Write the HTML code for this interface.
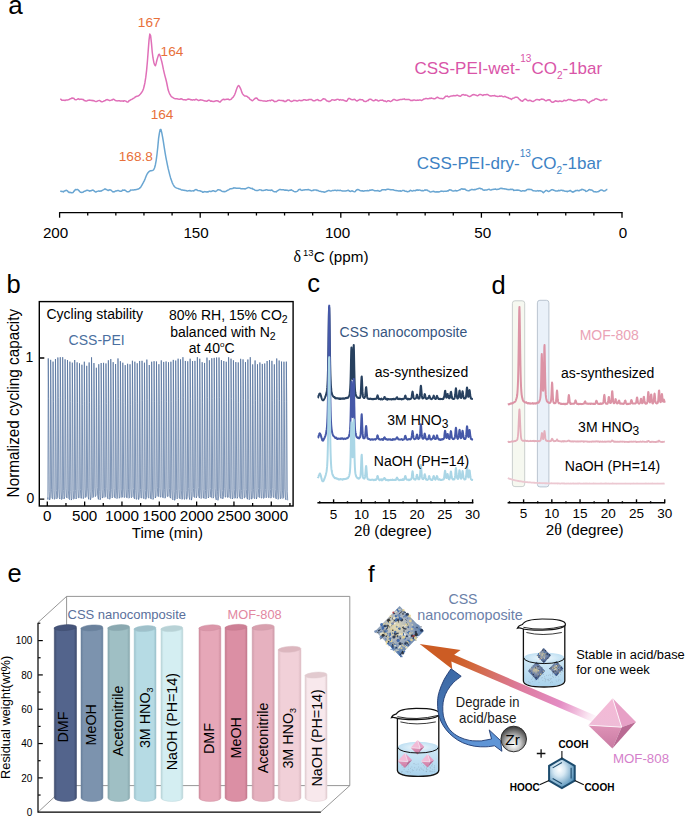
<!DOCTYPE html>
<html><head><meta charset="utf-8"><style>
html,body{margin:0;padding:0;background:#fff;width:685px;height:816px;overflow:hidden}
svg{display:block}
text{font-family:"Liberation Sans",sans-serif}
</style></head><body>
<svg width="685" height="816" viewBox="0 0 685 816">
<defs>
<linearGradient id="cg0" x1="0" x2="1" y1="0" y2="0"><stop offset="0" stop-color="#3d4a6c"/><stop offset="0.12" stop-color="#53648c"/><stop offset="0.45" stop-color="#53648c" stop-opacity="1"/><stop offset="0.55" stop-color="#53648c"/><stop offset="0.88" stop-color="#53648c"/><stop offset="1" stop-color="#3d4a6c"/></linearGradient>
<linearGradient id="cg1" x1="0" x2="1" y1="0" y2="0"><stop offset="0" stop-color="#68809c"/><stop offset="0.12" stop-color="#7c93ae"/><stop offset="0.45" stop-color="#7c93ae" stop-opacity="1"/><stop offset="0.55" stop-color="#7c93ae"/><stop offset="0.88" stop-color="#7c93ae"/><stop offset="1" stop-color="#68809c"/></linearGradient>
<linearGradient id="cg2" x1="0" x2="1" y1="0" y2="0"><stop offset="0" stop-color="#88a8ae"/><stop offset="0.12" stop-color="#9fbfc4"/><stop offset="0.45" stop-color="#9fbfc4" stop-opacity="1"/><stop offset="0.55" stop-color="#9fbfc4"/><stop offset="0.88" stop-color="#9fbfc4"/><stop offset="1" stop-color="#88a8ae"/></linearGradient>
<linearGradient id="cg3" x1="0" x2="1" y1="0" y2="0"><stop offset="0" stop-color="#9cc2cc"/><stop offset="0.12" stop-color="#b6dbe4"/><stop offset="0.45" stop-color="#b6dbe4" stop-opacity="1"/><stop offset="0.55" stop-color="#b6dbe4"/><stop offset="0.88" stop-color="#b6dbe4"/><stop offset="1" stop-color="#9cc2cc"/></linearGradient>
<linearGradient id="cg4" x1="0" x2="1" y1="0" y2="0"><stop offset="0" stop-color="#b8d4d8"/><stop offset="0.12" stop-color="#d4eef2"/><stop offset="0.45" stop-color="#d4eef2" stop-opacity="1"/><stop offset="0.55" stop-color="#d4eef2"/><stop offset="0.88" stop-color="#d4eef2"/><stop offset="1" stop-color="#b8d4d8"/></linearGradient>
<linearGradient id="cg5" x1="0" x2="1" y1="0" y2="0"><stop offset="0" stop-color="#cf8e9f"/><stop offset="0.12" stop-color="#e6a7b8"/><stop offset="0.45" stop-color="#e6a7b8" stop-opacity="1"/><stop offset="0.55" stop-color="#e6a7b8"/><stop offset="0.88" stop-color="#e6a7b8"/><stop offset="1" stop-color="#cf8e9f"/></linearGradient>
<linearGradient id="cg6" x1="0" x2="1" y1="0" y2="0"><stop offset="0" stop-color="#c47a8e"/><stop offset="0.12" stop-color="#db8fa4"/><stop offset="0.45" stop-color="#db8fa4" stop-opacity="1"/><stop offset="0.55" stop-color="#db8fa4"/><stop offset="0.88" stop-color="#db8fa4"/><stop offset="1" stop-color="#c47a8e"/></linearGradient>
<linearGradient id="cg7" x1="0" x2="1" y1="0" y2="0"><stop offset="0" stop-color="#cf9caa"/><stop offset="0.12" stop-color="#e6b1bf"/><stop offset="0.45" stop-color="#e6b1bf" stop-opacity="1"/><stop offset="0.55" stop-color="#e6b1bf"/><stop offset="0.88" stop-color="#e6b1bf"/><stop offset="1" stop-color="#cf9caa"/></linearGradient>
<linearGradient id="cg8" x1="0" x2="1" y1="0" y2="0"><stop offset="0" stop-color="#dcbac2"/><stop offset="0.12" stop-color="#f1d0d8"/><stop offset="0.45" stop-color="#f1d0d8" stop-opacity="1"/><stop offset="0.55" stop-color="#f1d0d8"/><stop offset="0.88" stop-color="#f1d0d8"/><stop offset="1" stop-color="#dcbac2"/></linearGradient>
<linearGradient id="cg9" x1="0" x2="1" y1="0" y2="0"><stop offset="0" stop-color="#e0ccd0"/><stop offset="0.12" stop-color="#f8e8ec"/><stop offset="0.45" stop-color="#f8e8ec" stop-opacity="1"/><stop offset="0.55" stop-color="#f8e8ec"/><stop offset="0.88" stop-color="#f8e8ec"/><stop offset="1" stop-color="#e0ccd0"/></linearGradient>
<linearGradient id="arrg" gradientUnits="userSpaceOnUse" x1="598" y1="720.5" x2="452" y2="657"><stop offset="0" stop-color="#ffffff"/><stop offset="0.07" stop-color="#fae6f2"/><stop offset="0.15" stop-color="#f0bcdc"/><stop offset="0.26" stop-color="#e48cc4"/><stop offset="0.55" stop-color="#dc7a9a"/><stop offset="0.85" stop-color="#d2683e"/><stop offset="1" stop-color="#cc5c24"/></linearGradient>
<radialGradient id="cssg2" cx="0.45" cy="0.45" r="0.6"><stop offset="0" stop-color="#d8cca0"/><stop offset="0.4" stop-color="#7888a8"/><stop offset="1" stop-color="#28406e"/></radialGradient>
<radialGradient id="cssg" cx="0.42" cy="0.42" r="0.6"><stop offset="0" stop-color="#e8dcb0"/><stop offset="0.45" stop-color="#a9b3bf"/><stop offset="1" stop-color="#4a72a8"/></radialGradient>
<linearGradient id="liq" x1="0" y1="0" x2="0" y2="1"><stop offset="0" stop-color="#d2eaf7"/><stop offset="1" stop-color="#a9d2ec"/></linearGradient>
<radialGradient id="surf" cx="0.5" cy="0.5" r="0.6"><stop offset="0" stop-color="#f2f9fd"/><stop offset="1" stop-color="#b4daf0"/></radialGradient>
<linearGradient id="octA" x1="0" y1="0" x2="0" y2="1"><stop offset="0" stop-color="#f4b9d6"/><stop offset="1" stop-color="#efbcd7"/></linearGradient>
<linearGradient id="octC" x1="0" y1="0" x2="0" y2="1"><stop offset="0" stop-color="#de93b7"/><stop offset="1" stop-color="#c97aa2"/></linearGradient>
<linearGradient id="bluearr" x1="0" y1="0" x2="0.3" y2="1"><stop offset="0" stop-color="#3b67a3"/><stop offset="0.55" stop-color="#4777b5"/><stop offset="1" stop-color="#5f95d6"/></linearGradient>
<radialGradient id="zr" cx="0.5" cy="0.62" r="0.6" fx="0.5" fy="0.75"><stop offset="0" stop-color="#ffffff"/><stop offset="0.45" stop-color="#c8c8c8"/><stop offset="1" stop-color="#3c3c3c"/></radialGradient>
<radialGradient id="hexg" cx="0.4" cy="0.38" r="0.65"><stop offset="0" stop-color="#ffffff"/><stop offset="0.35" stop-color="#d6e8f3"/><stop offset="1" stop-color="#4f8db6"/></radialGradient>
</defs>
<rect width="685" height="816" fill="#fff"/>
<!-- panel a -->
<text x="8.3" y="13.6" font-family="Liberation Sans" font-size="26" fill="#000" text-anchor="start" font-weight="normal" >a</text>
<g stroke="#000" stroke-width="1.3" fill="none">
<path d="M59.6,212.7 H622.4"/>
<path d="M59.60,212.1 V217.70"/>
<path d="M87.72,212.1 V215.50"/>
<path d="M115.84,212.1 V215.50"/>
<path d="M143.96,212.1 V215.50"/>
<path d="M172.08,212.1 V215.50"/>
<path d="M200.20,212.1 V217.70"/>
<path d="M228.32,212.1 V215.50"/>
<path d="M256.44,212.1 V215.50"/>
<path d="M284.56,212.1 V215.50"/>
<path d="M312.68,212.1 V215.50"/>
<path d="M340.80,212.1 V217.70"/>
<path d="M368.92,212.1 V215.50"/>
<path d="M397.04,212.1 V215.50"/>
<path d="M425.16,212.1 V215.50"/>
<path d="M453.28,212.1 V215.50"/>
<path d="M481.40,212.1 V217.70"/>
<path d="M509.52,212.1 V215.50"/>
<path d="M537.64,212.1 V215.50"/>
<path d="M565.76,212.1 V215.50"/>
<path d="M593.88,212.1 V215.50"/>
<path d="M622.00,212.1 V217.70"/>
</g>
<text x="55.6" y="237.9" font-family="Liberation Sans" font-size="15.2" fill="#000" text-anchor="middle" font-weight="normal" >200</text>
<text x="196.1" y="237.9" font-family="Liberation Sans" font-size="15.2" fill="#000" text-anchor="middle" font-weight="normal" >150</text>
<text x="337.6" y="237.9" font-family="Liberation Sans" font-size="15.2" fill="#000" text-anchor="middle" font-weight="normal" >100</text>
<text x="482.8" y="237.9" font-family="Liberation Sans" font-size="15.2" fill="#000" text-anchor="middle" font-weight="normal" >50</text>
<text x="622.9" y="237.9" font-family="Liberation Sans" font-size="15.2" fill="#000" text-anchor="middle" font-weight="normal" >0</text>
<text x="293.5" y="261.5" font-family="Liberation Sans" font-size="15.2"><tspan font-family="Liberation Serif" font-size="16">δ</tspan><tspan dx="2" dy="-6" font-size="9.5">13</tspan><tspan dy="6">C (ppm)</tspan></text>
<path d="M60.20,98.87 L61.00,99.33 L61.80,100.28 L62.60,100.25 L63.40,100.13 L64.20,100.27 L65.00,100.48 L65.80,100.04 L66.60,99.96 L67.40,100.12 L68.20,99.83 L69.00,99.62 L69.80,98.97 L70.60,98.80 L71.40,98.26 L72.20,97.95 L73.00,98.21 L73.80,98.27 L74.60,99.41 L75.40,99.64 L76.20,99.67 L77.00,99.39 L77.80,99.00 L78.60,98.81 L79.40,99.40 L80.20,99.36 L81.00,99.31 L81.80,99.16 L82.60,99.42 L83.40,99.45 L84.20,100.50 L85.00,100.64 L85.80,100.93 L86.60,101.06 L87.40,100.69 L88.20,100.26 L89.00,100.21 L89.80,100.11 L90.60,100.32 L91.40,100.52 L92.20,100.31 L93.00,100.84 L93.80,100.56 L94.60,101.13 L95.40,101.39 L96.20,101.40 L97.00,101.23 L97.80,100.87 L98.60,100.63 L99.40,100.47 L100.20,100.98 L101.00,101.54 L101.80,101.73 L102.60,101.66 L103.40,101.39 L104.20,100.80 L105.00,100.75 L105.80,100.03 L106.60,99.73 L107.40,99.61 L108.20,99.94 L109.00,100.32 L109.80,100.64 L110.60,100.37 L111.40,100.08 L112.20,100.01 L113.00,99.24 L113.80,99.28 L114.60,99.87 L115.40,100.50 L116.20,100.66 L117.00,100.89 L117.80,100.87 L118.60,100.65 L119.40,100.70 L120.20,101.14 L121.00,100.88 L121.80,101.07 L122.60,100.94 L123.40,101.30 L124.20,100.65 L125.00,100.87 L125.80,101.12 L126.60,101.67 L127.40,101.91 L128.20,101.91 L129.00,100.77 L129.80,100.51 L130.60,99.91 L131.40,99.45 L132.20,99.09 L133.00,98.53 L133.80,98.10 L134.60,97.61 L135.40,96.94 L136.20,96.52 L137.00,96.26 L137.80,96.02 L138.60,95.74 L139.40,95.07 L140.20,94.23 L141.00,93.33 L141.80,92.20 L142.60,90.84 L143.40,88.99 L144.20,86.03 L145.00,82.24 L145.80,77.15 L146.60,70.31 L147.40,61.50 L148.20,50.91 L149.00,40.46 L149.80,34.04 L150.60,35.56 L151.40,42.58 L152.20,51.74 L153.00,57.98 L153.80,62.16 L154.60,64.70 L155.40,65.66 L156.20,63.19 L157.00,59.77 L157.80,57.14 L158.60,54.66 L159.40,54.26 L160.20,56.04 L161.00,58.86 L161.80,61.73 L162.60,65.38 L163.40,69.41 L164.20,72.87 L165.00,76.06 L165.80,78.99 L166.60,82.26 L167.40,86.27 L168.20,90.11 L169.00,92.31 L169.80,94.10 L170.60,95.47 L171.40,96.59 L172.20,97.17 L173.00,97.72 L173.80,98.20 L174.60,98.50 L175.40,98.70 L176.20,98.81 L177.00,98.80 L177.80,98.95 L178.60,99.14 L179.40,99.28 L180.20,99.14 L181.00,98.74 L181.80,99.00 L182.60,99.48 L183.40,99.66 L184.20,99.76 L185.00,99.75 L185.80,100.01 L186.60,99.74 L187.40,99.37 L188.20,98.98 L189.00,99.19 L189.80,99.21 L190.60,99.77 L191.40,99.77 L192.20,100.17 L193.00,99.84 L193.80,99.77 L194.60,100.02 L195.40,99.51 L196.20,99.28 L197.00,99.60 L197.80,100.06 L198.60,100.51 L199.40,100.22 L200.20,99.81 L201.00,100.00 L201.80,100.09 L202.60,100.17 L203.40,100.55 L204.20,100.63 L205.00,101.05 L205.80,100.95 L206.60,101.19 L207.40,100.94 L208.20,100.32 L209.00,100.22 L209.80,100.51 L210.60,101.22 L211.40,101.03 L212.20,101.33 L213.00,101.50 L213.80,101.59 L214.60,101.26 L215.40,101.09 L216.20,100.74 L217.00,100.77 L217.80,100.97 L218.60,101.30 L219.40,101.96 L220.20,101.99 L221.00,100.93 L221.80,100.18 L222.60,99.66 L223.40,99.22 L224.20,99.71 L225.00,99.50 L225.80,99.51 L226.60,99.36 L227.40,99.25 L228.20,99.11 L229.00,99.74 L229.80,99.77 L230.60,99.40 L231.40,99.10 L232.20,97.88 L233.00,97.40 L233.80,96.08 L234.60,94.85 L235.40,92.65 L236.20,90.16 L237.00,88.00 L237.80,86.28 L238.60,85.52 L239.40,86.32 L240.20,87.82 L241.00,89.60 L241.80,92.19 L242.60,93.85 L243.40,94.88 L244.20,95.55 L245.00,96.12 L245.80,96.07 L246.60,96.20 L247.40,96.67 L248.20,97.50 L249.00,97.82 L249.80,99.15 L250.60,99.59 L251.40,100.08 L252.20,100.72 L253.00,100.30 L253.80,99.57 L254.60,98.87 L255.40,98.19 L256.20,97.94 L257.00,98.19 L257.80,99.27 L258.60,100.11 L259.40,100.26 L260.20,100.48 L261.00,100.44 L261.80,100.61 L262.60,100.88 L263.40,101.06 L264.20,101.06 L265.00,101.07 L265.80,101.17 L266.60,101.31 L267.40,100.83 L268.20,100.66 L269.00,100.61 L269.80,100.46 L270.60,100.71 L271.40,99.97 L272.20,100.14 L273.00,100.19 L273.80,101.17 L274.60,101.72 L275.40,101.40 L276.20,101.46 L277.00,101.12 L277.80,100.52 L278.60,100.25 L279.40,100.13 L280.20,100.36 L281.00,100.53 L281.80,100.44 L282.60,100.80 L283.40,100.55 L284.20,101.44 L285.00,101.34 L285.80,101.55 L286.60,100.83 L287.40,100.09 L288.20,100.01 L289.00,99.95 L289.80,100.55 L290.60,101.03 L291.40,101.50 L292.20,101.31 L293.00,100.92 L293.80,100.32 L294.60,100.39 L295.40,100.41 L296.20,100.75 L297.00,101.08 L297.80,101.00 L298.60,100.38 L299.40,100.22 L300.20,100.41 L301.00,100.75 L301.80,100.59 L302.60,100.55 L303.40,99.84 L304.20,99.85 L305.00,99.77 L305.80,100.17 L306.60,100.25 L307.40,99.93 L308.20,100.04 L309.00,99.45 L309.80,99.57 L310.60,99.50 L311.40,99.48 L312.20,100.02 L313.00,100.66 L313.80,100.85 L314.60,100.81 L315.40,100.52 L316.20,99.89 L317.00,99.84 L317.80,99.56 L318.60,100.42 L319.40,100.60 L320.20,100.70 L321.00,100.52 L321.80,100.05 L322.60,99.12 L323.40,98.78 L324.20,98.97 L325.00,99.05 L325.80,99.75 L326.60,100.86 L327.40,100.89 L328.20,101.49 L329.00,101.31 L329.80,101.49 L330.60,100.87 L331.40,100.20 L332.20,99.73 L333.00,99.87 L333.80,100.01 L334.60,100.36 L335.40,100.05 L336.20,99.83 L337.00,99.23 L337.80,99.37 L338.60,99.51 L339.40,100.15 L340.20,99.61 L341.00,99.90 L341.80,100.08 L342.60,99.86 L343.40,99.99 L344.20,100.55 L345.00,100.80 L345.80,101.16 L346.60,101.18 L347.40,100.19 L348.20,98.89 L349.00,98.37 L349.80,98.50 L350.60,99.27 L351.40,99.47 L352.20,99.71 L353.00,99.79 L353.80,99.42 L354.60,99.31 L355.40,99.93 L356.20,100.68 L357.00,101.09 L357.80,100.41 L358.60,100.26 L359.40,99.44 L360.20,99.47 L361.00,99.80 L361.80,99.79 L362.60,99.67 L363.40,100.63 L364.20,101.36 L365.00,101.42 L365.80,101.40 L366.60,101.22 L367.40,100.49 L368.20,100.63 L369.00,99.48 L369.80,99.30 L370.60,99.32 L371.40,99.57 L372.20,100.17 L373.00,100.69 L373.80,100.65 L374.60,100.54 L375.40,99.63 L376.20,99.96 L377.00,100.07 L377.80,100.70 L378.60,101.00 L379.40,100.61 L380.20,100.29 L381.00,100.31 L381.80,100.14 L382.60,100.01 L383.40,100.76 L384.20,101.15 L385.00,100.83 L385.80,101.40 L386.60,101.70 L387.40,101.01 L388.20,100.71 L389.00,100.86 L389.80,101.25 L390.60,101.53 L391.40,101.18 L392.20,100.66 L393.00,99.82 L393.80,99.54 L394.60,99.49 L395.40,100.06 L396.20,100.24 L397.00,100.39 L397.80,100.33 L398.60,99.91 L399.40,99.70 L400.20,99.57 L401.00,99.52 L401.80,99.43 L402.60,99.18 L403.40,99.15 L404.20,98.84 L405.00,99.51 L405.80,99.53 L406.60,99.56 L407.40,99.56 L408.20,99.37 L409.00,99.53 L409.80,99.69 L410.60,100.47 L411.40,100.44 L412.20,100.29 L413.00,100.39 L413.80,99.89 L414.60,100.07 L415.40,100.30 L416.20,100.40 L417.00,100.13 L417.80,100.12 L418.60,100.30 L419.40,99.88 L420.20,99.89 L421.00,100.21 L421.80,100.42 L422.60,99.88 L423.40,99.29 L424.20,98.96 L425.00,98.74 L425.80,98.47 L426.60,98.53 L427.40,98.84 L428.20,98.63 L429.00,98.55 L429.80,98.21 L430.60,98.46 L431.40,98.02 L432.20,98.37 L433.00,98.51 L433.80,98.72 L434.60,98.86 L435.40,98.46 L436.20,97.98 L437.00,97.35 L437.80,97.36 L438.60,97.89 L439.40,98.27 L440.20,98.44 L441.00,98.59 L441.80,98.58 L442.60,98.71 L443.40,98.42 L444.20,97.97 L445.00,96.83 L445.80,96.13 L446.60,96.37 L447.40,96.05 L448.20,96.80 L449.00,96.88 L449.80,96.52 L450.60,96.12 L451.40,96.00 L452.20,95.91 L453.00,95.84 L453.80,95.50 L454.60,95.85 L455.40,95.73 L456.20,95.48 L457.00,95.24 L457.80,95.36 L458.60,95.86 L459.40,96.07 L460.20,96.31 L461.00,95.76 L461.80,94.99 L462.60,94.67 L463.40,94.57 L464.20,94.92 L465.00,95.29 L465.80,94.85 L466.60,95.15 L467.40,95.42 L468.20,96.15 L469.00,96.40 L469.80,96.52 L470.60,96.15 L471.40,95.58 L472.20,95.04 L473.00,94.63 L473.80,94.61 L474.60,94.63 L475.40,95.12 L476.20,95.32 L477.00,95.64 L477.80,95.75 L478.60,95.12 L479.40,94.55 L480.20,94.56 L481.00,94.62 L481.80,94.91 L482.60,95.48 L483.40,95.20 L484.20,94.66 L485.00,94.85 L485.80,94.83 L486.60,94.47 L487.40,94.48 L488.20,94.82 L489.00,95.35 L489.80,95.79 L490.60,96.08 L491.40,95.99 L492.20,95.80 L493.00,95.81 L493.80,95.78 L494.60,95.51 L495.40,95.93 L496.20,96.21 L497.00,96.25 L497.80,96.61 L498.60,96.35 L499.40,96.00 L500.20,96.18 L501.00,96.01 L501.80,96.11 L502.60,96.50 L503.40,96.71 L504.20,96.64 L505.00,96.27 L505.80,96.95 L506.60,97.35 L507.40,97.45 L508.20,97.78 L509.00,98.22 L509.80,98.44 L510.60,98.78 L511.40,99.45 L512.20,98.76 L513.00,98.15 L513.80,97.97 L514.60,97.71 L515.40,97.24 L516.20,97.27 L517.00,97.14 L517.80,97.60 L518.60,98.45 L519.40,99.31 L520.20,99.89 L521.00,100.71 L521.80,100.94 L522.60,101.32 L523.40,100.04 L524.20,99.61 L525.00,98.97 L525.80,99.16 L526.60,99.86 L527.40,100.42 L528.20,100.70 L529.00,100.47 L529.80,100.28 L530.60,100.47 L531.40,101.02 L532.20,101.36 L533.00,101.57 L533.80,101.12 L534.60,100.68 L535.40,100.17 L536.20,99.60 L537.00,99.36 L537.80,99.65 L538.60,99.74 L539.40,100.19 L540.20,99.44 L541.00,99.44 L541.80,99.02 L542.60,99.17 L543.40,99.34 L544.20,99.72 L545.00,100.30 L545.80,100.75 L546.60,100.69 L547.40,100.07 L548.20,99.74 L549.00,99.98 L549.80,99.79 L550.60,100.98 L551.40,101.68 L552.20,102.31 L553.00,102.33 L553.80,101.81 L554.60,101.46 L555.40,100.66 L556.20,101.13 L557.00,101.10 L557.80,101.60 L558.60,101.59 L559.40,100.94 L560.20,101.04 L561.00,101.17 L561.80,101.55 L562.60,101.27 L563.40,100.89 L564.20,100.17 L565.00,100.56 L565.80,100.73 L566.60,100.42 L567.40,100.14 L568.20,99.48 L569.00,99.51 L569.80,99.65 L570.60,99.51 L571.40,100.03 L572.20,100.32 L573.00,100.41 L573.80,101.03 L574.60,100.56 L575.40,100.70 L576.20,100.64 L577.00,100.44 L577.80,99.97 L578.60,99.73 L579.40,99.60 L580.20,99.76 L581.00,100.17 L581.80,99.98 L582.60,99.81 L583.40,99.84 L584.20,100.03 L585.00,99.91 L585.80,100.29 L586.60,100.87 L587.40,101.99 L588.20,102.58 L589.00,102.92 L589.80,101.90 L590.60,101.45 L591.40,101.16 L592.20,100.55 L593.00,100.21 L593.80,100.23 L594.60,99.45 L595.40,98.89 L596.20,98.60 L597.00,98.93 L597.80,99.30 L598.60,99.51 L599.40,99.97 L600.20,100.44 L601.00,100.53 L601.80,100.19 L602.60,100.05 L603.40,99.72 L604.20,99.26 L605.00,99.68 L605.80,99.96 L606.60,99.78 L607.40,99.39" fill="none" stroke="#e070b8" stroke-width="1.5" stroke-linejoin="round"/>
<path d="M60.20,191.23 L61.00,191.31 L61.80,191.56 L62.60,191.55 L63.40,191.92 L64.20,190.98 L65.00,190.95 L65.80,190.40 L66.60,190.35 L67.40,190.79 L68.20,191.88 L69.00,192.53 L69.80,192.30 L70.60,192.45 L71.40,192.78 L72.20,192.65 L73.00,192.61 L73.80,191.40 L74.60,190.61 L75.40,189.53 L76.20,189.83 L77.00,189.41 L77.80,189.47 L78.60,190.40 L79.40,191.10 L80.20,192.13 L81.00,192.22 L81.80,192.43 L82.60,192.25 L83.40,191.94 L84.20,191.24 L85.00,191.15 L85.80,190.76 L86.60,190.34 L87.40,190.33 L88.20,190.49 L89.00,190.66 L89.80,191.27 L90.60,190.66 L91.40,190.64 L92.20,190.14 L93.00,190.05 L93.80,190.59 L94.60,191.43 L95.40,191.97 L96.20,191.90 L97.00,191.38 L97.80,191.18 L98.60,190.90 L99.40,191.18 L100.20,190.90 L101.00,191.19 L101.80,190.73 L102.60,190.12 L103.40,189.90 L104.20,189.46 L105.00,188.74 L105.80,189.38 L106.60,189.42 L107.40,190.18 L108.20,190.57 L109.00,189.93 L109.80,189.87 L110.60,189.90 L111.40,190.52 L112.20,191.29 L113.00,191.94 L113.80,191.63 L114.60,191.82 L115.40,191.05 L116.20,190.90 L117.00,190.71 L117.80,190.60 L118.60,190.62 L119.40,191.02 L120.20,191.25 L121.00,191.22 L121.80,190.97 L122.60,190.05 L123.40,190.13 L124.20,190.09 L125.00,190.27 L125.80,190.70 L126.60,191.45 L127.40,191.70 L128.20,191.86 L129.00,191.51 L129.80,191.10 L130.60,189.99 L131.40,190.13 L132.20,189.94 L133.00,190.01 L133.80,189.92 L134.60,189.75 L135.40,189.67 L136.20,189.50 L137.00,189.40 L137.80,189.08 L138.60,188.92 L139.40,188.37 L140.20,187.68 L141.00,186.68 L141.80,185.29 L142.60,183.84 L143.40,182.45 L144.20,180.85 L145.00,179.10 L145.80,177.00 L146.60,175.05 L147.40,173.51 L148.20,172.43 L149.00,171.66 L149.80,171.06 L150.60,170.81 L151.40,170.70 L152.20,170.62 L153.00,170.34 L153.80,169.53 L154.60,167.75 L155.40,164.71 L156.20,160.33 L157.00,154.26 L157.80,147.01 L158.60,138.36 L159.40,133.12 L160.20,129.50 L161.00,129.58 L161.80,132.90 L162.60,137.05 L163.40,141.96 L164.20,147.21 L165.00,152.09 L165.80,156.79 L166.60,160.83 L167.40,164.95 L168.20,168.66 L169.00,171.93 L169.80,175.09 L170.60,177.89 L171.40,180.26 L172.20,182.58 L173.00,184.27 L173.80,185.76 L174.60,186.72 L175.40,187.36 L176.20,187.83 L177.00,188.17 L177.80,188.40 L178.60,188.72 L179.40,189.05 L180.20,189.20 L181.00,189.66 L181.80,189.91 L182.60,189.98 L183.40,190.20 L184.20,190.25 L185.00,190.48 L185.80,190.53 L186.60,190.73 L187.40,191.12 L188.20,190.84 L189.00,190.85 L189.80,190.49 L190.60,190.93 L191.40,191.08 L192.20,190.87 L193.00,190.75 L193.80,190.98 L194.60,190.09 L195.40,189.78 L196.20,189.56 L197.00,189.97 L197.80,190.52 L198.60,190.63 L199.40,190.66 L200.20,190.85 L201.00,191.36 L201.80,191.38 L202.60,192.17 L203.40,192.20 L204.20,191.68 L205.00,191.62 L205.80,191.73 L206.60,192.08 L207.40,191.71 L208.20,191.90 L209.00,191.33 L209.80,191.23 L210.60,191.49 L211.40,191.39 L212.20,191.03 L213.00,190.72 L213.80,190.79 L214.60,191.34 L215.40,191.51 L216.20,191.04 L217.00,190.59 L217.80,189.80 L218.60,189.71 L219.40,189.91 L220.20,190.06 L221.00,190.62 L221.80,191.24 L222.60,191.39 L223.40,191.46 L224.20,191.79 L225.00,191.52 L225.80,191.49 L226.60,190.93 L227.40,190.39 L228.20,190.06 L229.00,189.61 L229.80,189.02 L230.60,188.65 L231.40,188.64 L232.20,188.48 L233.00,188.46 L233.80,187.84 L234.60,188.03 L235.40,188.06 L236.20,188.29 L237.00,188.27 L237.80,188.18 L238.60,188.34 L239.40,188.34 L240.20,188.25 L241.00,188.82 L241.80,188.86 L242.60,188.61 L243.40,188.83 L244.20,188.65 L245.00,189.06 L245.80,188.64 L246.60,188.22 L247.40,187.91 L248.20,187.51 L249.00,187.60 L249.80,187.84 L250.60,188.19 L251.40,188.46 L252.20,188.31 L253.00,189.34 L253.80,189.22 L254.60,189.85 L255.40,190.38 L256.20,190.55 L257.00,190.57 L257.80,190.50 L258.60,190.17 L259.40,189.84 L260.20,189.87 L261.00,189.98 L261.80,190.50 L262.60,190.39 L263.40,190.60 L264.20,190.33 L265.00,190.23 L265.80,189.85 L266.60,189.76 L267.40,190.01 L268.20,190.27 L269.00,190.34 L269.80,190.26 L270.60,190.45 L271.40,189.96 L272.20,190.22 L273.00,191.07 L273.80,191.51 L274.60,191.73 L275.40,191.63 L276.20,191.90 L277.00,191.06 L277.80,190.56 L278.60,190.05 L279.40,189.56 L280.20,189.42 L281.00,189.74 L281.80,189.81 L282.60,189.82 L283.40,189.84 L284.20,189.97 L285.00,190.22 L285.80,189.94 L286.60,190.27 L287.40,190.27 L288.20,190.65 L289.00,190.47 L289.80,190.33 L290.60,190.25 L291.40,189.74 L292.20,190.37 L293.00,190.74 L293.80,191.37 L294.60,191.65 L295.40,191.80 L296.20,191.66 L297.00,191.36 L297.80,190.81 L298.60,189.66 L299.40,189.41 L300.20,189.26 L301.00,190.13 L301.80,190.40 L302.60,190.36 L303.40,189.90 L304.20,189.99 L305.00,189.82 L305.80,189.85 L306.60,189.76 L307.40,189.73 L308.20,189.44 L309.00,189.76 L309.80,190.01 L310.60,190.42 L311.40,190.76 L312.20,190.61 L313.00,190.50 L313.80,189.97 L314.60,189.93 L315.40,189.95 L316.20,189.95 L317.00,190.52 L317.80,190.33 L318.60,190.91 L319.40,191.19 L320.20,191.16 L321.00,191.57 L321.80,191.81 L322.60,191.84 L323.40,191.83 L324.20,192.20 L325.00,191.94 L325.80,191.79 L326.60,191.23 L327.40,191.00 L328.20,190.55 L329.00,190.58 L329.80,190.80 L330.60,190.91 L331.40,190.89 L332.20,190.60 L333.00,190.60 L333.80,190.47 L334.60,190.36 L335.40,190.33 L336.20,190.52 L337.00,190.70 L337.80,190.13 L338.60,190.40 L339.40,190.59 L340.20,190.19 L341.00,190.75 L341.80,190.69 L342.60,191.12 L343.40,190.89 L344.20,190.89 L345.00,191.02 L345.80,191.03 L346.60,190.67 L347.40,190.46 L348.20,190.18 L349.00,190.75 L349.80,191.24 L350.60,191.41 L351.40,190.99 L352.20,190.83 L353.00,191.25 L353.80,191.63 L354.60,191.85 L355.40,191.29 L356.20,190.31 L357.00,189.73 L357.80,189.44 L358.60,189.68 L359.40,190.26 L360.20,190.64 L361.00,190.66 L361.80,190.94 L362.60,190.75 L363.40,191.16 L364.20,191.07 L365.00,190.63 L365.80,190.85 L366.60,190.69 L367.40,190.50 L368.20,190.81 L369.00,190.77 L369.80,190.04 L370.60,190.25 L371.40,189.95 L372.20,189.83 L373.00,190.12 L373.80,190.31 L374.60,190.72 L375.40,190.75 L376.20,190.64 L377.00,190.66 L377.80,190.53 L378.60,190.87 L379.40,191.29 L380.20,190.98 L381.00,190.71 L381.80,189.90 L382.60,189.74 L383.40,189.63 L384.20,189.74 L385.00,189.67 L385.80,189.92 L386.60,189.55 L387.40,189.22 L388.20,189.12 L389.00,189.39 L389.80,189.38 L390.60,189.84 L391.40,189.73 L392.20,189.63 L393.00,189.71 L393.80,189.98 L394.60,190.23 L395.40,190.42 L396.20,190.49 L397.00,190.66 L397.80,190.68 L398.60,191.09 L399.40,190.99 L400.20,190.70 L401.00,191.29 L401.80,190.92 L402.60,190.47 L403.40,190.55 L404.20,190.54 L405.00,191.31 L405.80,191.33 L406.60,191.31 L407.40,191.83 L408.20,191.50 L409.00,191.58 L409.80,190.67 L410.60,190.26 L411.40,190.81 L412.20,190.94 L413.00,190.91 L413.80,190.43 L414.60,190.64 L415.40,190.69 L416.20,190.00 L417.00,190.40 L417.80,189.85 L418.60,190.25 L419.40,190.01 L420.20,190.12 L421.00,190.60 L421.80,190.69 L422.60,190.56 L423.40,190.75 L424.20,190.30 L425.00,189.81 L425.80,190.31 L426.60,189.91 L427.40,190.18 L428.20,190.87 L429.00,191.15 L429.80,191.73 L430.60,192.09 L431.40,191.87 L432.20,191.58 L433.00,191.54 L433.80,191.31 L434.60,191.75 L435.40,192.02 L436.20,191.83 L437.00,192.08 L437.80,191.84 L438.60,192.06 L439.40,191.72 L440.20,191.43 L441.00,191.06 L441.80,191.28 L442.60,191.16 L443.40,191.49 L444.20,191.36 L445.00,191.12 L445.80,191.30 L446.60,191.19 L447.40,190.85 L448.20,190.88 L449.00,190.14 L449.80,189.79 L450.60,189.90 L451.40,190.21 L452.20,190.76 L453.00,190.89 L453.80,190.94 L454.60,190.73 L455.40,190.48 L456.20,190.99 L457.00,190.77 L457.80,190.66 L458.60,190.34 L459.40,189.84 L460.20,189.87 L461.00,189.11 L461.80,188.67 L462.60,189.23 L463.40,189.10 L464.20,189.28 L465.00,189.00 L465.80,189.92 L466.60,190.22 L467.40,190.64 L468.20,190.86 L469.00,190.84 L469.80,190.20 L470.60,190.03 L471.40,189.43 L472.20,189.41 L473.00,189.74 L473.80,189.74 L474.60,189.47 L475.40,189.66 L476.20,189.31 L477.00,188.88 L477.80,188.85 L478.60,188.53 L479.40,188.22 L480.20,188.25 L481.00,188.89 L481.80,188.68 L482.60,189.52 L483.40,190.04 L484.20,190.29 L485.00,190.01 L485.80,190.03 L486.60,189.92 L487.40,189.83 L488.20,189.38 L489.00,189.19 L489.80,189.73 L490.60,190.00 L491.40,189.91 L492.20,189.53 L493.00,189.41 L493.80,189.19 L494.60,189.28 L495.40,189.00 L496.20,189.44 L497.00,189.52 L497.80,189.30 L498.60,189.27 L499.40,188.82 L500.20,188.36 L501.00,188.41 L501.80,188.26 L502.60,188.68 L503.40,188.82 L504.20,188.78 L505.00,189.12 L505.80,189.07 L506.60,189.25 L507.40,189.57 L508.20,189.49 L509.00,189.67 L509.80,189.40 L510.60,189.23 L511.40,189.56 L512.20,189.32 L513.00,189.40 L513.80,190.42 L514.60,190.25 L515.40,190.34 L516.20,190.12 L517.00,190.20 L517.80,189.97 L518.60,190.35 L519.40,190.37 L520.20,190.69 L521.00,191.22 L521.80,191.05 L522.60,190.81 L523.40,190.87 L524.20,190.95 L525.00,190.69 L525.80,190.66 L526.60,189.88 L527.40,189.42 L528.20,189.31 L529.00,189.42 L529.80,189.35 L530.60,189.57 L531.40,189.50 L532.20,190.12 L533.00,190.80 L533.80,190.64 L534.60,190.86 L535.40,191.03 L536.20,190.94 L537.00,190.88 L537.80,190.61 L538.60,191.08 L539.40,190.75 L540.20,190.73 L541.00,191.05 L541.80,191.31 L542.60,192.04 L543.40,192.64 L544.20,191.89 L545.00,191.27 L545.80,190.44 L546.60,190.44 L547.40,190.88 L548.20,191.48 L549.00,191.39 L549.80,191.00 L550.60,190.44 L551.40,189.81 L552.20,189.61 L553.00,189.79 L553.80,190.35 L554.60,190.49 L555.40,190.91 L556.20,191.10 L557.00,190.88 L557.80,190.94 L558.60,190.32 L559.40,190.76 L560.20,190.43 L561.00,190.17 L561.80,190.17 L562.60,190.70 L563.40,190.53 L564.20,190.85 L565.00,191.20 L565.80,191.19 L566.60,191.28 L567.40,191.72 L568.20,191.20 L569.00,190.99 L569.80,190.53 L570.60,190.61 L571.40,191.42 L572.20,191.71 L573.00,192.30 L573.80,191.46 L574.60,191.46 L575.40,190.56 L576.20,190.65 L577.00,190.35 L577.80,190.49 L578.60,190.78 L579.40,190.70 L580.20,190.07 L581.00,190.08 L581.80,189.36 L582.60,189.52 L583.40,189.76 L584.20,190.16 L585.00,190.31 L585.80,191.40 L586.60,191.28 L587.40,190.84 L588.20,190.29 L589.00,189.71 L589.80,189.60 L590.60,190.00 L591.40,190.04 L592.20,190.31 L593.00,190.93 L593.80,191.76 L594.60,191.71 L595.40,191.76 L596.20,192.05 L597.00,191.87 L597.80,191.83 L598.60,191.56 L599.40,190.97 L600.20,190.41 L601.00,190.04 L601.80,190.01 L602.60,190.46 L603.40,190.93 L604.20,191.06 L605.00,190.89 L605.80,190.23 L606.60,189.60 L607.40,189.61" fill="none" stroke="#6aa6d2" stroke-width="1.5" stroke-linejoin="round"/>
<text x="149.2" y="26.8" font-family="Liberation Sans" font-size="13.6" fill="#e8703a" text-anchor="middle" font-weight="normal" >167</text>
<text x="160.6" y="55.5" font-family="Liberation Sans" font-size="13.6" fill="#e8703a" text-anchor="start" font-weight="normal" >164</text>
<text x="162.0" y="119.0" font-family="Liberation Sans" font-size="13.6" fill="#e8703a" text-anchor="middle" font-weight="normal" >164</text>
<text x="118.8" y="161.4" font-family="Liberation Sans" font-size="13.6" fill="#e8703a" text-anchor="start" font-weight="normal" >168.8</text>
<text x="414.5" y="73.9" font-family="Liberation Sans" font-size="17" fill="#d955a8">CSS-PEI-wet-<tspan dy="-12" font-size="10">13</tspan><tspan dy="12">CO</tspan><tspan dy="5" font-size="10">2</tspan><tspan dy="-5">-1bar</tspan></text>
<text x="416.8" y="168.6" font-family="Liberation Sans" font-size="17" fill="#3d82c4">CSS-PEI-dry-<tspan dy="-12" font-size="10">13</tspan><tspan dy="12">CO</tspan><tspan dy="5" font-size="10">2</tspan><tspan dy="-5">-1bar</tspan></text>
<!-- panel b -->
<text x="6.5" y="293.4" font-family="Liberation Sans" font-size="25.5" fill="#000" text-anchor="start" font-weight="normal" >b</text>
<path d="M47.9,497.5 L47.90,499.52 L48.25,358.41 L48.65,398.41 L49.15,491.52 L49.60,500.02 L50.30,497.81 L50.66,359.84 L51.05,399.84 L51.55,489.81 L52.01,498.31 L52.71,498.82 L53.06,361.61 L53.46,401.61 L53.96,490.82 L54.41,499.32 L55.11,498.34 L55.46,359.00 L55.86,399.00 L56.36,490.34 L56.81,498.84 L57.52,497.16 L57.87,357.49 L58.27,397.49 L58.77,489.16 L59.22,497.66 L59.92,499.02 L60.27,357.20 L60.67,397.20 L61.17,491.02 L61.62,499.52 L62.33,498.48 L62.68,357.20 L63.08,397.20 L63.58,490.48 L64.03,498.98 L64.73,496.82 L65.08,359.32 L65.48,399.32 L65.98,488.82 L66.44,497.32 L67.14,498.07 L67.49,360.04 L67.89,400.04 L68.39,490.07 L68.84,498.57 L69.55,499.57 L69.89,361.61 L70.30,401.61 L70.80,491.57 L71.25,500.07 L71.95,498.68 L72.30,362.63 L72.70,402.63 L73.20,490.68 L73.65,499.18 L74.35,498.51 L74.70,360.01 L75.10,400.01 L75.60,490.51 L76.05,499.01 L76.76,497.34 L77.11,362.34 L77.51,402.34 L78.01,489.34 L78.46,497.84 L79.16,497.74 L79.51,363.28 L79.91,403.28 L80.41,489.74 L80.86,498.24 L81.57,498.20 L81.92,364.73 L82.32,404.73 L82.82,490.20 L83.27,498.70 L83.97,497.06 L84.32,361.71 L84.72,401.71 L85.22,489.06 L85.67,497.56 L86.38,496.10 L86.73,365.84 L87.13,405.84 L87.63,488.10 L88.08,496.60 L88.78,499.35 L89.13,362.47 L89.53,402.47 L90.03,491.35 L90.48,499.85 L91.19,497.11 L91.54,357.32 L91.94,397.32 L92.44,489.11 L92.89,497.61 L93.59,496.15 L93.94,363.07 L94.34,403.07 L94.84,488.15 L95.30,496.65 L96.00,495.21 L96.35,367.75 L96.75,407.75 L97.25,487.21 L97.70,495.71 L98.41,499.36 L98.75,364.24 L99.16,404.24 L99.66,491.36 L100.11,499.86 L100.81,497.58 L101.16,363.03 L101.56,403.03 L102.06,489.58 L102.51,498.08 L103.22,496.90 L103.56,362.83 L103.97,402.83 L104.47,488.90 L104.92,497.40 L105.62,496.68 L105.97,363.44 L106.37,403.44 L106.87,488.68 L107.32,497.18 L108.02,498.80 L108.37,360.29 L108.77,400.29 L109.27,490.80 L109.72,499.30 L110.43,497.44 L110.78,359.05 L111.18,399.05 L111.68,489.44 L112.13,497.94 L112.83,496.46 L113.18,362.14 L113.58,402.14 L114.08,488.46 L114.53,496.96 L115.24,498.14 L115.59,364.02 L115.99,404.02 L116.49,490.14 L116.94,498.64 L117.64,497.75 L117.99,358.45 L118.39,398.45 L118.89,489.75 L119.34,498.25 L120.05,497.14 L120.40,361.21 L120.80,401.21 L121.30,489.14 L121.75,497.64 L122.45,497.09 L122.80,362.73 L123.20,402.73 L123.70,489.09 L124.15,497.59 L124.86,497.10 L125.21,365.14 L125.61,405.14 L126.11,489.10 L126.56,497.60 L127.26,497.76 L127.61,363.77 L128.01,403.77 L128.51,489.76 L128.96,498.26 L129.67,497.26 L130.02,364.29 L130.42,404.29 L130.92,489.26 L131.37,497.76 L132.07,496.65 L132.42,360.75 L132.82,400.75 L133.32,488.65 L133.77,497.15 L134.48,498.74 L134.83,361.68 L135.23,401.68 L135.73,490.74 L136.18,499.24 L136.88,499.09 L137.23,363.27 L137.63,403.27 L138.13,491.09 L138.58,499.59 L139.29,497.59 L139.64,360.96 L140.04,400.96 L140.54,489.59 L140.99,498.09 L141.69,497.77 L142.04,360.82 L142.44,400.82 L142.94,489.77 L143.39,498.27 L144.10,498.74 L144.45,362.71 L144.85,402.71 L145.35,490.74 L145.80,499.24 L146.50,497.11 L146.85,359.58 L147.25,399.58 L147.75,489.11 L148.20,497.61 L148.91,498.11 L149.26,365.01 L149.66,405.01 L150.16,490.11 L150.61,498.61 L151.31,498.99 L151.66,361.73 L152.06,401.73 L152.56,490.99 L153.01,499.49 L153.72,497.52 L154.07,361.22 L154.47,401.22 L154.97,489.52 L155.42,498.02 L156.12,495.84 L156.47,361.48 L156.88,401.48 L157.38,487.84 L157.82,496.34 L158.53,496.59 L158.88,364.22 L159.28,404.22 L159.78,488.59 L160.23,497.09 L160.94,497.06 L161.28,360.37 L161.69,400.37 L162.19,489.06 L162.63,497.56 L163.34,497.73 L163.69,361.92 L164.09,401.92 L164.59,489.73 L165.04,498.23 L165.74,496.12 L166.09,361.47 L166.49,401.47 L166.99,488.12 L167.44,496.62 L168.15,496.32 L168.50,362.23 L168.90,402.23 L169.40,488.32 L169.85,496.82 L170.55,498.17 L170.90,361.71 L171.30,401.71 L171.80,490.17 L172.25,498.67 L172.96,499.84 L173.31,359.90 L173.71,399.90 L174.21,491.84 L174.66,500.34 L175.36,498.40 L175.71,360.57 L176.11,400.57 L176.61,490.40 L177.06,498.90 L177.77,497.61 L178.12,358.69 L178.52,398.69 L179.02,489.61 L179.47,498.11 L180.17,498.90 L180.52,359.32 L180.92,399.32 L181.42,490.90 L181.87,499.40 L182.58,498.85 L182.93,357.20 L183.33,397.20 L183.83,490.85 L184.28,499.35 L184.98,498.76 L185.33,360.95 L185.73,400.95 L186.23,490.76 L186.68,499.26 L187.39,496.56 L187.74,361.30 L188.14,401.30 L188.64,488.56 L189.09,497.06 L189.79,499.62 L190.14,358.72 L190.54,398.72 L191.04,491.62 L191.49,500.12 L192.20,496.38 L192.55,361.08 L192.95,401.08 L193.45,488.38 L193.90,496.88 L194.60,497.44 L194.95,360.87 L195.35,400.87 L195.85,489.44 L196.30,497.94 L197.01,495.51 L197.36,357.20 L197.76,397.20 L198.26,487.51 L198.71,496.01 L199.41,498.07 L199.76,358.70 L200.16,398.70 L200.66,490.07 L201.11,498.57 L201.82,497.55 L202.17,362.21 L202.57,402.21 L203.07,489.55 L203.52,498.05 L204.22,498.40 L204.57,362.95 L204.97,402.95 L205.47,490.40 L205.92,498.90 L206.63,497.50 L206.98,357.61 L207.38,397.61 L207.88,489.50 L208.33,498.00 L209.03,496.57 L209.38,360.28 L209.78,400.28 L210.28,488.57 L210.73,497.07 L211.44,497.68 L211.79,358.25 L212.19,398.25 L212.69,489.68 L213.14,498.18 L213.84,496.35 L214.19,357.88 L214.59,397.88 L215.09,488.35 L215.54,496.85 L216.25,499.82 L216.60,357.50 L217.00,397.50 L217.50,491.82 L217.95,500.32 L218.66,496.11 L219.00,357.49 L219.41,397.49 L219.91,488.11 L220.35,496.61 L221.06,498.40 L221.41,360.16 L221.81,400.16 L222.31,490.40 L222.76,498.90 L223.47,496.68 L223.81,361.05 L224.22,401.05 L224.72,488.68 L225.16,497.18 L225.87,497.01 L226.22,361.75 L226.62,401.75 L227.12,489.01 L227.57,497.51 L228.27,497.19 L228.62,357.22 L229.02,397.22 L229.52,489.19 L229.97,497.69 L230.68,498.51 L231.03,358.70 L231.43,398.70 L231.93,490.51 L232.38,499.01 L233.08,497.78 L233.43,360.29 L233.83,400.29 L234.33,489.78 L234.78,498.28 L235.49,497.88 L235.84,362.07 L236.24,402.07 L236.74,489.88 L237.19,498.38 L237.89,496.40 L238.24,362.42 L238.64,402.42 L239.14,488.40 L239.59,496.90 L240.30,498.58 L240.65,358.82 L241.05,398.82 L241.55,490.58 L242.00,499.08 L242.70,497.50 L243.05,359.38 L243.45,399.38 L243.95,489.50 L244.40,498.00 L245.11,497.31 L245.46,362.09 L245.86,402.09 L246.36,489.31 L246.81,497.81 L247.51,499.19 L247.86,359.50 L248.26,399.50 L248.76,491.19 L249.21,499.69 L249.92,498.68 L250.27,357.20 L250.67,397.20 L251.17,490.68 L251.62,499.18 L252.32,497.82 L252.67,364.41 L253.07,404.41 L253.57,489.82 L254.02,498.32 L254.73,498.53 L255.08,360.46 L255.48,400.46 L255.98,490.53 L256.43,499.03 L257.13,496.61 L257.49,364.29 L257.88,404.29 L258.38,488.61 L258.83,497.11 L259.54,497.61 L259.89,362.47 L260.29,402.47 L260.79,489.61 L261.24,498.11 L261.94,497.96 L262.30,363.94 L262.69,403.94 L263.19,489.96 L263.64,498.46 L264.35,497.38 L264.70,363.47 L265.10,403.47 L265.60,489.38 L266.05,497.88 L266.75,497.13 L267.11,361.01 L267.50,401.01 L268.00,489.13 L268.45,497.63 L269.16,497.66 L269.51,360.05 L269.91,400.05 L270.41,489.66 L270.86,498.16 L271.56,496.63 L271.92,360.84 L272.31,400.84 L272.81,488.63 L273.26,497.13 L273.97,497.66 L274.32,364.37 L274.72,404.37 L275.22,489.66 L275.67,498.16 L276.38,498.90 L276.73,358.49 L277.12,398.49 L277.62,490.90 L278.07,499.40 L278.78,498.31 L279.13,360.49 L279.53,400.49 L280.03,490.31 L280.48,498.81 L281.18,498.05 L281.53,361.56 L281.93,401.56 L282.43,490.05 L282.88,498.55 L283.59,497.22 L283.94,361.73 L284.34,401.73 L284.84,489.22 L285.29,497.72 L285.99,499.83 L286.34,361.61 L286.74,401.61 L287.24,491.83 L287.69,500.33" fill="none" stroke="#4a6a98" stroke-width="0.7" stroke-linejoin="miter" stroke-miterlimit="2"/>
<rect x="39.3" y="301.6" width="253.8" height="204.4" fill="none" stroke="#000" stroke-width="1.4"/>
<g stroke="#000" stroke-width="1.3">
<path d="M39.3,358 H44.3 M39.3,499.2 H44.3"/>
<path d="M47.30,506.0 V501.50"/>
<path d="M65.97,506.0 V503.00"/>
<path d="M84.63,506.0 V501.50"/>
<path d="M103.29,506.0 V503.00"/>
<path d="M121.96,506.0 V501.50"/>
<path d="M140.62,506.0 V503.00"/>
<path d="M159.29,506.0 V501.50"/>
<path d="M177.95,506.0 V503.00"/>
<path d="M196.62,506.0 V501.50"/>
<path d="M215.28,506.0 V503.00"/>
<path d="M233.95,506.0 V501.50"/>
<path d="M252.62,506.0 V503.00"/>
<path d="M271.28,506.0 V501.50"/>
<path d="M289.94,506.0 V503.00"/>
</g>
<text x="33.4" y="362.3" font-family="Liberation Sans" font-size="14" fill="#000" text-anchor="end" font-weight="normal" >1</text>
<text x="34.2" y="503.0" font-family="Liberation Sans" font-size="14" fill="#000" text-anchor="end" font-weight="normal" >0</text>
<text transform="translate(47.30,520.7) scale(1.07,1)" font-family="Liberation Sans" font-size="14.2" text-anchor="middle">0</text>
<text transform="translate(84.63,520.7) scale(1.07,1)" font-family="Liberation Sans" font-size="14.2" text-anchor="middle">500</text>
<text transform="translate(121.96,520.7) scale(1.07,1)" font-family="Liberation Sans" font-size="14.2" text-anchor="middle">1000</text>
<text transform="translate(159.29,520.7) scale(1.07,1)" font-family="Liberation Sans" font-size="14.2" text-anchor="middle">1500</text>
<text transform="translate(196.62,520.7) scale(1.07,1)" font-family="Liberation Sans" font-size="14.2" text-anchor="middle">2000</text>
<text transform="translate(233.95,520.7) scale(1.07,1)" font-family="Liberation Sans" font-size="14.2" text-anchor="middle">2500</text>
<text transform="translate(271.28,520.7) scale(1.07,1)" font-family="Liberation Sans" font-size="14.2" text-anchor="middle">3000</text>
<text x="131.8" y="538.3" font-family="Liberation Sans" font-size="15" fill="#000" text-anchor="start" font-weight="normal" >Time (min)</text>
<text transform="translate(18.7,497.4) rotate(-90)" font-family="Liberation Sans" font-size="15.8" textLength="188.5" lengthAdjust="spacingAndGlyphs">Normalized cycling capacity</text>
<text x="46.5" y="319.1" font-family="Liberation Sans" font-size="14" fill="#000" text-anchor="start" font-weight="normal" >Cycling stability</text>
<text x="68.6" y="345.0" font-family="Liberation Sans" font-size="14" fill="#4a6fa0" text-anchor="start" font-weight="normal" >CSS-PEI</text>
<text x="169" y="319.8" font-family="Liberation Sans" font-size="14">80% RH, 15% CO<tspan dy="3.5" font-size="10.5">2</tspan></text>
<text x="170.2" y="336.6" font-family="Liberation Sans" font-size="14">balanced with N<tspan dy="3.5" font-size="10.5">2</tspan></text>
<text x="188.8" y="353.4" font-family="Liberation Sans" font-size="14">at 40<tspan dy="-6" font-size="8">o</tspan><tspan dy="6">C</tspan></text>
<!-- panel c -->
<text x="307.3" y="292.2" font-family="Liberation Sans" font-size="25.5">c</text>
<path d="M317.75,397.92 L317.95,397.72 L318.14,397.25 L318.34,396.59 L318.53,395.89 L318.73,395.49 L318.92,394.99 L319.12,394.65 L319.31,393.94 L319.51,393.80 L319.70,393.50 L319.89,393.74 L320.09,393.64 L320.28,393.87 L320.48,394.26 L320.67,394.91 L320.87,395.57 L321.06,396.21 L321.26,396.94 L321.45,397.60 L321.65,398.14 L321.84,398.74 L322.04,399.31 L322.23,399.71 L322.42,399.90 L322.62,400.14 L322.81,400.33 L323.01,400.25 L323.20,400.21 L323.40,400.27 L323.59,400.17 L323.79,399.77 L323.98,399.36 L324.18,399.09 L324.37,398.75 L324.57,398.36 L324.76,397.98 L324.95,397.57 L325.15,396.99 L325.34,396.47 L325.54,396.07 L325.73,395.80 L325.93,395.08 L326.12,394.38 L326.32,393.47 L326.51,392.61 L326.71,391.72 L326.90,390.64 L327.09,389.15 L327.29,387.13 L327.48,384.19 L327.68,380.22 L327.87,374.41 L328.07,366.76 L328.26,356.59 L328.46,344.39 L328.65,330.59 L328.85,317.36 L329.04,308.54 L329.24,307.79 L329.43,315.90 L329.62,328.62 L329.82,342.49 L330.01,354.95 L330.21,365.18 L330.40,373.22 L330.60,379.11 L330.79,383.60 L330.99,386.58 L331.18,388.97 L331.38,390.64 L331.57,391.95 L331.77,392.88 L331.96,393.75 L332.15,394.63 L332.35,394.92 L332.54,395.33 L332.74,395.57 L332.93,396.08 L333.13,396.15 L333.32,396.49 L333.52,396.57 L333.71,396.95 L333.91,397.13 L334.10,397.24 L334.30,397.27 L334.49,397.09 L334.68,397.41 L334.88,397.72 L335.07,398.20 L335.27,398.04 L335.46,397.87 L335.66,397.78 L335.85,398.23 L336.05,398.40 L336.24,398.28 L336.44,398.18 L336.63,398.17 L336.82,398.27 L337.02,398.19 L337.21,398.27 L337.41,398.36 L337.60,398.46 L337.80,398.41 L337.99,398.25 L338.19,398.23 L338.38,398.41 L338.58,398.56 L338.77,398.46 L338.97,398.49 L339.16,398.59 L339.35,399.02 L339.55,398.88 L339.74,398.77 L339.94,398.37 L340.13,398.52 L340.33,398.88 L340.52,398.96 L340.72,398.74 L340.91,398.51 L341.11,398.51 L341.30,398.56 L341.50,398.45 L341.69,398.57 L341.88,398.73 L342.08,398.77 L342.27,398.85 L342.47,398.67 L342.66,398.70 L342.86,398.33 L343.05,398.21 L343.25,398.25 L343.44,398.42 L343.64,398.65 L343.83,398.60 L344.03,398.81 L344.22,398.82 L344.41,398.86 L344.61,398.67 L344.80,398.47 L345.00,398.24 L345.19,398.17 L345.39,398.09 L345.58,398.08 L345.78,398.08 L345.97,398.20 L346.17,398.18 L346.36,397.91 L346.55,397.81 L346.75,397.81 L346.94,398.09 L347.14,398.08 L347.33,397.88 L347.53,397.56 L347.72,397.60 L347.92,397.61 L348.11,397.74 L348.31,397.55 L348.50,397.13 L348.70,396.68 L348.89,396.14 L349.08,395.87 L349.28,395.36 L349.47,394.65 L349.67,393.70 L349.86,392.19 L350.06,390.28 L350.25,387.36 L350.45,383.32 L350.64,377.18 L350.84,369.11 L351.03,359.45 L351.23,350.80 L351.42,347.56 L351.61,351.85 L351.81,360.27 L352.00,368.56 L352.20,374.68 L352.39,378.30 L352.59,379.12 L352.78,377.34 L352.98,372.46 L353.17,365.20 L353.37,355.82 L353.56,347.60 L353.76,344.94 L353.95,350.42 L354.14,360.43 L354.34,370.30 L354.53,378.24 L354.73,383.90 L354.92,388.07 L355.12,390.81 L355.31,392.51 L355.51,393.56 L355.70,394.23 L355.90,395.23 L356.09,395.56 L356.28,396.20 L356.48,396.39 L356.67,396.67 L356.87,396.88 L357.06,397.12 L357.26,397.50 L357.45,397.63 L357.65,397.74 L357.84,397.80 L358.04,397.88 L358.23,397.82 L358.43,397.92 L358.62,397.80 L358.81,397.93 L359.01,397.80 L359.20,397.77 L359.40,397.68 L359.59,397.87 L359.79,397.99 L359.98,397.68 L360.18,397.17 L360.37,396.24 L360.57,394.92 L360.76,392.59 L360.96,389.07 L361.15,384.91 L361.34,380.39 L361.54,377.30 L361.73,376.44 L361.93,378.72 L362.12,382.82 L362.32,387.51 L362.51,391.63 L362.71,394.46 L362.90,396.23 L363.10,397.00 L363.29,397.32 L363.49,397.50 L363.68,397.74 L363.87,398.00 L364.07,398.06 L364.26,398.07 L364.46,397.94 L364.65,397.53 L364.85,397.02 L365.04,396.31 L365.24,395.16 L365.43,393.43 L365.63,391.34 L365.82,388.99 L366.01,387.34 L366.21,387.14 L366.40,388.75 L366.60,391.13 L366.79,393.37 L366.99,395.35 L367.18,396.88 L367.38,397.92 L367.57,398.27 L367.77,398.39 L367.96,398.61 L368.16,398.83 L368.35,398.76 L368.54,398.85 L368.74,398.71 L368.93,398.87 L369.13,398.72 L369.32,398.75 L369.52,398.85 L369.71,398.92 L369.91,398.94 L370.10,398.88 L370.30,398.80 L370.49,398.73 L370.69,398.59 L370.88,398.68 L371.07,398.98 L371.27,399.09 L371.46,399.07 L371.66,399.06 L371.85,399.02 L372.05,399.16 L372.24,399.13 L372.44,399.19 L372.63,399.12 L372.83,398.98 L373.02,398.87 L373.22,398.98 L373.41,399.15 L373.60,399.20 L373.80,399.06 L373.99,398.96 L374.19,399.03 L374.38,398.91 L374.58,398.99 L374.77,398.77 L374.97,399.00 L375.16,398.90 L375.36,398.88 L375.55,398.68 L375.74,398.67 L375.94,398.82 L376.13,398.62 L376.33,398.54 L376.52,398.65 L376.72,398.18 L376.91,397.55 L377.11,396.39 L377.30,395.93 L377.50,395.37 L377.69,395.45 L377.89,396.05 L378.08,396.97 L378.27,397.95 L378.47,398.32 L378.66,398.68 L378.86,399.04 L379.05,399.15 L379.25,399.08 L379.44,398.77 L379.64,398.88 L379.83,399.10 L380.03,399.13 L380.22,399.06 L380.42,398.99 L380.61,399.29 L380.80,399.53 L381.00,399.19 L381.19,398.87 L381.39,398.62 L381.58,399.01 L381.78,399.01 L381.97,399.33 L382.17,399.37 L382.36,399.48 L382.56,399.27 L382.75,399.14 L382.95,399.04 L383.14,399.11 L383.33,399.06 L383.53,398.78 L383.72,398.49 L383.92,398.08 L384.11,397.71 L384.31,397.15 L384.50,396.96 L384.70,397.07 L384.89,397.20 L385.09,397.79 L385.28,398.28 L385.47,398.85 L385.67,399.02 L385.86,399.11 L386.06,399.23 L386.25,398.85 L386.45,398.79 L386.64,398.82 L386.84,399.31 L387.03,399.56 L387.23,399.67 L387.42,399.35 L387.62,398.88 L387.81,398.79 L388.00,398.93 L388.20,399.30 L388.39,399.22 L388.59,399.24 L388.78,398.96 L388.98,399.03 L389.17,398.95 L389.37,399.17 L389.56,399.17 L389.76,399.21 L389.95,399.21 L390.15,399.15 L390.34,399.25 L390.53,399.28 L390.73,399.21 L390.92,399.06 L391.12,399.20 L391.31,399.25 L391.51,399.44 L391.70,399.28 L391.90,399.23 L392.09,399.02 L392.29,398.99 L392.48,399.09 L392.68,399.24 L392.87,399.08 L393.06,398.98 L393.26,398.90 L393.45,399.23 L393.65,399.02 L393.84,399.08 L394.04,398.83 L394.23,399.15 L394.43,399.03 L394.62,399.13 L394.82,399.26 L395.01,399.34 L395.20,399.33 L395.40,399.17 L395.59,398.98 L395.79,398.89 L395.98,398.66 L396.18,398.39 L396.37,397.97 L396.57,397.56 L396.76,397.38 L396.96,397.20 L397.15,397.27 L397.35,397.68 L397.54,398.20 L397.73,398.78 L397.93,398.97 L398.12,399.04 L398.32,398.96 L398.51,398.92 L398.71,399.08 L398.90,399.16 L399.10,399.03 L399.29,398.92 L399.49,398.75 L399.68,398.95 L399.88,398.82 L400.07,398.84 L400.26,398.83 L400.46,398.97 L400.65,398.92 L400.85,398.99 L401.04,399.25 L401.24,399.27 L401.43,399.40 L401.63,399.06 L401.82,399.17 L402.02,398.94 L402.21,398.84 L402.41,399.04 L402.60,399.12 L402.79,399.19 L402.99,398.99 L403.18,398.74 L403.38,398.77 L403.57,398.87 L403.77,398.79 L403.96,398.68 L404.16,398.40 L404.35,398.40 L404.55,398.12 L404.74,397.42 L404.93,396.50 L405.13,395.79 L405.32,395.56 L405.52,395.85 L405.71,396.52 L405.91,397.47 L406.10,398.17 L406.30,398.50 L406.49,398.69 L406.69,398.62 L406.88,398.75 L407.08,398.61 L407.27,399.14 L407.46,399.25 L407.66,399.40 L407.85,399.10 L408.05,398.73 L408.24,398.80 L408.44,399.01 L408.63,399.22 L408.83,399.21 L409.02,399.10 L409.22,399.00 L409.41,399.02 L409.61,399.08 L409.80,399.27 L409.99,399.14 L410.19,399.05 L410.38,398.81 L410.58,398.78 L410.77,398.75 L410.97,398.67 L411.16,398.57 L411.36,398.02 L411.55,397.28 L411.75,396.17 L411.94,394.78 L412.14,393.54 L412.33,392.06 L412.52,391.63 L412.72,391.89 L412.91,393.27 L413.11,394.59 L413.30,396.03 L413.50,397.21 L413.69,398.02 L413.89,398.45 L414.08,398.40 L414.28,398.63 L414.47,398.82 L414.66,398.96 L414.86,398.86 L415.05,398.65 L415.25,398.55 L415.44,398.36 L415.64,398.40 L415.83,398.31 L416.03,397.92 L416.22,397.34 L416.42,396.58 L416.61,395.78 L416.81,395.03 L417.00,394.59 L417.19,394.86 L417.39,395.55 L417.58,396.48 L417.78,397.38 L417.97,397.78 L418.17,398.33 L418.36,398.35 L418.56,398.57 L418.75,398.26 L418.95,398.38 L419.14,398.44 L419.34,398.53 L419.53,398.16 L419.72,397.12 L419.92,395.68 L420.11,393.68 L420.31,391.30 L420.50,388.79 L420.70,386.55 L420.89,385.71 L421.09,386.58 L421.28,388.77 L421.48,391.39 L421.67,393.68 L421.87,395.70 L422.06,397.07 L422.25,397.95 L422.45,398.41 L422.64,398.41 L422.84,398.38 L423.03,398.31 L423.23,398.29 L423.42,398.19 L423.62,398.05 L423.81,397.92 L424.01,397.44 L424.20,396.44 L424.39,395.29 L424.59,394.44 L424.78,394.06 L424.98,394.48 L425.17,395.38 L425.37,396.39 L425.56,397.20 L425.76,397.73 L425.95,398.30 L426.15,398.70 L426.34,398.86 L426.54,398.94 L426.73,398.74 L426.92,398.64 L427.12,398.60 L427.31,398.68 L427.51,398.60 L427.70,398.39 L427.90,398.29 L428.09,398.23 L428.29,397.92 L428.48,397.55 L428.68,397.12 L428.87,396.52 L429.07,396.08 L429.26,395.74 L429.45,395.94 L429.65,396.39 L429.84,396.95 L430.04,397.78 L430.23,398.14 L430.43,398.70 L430.62,398.85 L430.82,398.84 L431.01,398.82 L431.21,398.95 L431.40,399.11 L431.60,399.13 L431.79,398.72 L431.98,398.82 L432.18,398.45 L432.37,398.59 L432.57,398.14 L432.76,397.66 L432.96,397.13 L433.15,396.93 L433.35,396.47 L433.54,395.99 L433.74,395.63 L433.93,396.03 L434.12,396.66 L434.32,397.53 L434.51,398.01 L434.71,398.43 L434.90,398.54 L435.10,398.66 L435.29,398.83 L435.49,399.00 L435.68,398.98 L435.88,398.80 L436.07,398.26 L436.27,397.86 L436.46,397.18 L436.65,396.50 L436.85,396.00 L437.04,395.83 L437.24,396.27 L437.43,396.97 L437.63,397.34 L437.82,397.62 L438.02,398.11 L438.21,398.46 L438.41,398.84 L438.60,398.68 L438.80,398.81 L438.99,398.68 L439.18,399.01 L439.38,398.93 L439.57,399.07 L439.77,398.87 L439.96,399.13 L440.16,398.98 L440.35,399.00 L440.55,398.84 L440.74,399.06 L440.94,399.12 L441.13,399.09 L441.33,399.05 L441.52,398.94 L441.71,399.04 L441.91,398.99 L442.10,398.94 L442.30,398.86 L442.49,398.90 L442.69,399.21 L442.88,399.12 L443.08,399.07 L443.27,398.90 L443.47,398.60 L443.66,398.16 L443.85,397.47 L444.05,397.06 L444.24,396.55 L444.44,395.37 L444.63,393.90 L444.83,392.08 L445.02,390.89 L445.22,390.70 L445.41,392.02 L445.61,393.90 L445.80,395.50 L446.00,396.64 L446.19,397.13 L446.38,397.67 L446.58,397.56 L446.77,397.15 L446.97,396.09 L447.16,395.05 L447.36,394.14 L447.55,393.95 L447.75,393.98 L447.94,395.01 L448.14,395.93 L448.33,396.94 L448.53,397.45 L448.72,397.93 L448.91,398.02 L449.11,398.20 L449.30,398.11 L449.50,398.28 L449.69,397.85 L449.89,397.53 L450.08,396.50 L450.28,395.25 L450.47,393.72 L450.67,392.55 L450.86,391.87 L451.06,391.84 L451.25,392.77 L451.44,394.22 L451.64,395.72 L451.83,397.03 L452.03,397.93 L452.22,398.45 L452.42,398.56 L452.61,398.64 L452.81,398.79 L453.00,398.89 L453.20,398.86 L453.39,398.78 L453.58,398.94 L453.78,399.00 L453.97,398.92 L454.17,398.78 L454.36,398.57 L454.56,398.15 L454.75,397.43 L454.95,396.37 L455.14,395.00 L455.34,393.05 L455.53,391.01 L455.73,389.17 L455.92,388.32 L456.11,389.00 L456.31,391.01 L456.50,393.11 L456.70,395.00 L456.89,396.53 L457.09,397.48 L457.28,398.25 L457.48,398.44 L457.67,398.59 L457.87,398.25 L458.06,398.03 L458.26,397.84 L458.45,397.57 L458.64,396.61 L458.84,395.34 L459.03,393.75 L459.23,391.94 L459.42,390.81 L459.62,390.58 L459.81,391.67 L460.01,393.09 L460.20,394.96 L460.40,396.51 L460.59,397.29 L460.79,397.65 L460.98,397.77 L461.17,397.97 L461.37,397.67 L461.56,396.99 L461.76,396.22 L461.95,394.93 L462.15,393.57 L462.34,392.01 L462.54,391.25 L462.73,391.62 L462.93,392.87 L463.12,394.38 L463.31,395.61 L463.51,396.64 L463.70,397.60 L463.90,398.19 L464.09,398.52 L464.29,398.49 L464.48,398.50 L464.68,398.52 L464.87,398.33 L465.07,398.50 L465.26,398.30 L465.46,398.29 L465.65,397.96 L465.84,397.51 L466.04,396.61 L466.23,394.88 L466.43,392.64 L466.62,390.33 L466.82,388.45 L467.01,387.49 L467.21,388.19 L467.40,389.74 L467.60,392.04 L467.79,394.01 L467.99,395.67 L468.18,396.70 L468.37,396.77 L468.57,396.26 L468.76,395.00 L468.96,393.52 L469.15,391.87 L469.35,390.52 L469.54,390.14 L469.74,390.82 L469.93,392.24 L470.13,394.24 L470.32,395.79 L470.52,397.06 L470.71,397.70 L470.90,398.41 L471.10,398.68 L471.29,398.52 L471.49,398.36 L471.68,398.68 L471.88,398.86 L472.07,398.92 L472.27,398.81 L472.46,399.02 L472.66,398.97 L472.85,398.99" fill="none" stroke="#27405f" stroke-width="2" stroke-linejoin="round"/>
<path d="M317.75,437.78 L317.95,437.68 L318.14,437.52 L318.34,437.33 L318.53,436.55 L318.73,435.88 L318.92,435.00 L319.12,434.54 L319.31,433.88 L319.51,433.63 L319.70,433.30 L319.89,433.35 L320.09,433.66 L320.28,434.07 L320.48,434.54 L320.67,434.89 L320.87,435.52 L321.06,436.17 L321.26,437.14 L321.45,437.68 L321.65,438.05 L321.84,438.47 L322.04,439.35 L322.23,440.15 L322.42,440.49 L322.62,440.53 L322.81,440.61 L323.01,440.65 L323.20,440.35 L323.40,440.08 L323.59,439.75 L323.79,439.38 L323.98,438.83 L324.18,438.38 L324.37,438.10 L324.57,437.82 L324.76,437.36 L324.95,436.78 L325.15,436.46 L325.34,435.87 L325.54,435.32 L325.73,434.58 L325.93,433.82 L326.12,432.88 L326.32,431.79 L326.51,430.81 L326.71,429.39 L326.90,427.50 L327.09,424.96 L327.29,421.61 L327.48,417.34 L327.68,411.24 L327.87,402.83 L328.07,391.43 L328.26,376.67 L328.46,358.82 L328.65,338.65 L328.85,319.40 L329.04,306.75 L329.24,305.62 L329.43,317.22 L329.62,335.96 L329.82,356.62 L330.01,375.05 L330.21,390.10 L330.40,401.64 L330.60,410.25 L330.79,416.70 L330.99,421.18 L331.18,424.55 L331.38,426.85 L331.57,428.80 L331.77,430.16 L331.96,431.59 L332.15,432.44 L332.35,433.30 L332.54,433.76 L332.74,434.48 L332.93,434.99 L333.13,435.44 L333.32,435.85 L333.52,435.94 L333.71,436.18 L333.91,436.17 L334.10,436.60 L334.30,436.66 L334.49,436.87 L334.68,436.99 L334.88,437.44 L335.07,437.75 L335.27,437.91 L335.46,438.01 L335.66,437.93 L335.85,437.74 L336.05,437.61 L336.24,437.76 L336.44,438.22 L336.63,438.58 L336.82,438.52 L337.02,438.72 L337.21,438.70 L337.41,439.00 L337.60,438.79 L337.80,438.93 L337.99,438.88 L338.19,438.81 L338.38,438.58 L338.58,438.43 L338.77,438.57 L338.97,438.56 L339.16,438.78 L339.35,438.79 L339.55,438.70 L339.74,438.83 L339.94,438.69 L340.13,438.93 L340.33,438.60 L340.52,438.77 L340.72,438.58 L340.91,438.78 L341.11,438.67 L341.30,438.51 L341.50,438.38 L341.69,438.47 L341.88,438.80 L342.08,438.76 L342.27,438.50 L342.47,438.33 L342.66,438.47 L342.86,438.64 L343.05,438.64 L343.25,438.76 L343.44,438.93 L343.64,439.10 L343.83,438.88 L344.03,438.76 L344.22,438.64 L344.41,438.56 L344.61,438.63 L344.80,438.64 L345.00,438.73 L345.19,438.76 L345.39,438.80 L345.58,438.92 L345.78,438.86 L345.97,438.80 L346.17,438.50 L346.36,438.26 L346.55,438.23 L346.75,438.21 L346.94,438.18 L347.14,438.01 L347.33,438.16 L347.53,438.19 L347.72,438.10 L347.92,437.75 L348.11,437.51 L348.31,437.24 L348.50,436.98 L348.70,436.71 L348.89,436.32 L349.08,435.78 L349.28,435.18 L349.47,434.33 L349.67,433.48 L349.86,431.73 L350.06,429.67 L350.25,426.33 L350.45,421.66 L350.64,414.60 L350.84,405.75 L351.03,394.93 L351.23,385.40 L351.42,381.69 L351.61,386.59 L351.81,396.14 L352.00,405.21 L352.20,412.18 L352.39,416.01 L352.59,417.13 L352.78,414.99 L352.98,409.64 L353.17,401.12 L353.37,390.65 L353.56,381.61 L353.76,379.04 L353.95,385.32 L354.14,396.08 L354.34,406.82 L354.53,415.65 L354.73,422.34 L354.92,427.01 L355.12,430.05 L355.31,432.02 L355.51,433.29 L355.70,434.11 L355.90,434.87 L356.09,435.59 L356.28,436.14 L356.48,436.76 L356.67,437.03 L356.87,437.31 L357.06,437.14 L357.26,437.31 L357.45,437.50 L357.65,437.81 L357.84,437.94 L358.04,438.01 L358.23,438.02 L358.43,437.87 L358.62,437.48 L358.81,437.76 L359.01,438.08 L359.20,438.44 L359.40,437.93 L359.59,437.61 L359.79,437.64 L359.98,437.28 L360.18,436.95 L360.37,436.05 L360.57,434.86 L360.76,432.45 L360.96,428.63 L361.15,424.20 L361.34,419.07 L361.54,415.25 L361.73,414.26 L361.93,417.17 L362.12,421.95 L362.32,426.98 L362.51,430.96 L362.71,433.88 L362.90,435.86 L363.10,437.23 L363.29,438.15 L363.49,438.26 L363.68,438.12 L363.87,437.90 L364.07,437.97 L364.26,438.16 L364.46,438.27 L364.65,437.91 L364.85,437.39 L365.04,436.46 L365.24,435.20 L365.43,433.08 L365.63,430.46 L365.82,427.90 L366.01,426.10 L366.21,426.03 L366.40,427.54 L366.60,430.19 L366.79,432.83 L366.99,434.88 L367.18,436.48 L367.38,437.46 L367.57,438.40 L367.77,438.64 L367.96,438.84 L368.16,438.88 L368.35,438.97 L368.54,438.99 L368.74,438.81 L368.93,439.07 L369.13,438.97 L369.32,439.17 L369.52,439.05 L369.71,439.30 L369.91,439.43 L370.10,439.46 L370.30,439.58 L370.49,439.56 L370.69,439.82 L370.88,439.57 L371.07,439.57 L371.27,439.20 L371.46,439.26 L371.66,439.27 L371.85,439.49 L372.05,439.48 L372.24,439.37 L372.44,439.29 L372.63,439.44 L372.83,439.75 L373.02,439.79 L373.22,439.76 L373.41,439.49 L373.60,439.40 L373.80,439.35 L373.99,439.23 L374.19,439.20 L374.38,439.20 L374.58,439.33 L374.77,439.27 L374.97,439.48 L375.16,439.58 L375.36,439.73 L375.55,439.44 L375.74,439.20 L375.94,439.01 L376.13,439.00 L376.33,438.88 L376.52,438.57 L376.72,438.14 L376.91,437.52 L377.11,436.64 L377.30,435.77 L377.50,435.32 L377.69,435.65 L377.89,436.20 L378.08,437.05 L378.27,437.84 L378.47,438.55 L378.66,438.85 L378.86,438.92 L379.05,439.06 L379.25,439.30 L379.44,439.51 L379.64,439.50 L379.83,439.31 L380.03,439.39 L380.22,439.46 L380.42,439.67 L380.61,439.54 L380.80,439.39 L381.00,439.31 L381.19,439.31 L381.39,439.55 L381.58,439.60 L381.78,439.20 L381.97,439.05 L382.17,439.08 L382.36,439.59 L382.56,439.68 L382.75,439.91 L382.95,439.89 L383.14,439.89 L383.33,439.58 L383.53,439.04 L383.72,438.66 L383.92,438.20 L384.11,437.85 L384.31,437.46 L384.50,437.33 L384.70,437.53 L384.89,437.86 L385.09,438.23 L385.28,438.71 L385.47,438.97 L385.67,439.25 L385.86,439.11 L386.06,439.19 L386.25,438.97 L386.45,439.16 L386.64,439.26 L386.84,439.47 L387.03,439.52 L387.23,439.48 L387.42,439.67 L387.62,439.55 L387.81,439.65 L388.00,439.30 L388.20,439.37 L388.39,439.29 L388.59,439.37 L388.78,439.45 L388.98,439.52 L389.17,439.48 L389.37,439.45 L389.56,439.32 L389.76,439.24 L389.95,439.22 L390.15,439.18 L390.34,439.56 L390.53,439.48 L390.73,439.77 L390.92,439.55 L391.12,439.88 L391.31,439.75 L391.51,439.86 L391.70,439.73 L391.90,439.77 L392.09,439.88 L392.29,439.99 L392.48,439.84 L392.68,439.53 L392.87,439.02 L393.06,439.01 L393.26,439.24 L393.45,439.60 L393.65,439.65 L393.84,439.52 L394.04,439.40 L394.23,439.35 L394.43,439.43 L394.62,439.29 L394.82,439.40 L395.01,439.17 L395.20,439.34 L395.40,439.14 L395.59,439.21 L395.79,438.99 L395.98,438.74 L396.18,438.46 L396.37,438.06 L396.57,438.03 L396.76,437.61 L396.96,437.46 L397.15,437.22 L397.35,437.51 L397.54,437.75 L397.73,438.20 L397.93,438.68 L398.12,439.01 L398.32,439.17 L398.51,439.07 L398.71,439.28 L398.90,439.34 L399.10,439.55 L399.29,439.62 L399.49,439.50 L399.68,439.55 L399.88,439.45 L400.07,439.58 L400.26,439.56 L400.46,439.58 L400.65,439.39 L400.85,439.38 L401.04,439.28 L401.24,439.33 L401.43,439.12 L401.63,439.35 L401.82,439.43 L402.02,439.29 L402.21,439.27 L402.41,439.53 L402.60,439.99 L402.79,439.83 L402.99,439.58 L403.18,439.41 L403.38,439.56 L403.57,439.52 L403.77,439.26 L403.96,439.13 L404.16,438.99 L404.35,438.60 L404.55,437.93 L404.74,437.18 L404.93,436.54 L405.13,435.97 L405.32,435.75 L405.52,436.09 L405.71,436.68 L405.91,437.23 L406.10,437.95 L406.30,438.66 L406.49,439.40 L406.69,439.54 L406.88,439.48 L407.08,439.48 L407.27,439.69 L407.46,439.75 L407.66,439.68 L407.85,439.43 L408.05,439.47 L408.24,439.29 L408.44,439.36 L408.63,439.28 L408.83,439.32 L409.02,439.08 L409.22,438.99 L409.41,439.07 L409.61,439.30 L409.80,439.33 L409.99,439.32 L410.19,439.38 L410.38,439.49 L410.58,439.30 L410.77,439.14 L410.97,438.88 L411.16,438.64 L411.36,438.04 L411.55,437.35 L411.75,436.25 L411.94,435.19 L412.14,433.49 L412.33,432.05 L412.52,431.01 L412.72,431.66 L412.91,432.93 L413.11,434.65 L413.30,435.90 L413.50,437.20 L413.69,438.03 L413.89,438.72 L414.08,438.84 L414.28,438.97 L414.47,439.10 L414.66,439.24 L414.86,439.24 L415.05,438.94 L415.25,438.67 L415.44,438.61 L415.64,438.71 L415.83,438.69 L416.03,438.04 L416.22,437.24 L416.42,436.38 L416.61,435.69 L416.81,434.90 L417.00,434.49 L417.19,434.77 L417.39,435.30 L417.58,436.47 L417.78,437.34 L417.97,438.34 L418.17,438.76 L418.36,438.94 L418.56,438.90 L418.75,438.69 L418.95,438.43 L419.14,438.32 L419.34,438.21 L419.53,437.89 L419.72,437.19 L419.92,435.81 L420.11,433.92 L420.31,431.00 L420.50,427.73 L420.70,425.17 L420.89,424.27 L421.09,425.52 L421.28,427.98 L421.48,430.93 L421.67,433.67 L421.87,435.74 L422.06,436.90 L422.25,437.81 L422.45,438.13 L422.64,438.55 L422.84,438.53 L423.03,438.78 L423.23,438.61 L423.42,438.67 L423.62,438.45 L423.81,438.25 L424.01,437.52 L424.20,436.35 L424.39,434.78 L424.59,433.73 L424.78,433.59 L424.98,434.50 L425.17,435.37 L425.37,436.35 L425.56,437.27 L425.76,437.89 L425.95,438.34 L426.15,438.53 L426.34,439.09 L426.54,439.18 L426.73,439.49 L426.92,439.33 L427.12,439.22 L427.31,439.29 L427.51,439.15 L427.70,439.36 L427.90,439.19 L428.09,439.02 L428.29,438.43 L428.48,437.79 L428.68,437.14 L428.87,436.35 L429.07,435.47 L429.26,435.22 L429.45,435.83 L429.65,436.63 L429.84,437.54 L430.04,438.31 L430.23,439.00 L430.43,439.42 L430.62,439.56 L430.82,439.33 L431.01,439.36 L431.21,439.27 L431.40,439.46 L431.60,439.19 L431.79,438.95 L431.98,438.80 L432.18,438.86 L432.37,438.77 L432.57,438.56 L432.76,438.09 L432.96,437.71 L433.15,437.02 L433.35,436.29 L433.54,435.78 L433.74,435.66 L433.93,436.15 L434.12,436.61 L434.32,437.46 L434.51,438.06 L434.71,438.68 L434.90,438.88 L435.10,438.90 L435.29,438.91 L435.49,438.89 L435.68,439.04 L435.88,438.97 L436.07,438.52 L436.27,437.92 L436.46,437.03 L436.65,436.44 L436.85,435.69 L437.04,435.38 L437.24,435.79 L437.43,436.61 L437.63,437.44 L437.82,437.79 L438.02,438.19 L438.21,438.53 L438.41,438.90 L438.60,439.15 L438.80,439.51 L438.99,439.55 L439.18,439.66 L439.38,439.64 L439.57,439.64 L439.77,439.29 L439.96,439.26 L440.16,439.39 L440.35,439.86 L440.55,439.92 L440.74,439.94 L440.94,439.86 L441.13,439.57 L441.33,439.49 L441.52,439.25 L441.71,439.57 L441.91,439.60 L442.10,439.26 L442.30,439.20 L442.49,439.00 L442.69,439.42 L442.88,439.16 L443.08,439.24 L443.27,439.15 L443.47,439.10 L443.66,438.73 L443.85,438.40 L444.05,437.71 L444.24,436.70 L444.44,435.08 L444.63,433.16 L444.83,431.69 L445.02,430.67 L445.22,431.03 L445.41,432.17 L445.61,433.79 L445.80,435.27 L446.00,436.52 L446.19,437.44 L446.38,438.02 L446.58,437.88 L446.77,437.15 L446.97,436.16 L447.16,435.13 L447.36,434.39 L447.55,433.90 L447.75,433.95 L447.94,434.88 L448.14,435.89 L448.33,437.13 L448.53,437.61 L448.72,438.30 L448.91,438.43 L449.11,438.86 L449.30,438.96 L449.50,439.04 L449.69,438.43 L449.89,437.47 L450.08,436.22 L450.28,435.01 L450.47,433.49 L450.67,432.04 L450.86,431.12 L451.06,431.41 L451.25,432.73 L451.44,434.57 L451.64,436.10 L451.83,437.31 L452.03,437.76 L452.22,438.14 L452.42,438.32 L452.61,438.55 L452.81,438.80 L453.00,439.04 L453.20,439.15 L453.39,439.06 L453.58,438.86 L453.78,438.90 L453.97,438.83 L454.17,438.84 L454.36,438.67 L454.56,438.43 L454.75,437.84 L454.95,436.74 L455.14,435.10 L455.34,433.07 L455.53,430.68 L455.73,428.73 L455.92,427.70 L456.11,428.47 L456.31,430.33 L456.50,432.59 L456.70,434.77 L456.89,436.34 L457.09,437.43 L457.28,438.17 L457.48,438.53 L457.67,438.83 L457.87,438.71 L458.06,438.70 L458.26,438.17 L458.45,437.54 L458.64,436.73 L458.84,435.41 L459.03,433.66 L459.23,431.51 L459.42,430.21 L459.62,429.86 L459.81,430.89 L460.01,432.66 L460.20,434.76 L460.40,436.35 L460.59,437.35 L460.79,437.84 L460.98,438.15 L461.17,438.05 L461.37,437.66 L461.56,437.08 L461.76,436.03 L461.95,434.68 L462.15,432.96 L462.34,431.48 L462.54,430.75 L462.73,431.04 L462.93,432.42 L463.12,433.95 L463.31,435.52 L463.51,436.86 L463.70,437.88 L463.90,438.43 L464.09,438.69 L464.29,438.81 L464.48,438.94 L464.68,439.10 L464.87,439.02 L465.07,439.00 L465.26,438.77 L465.46,438.61 L465.65,438.09 L465.84,437.48 L466.04,436.45 L466.23,434.91 L466.43,432.55 L466.62,429.92 L466.82,427.47 L467.01,426.34 L467.21,426.76 L467.40,428.90 L467.60,431.24 L467.79,433.73 L467.99,435.52 L468.18,436.64 L468.37,436.87 L468.57,436.40 L468.76,435.32 L468.96,433.74 L469.15,431.79 L469.35,430.42 L469.54,429.93 L469.74,430.74 L469.93,432.09 L470.13,434.04 L470.32,435.58 L470.52,437.11 L470.71,437.79 L470.90,438.69 L471.10,438.74 L471.29,439.18 L471.49,439.15 L471.68,439.20 L471.88,439.08 L472.07,439.20 L472.27,439.57 L472.46,439.43 L472.66,439.22 L472.85,439.12" fill="none" stroke="#4558a8" stroke-width="2" stroke-linejoin="round"/>
<path d="M317.75,478.05 L317.95,477.59 L318.14,477.49 L318.34,477.11 L318.53,476.60 L318.73,475.77 L318.92,475.25 L319.12,474.81 L319.31,474.27 L319.51,474.00 L319.70,473.56 L319.89,473.57 L320.09,473.56 L320.28,474.16 L320.48,474.60 L320.67,475.17 L320.87,475.82 L321.06,476.71 L321.26,477.61 L321.45,478.38 L321.65,479.10 L321.84,479.73 L322.04,480.31 L322.23,480.75 L322.42,481.21 L322.62,481.10 L322.81,481.09 L323.01,481.06 L323.20,481.21 L323.40,481.02 L323.59,480.60 L323.79,480.31 L323.98,479.90 L324.18,479.50 L324.37,478.89 L324.57,478.45 L324.76,477.84 L324.95,477.47 L325.15,476.82 L325.34,476.24 L325.54,475.60 L325.73,474.96 L325.93,474.12 L326.12,473.33 L326.32,472.56 L326.51,471.65 L326.71,470.28 L326.90,468.50 L327.09,466.69 L327.29,463.65 L327.48,459.70 L327.68,453.63 L327.87,446.02 L328.07,435.92 L328.26,422.68 L328.46,406.33 L328.65,387.55 L328.85,370.00 L329.04,358.10 L329.24,357.13 L329.43,367.54 L329.62,384.75 L329.82,403.63 L330.01,420.41 L330.21,434.34 L330.40,445.03 L330.60,452.92 L330.79,458.54 L330.99,462.83 L331.18,465.96 L331.38,468.41 L331.57,469.94 L331.77,471.06 L331.96,471.94 L332.15,473.04 L332.35,473.92 L332.54,474.64 L332.74,474.83 L332.93,475.31 L333.13,475.71 L333.32,476.19 L333.52,476.54 L333.71,476.77 L333.91,476.96 L334.10,477.17 L334.30,477.47 L334.49,477.68 L334.68,478.03 L334.88,478.15 L335.07,478.30 L335.27,478.13 L335.46,478.32 L335.66,478.27 L335.85,478.24 L336.05,478.08 L336.24,478.34 L336.44,478.46 L336.63,478.78 L336.82,478.76 L337.02,478.77 L337.21,478.63 L337.41,478.88 L337.60,479.00 L337.80,478.91 L337.99,478.79 L338.19,479.07 L338.38,479.37 L338.58,479.30 L338.77,479.19 L338.97,479.13 L339.16,479.33 L339.35,479.57 L339.55,479.54 L339.74,479.57 L339.94,479.29 L340.13,479.38 L340.33,479.13 L340.52,479.09 L340.72,479.08 L340.91,479.09 L341.11,479.29 L341.30,479.18 L341.50,479.30 L341.69,479.19 L341.88,479.21 L342.08,479.22 L342.27,479.35 L342.47,479.75 L342.66,479.59 L342.86,479.50 L343.05,479.11 L343.25,479.13 L343.44,479.12 L343.64,479.03 L343.83,479.11 L344.03,479.21 L344.22,479.05 L344.41,479.07 L344.61,478.96 L344.80,479.06 L345.00,479.06 L345.19,479.02 L345.39,479.06 L345.58,479.10 L345.78,478.86 L345.97,478.93 L346.17,478.71 L346.36,478.68 L346.55,478.52 L346.75,478.43 L346.94,478.57 L347.14,478.32 L347.33,478.23 L347.53,477.96 L347.72,478.17 L347.92,477.90 L348.11,477.88 L348.31,477.27 L348.50,477.18 L348.70,476.72 L348.89,476.58 L349.08,475.98 L349.28,475.18 L349.47,474.20 L349.67,473.42 L349.86,472.24 L350.06,470.23 L350.25,467.03 L350.45,462.19 L350.64,455.36 L350.84,445.90 L351.03,435.21 L351.23,425.74 L351.42,422.18 L351.61,426.97 L351.81,436.38 L352.00,446.09 L352.20,452.71 L352.39,456.55 L352.59,457.29 L352.78,455.25 L352.98,450.05 L353.17,441.75 L353.37,431.68 L353.56,422.27 L353.76,419.47 L353.95,425.42 L354.14,436.64 L354.34,447.71 L354.53,456.69 L354.73,462.95 L354.92,467.55 L355.12,470.65 L355.31,472.86 L355.51,473.93 L355.70,474.73 L355.90,475.55 L356.09,476.28 L356.28,476.68 L356.48,476.86 L356.67,477.10 L356.87,477.43 L357.06,477.53 L357.26,477.84 L357.45,478.08 L357.65,478.29 L357.84,478.07 L358.04,478.01 L358.23,478.11 L358.43,478.44 L358.62,478.51 L358.81,478.66 L359.01,478.58 L359.20,478.52 L359.40,478.02 L359.59,477.79 L359.79,477.58 L359.98,477.65 L360.18,477.38 L360.37,476.87 L360.57,475.35 L360.76,472.65 L360.96,469.06 L361.15,464.40 L361.34,459.59 L361.54,455.61 L361.73,454.67 L361.93,457.39 L362.12,462.09 L362.32,467.38 L362.51,471.64 L362.71,474.75 L362.90,476.66 L363.10,477.62 L363.29,478.07 L363.49,478.24 L363.68,478.31 L363.87,478.44 L364.07,478.45 L364.26,478.66 L364.46,478.59 L364.65,478.18 L364.85,477.64 L365.04,476.93 L365.24,475.50 L365.43,473.32 L365.63,470.56 L365.82,468.00 L366.01,466.21 L366.21,466.09 L366.40,467.75 L366.60,470.47 L366.79,473.19 L366.99,475.42 L367.18,476.97 L367.38,478.05 L367.57,478.76 L367.77,479.13 L367.96,479.26 L368.16,479.37 L368.35,479.51 L368.54,479.54 L368.74,479.50 L368.93,479.49 L369.13,479.58 L369.32,479.82 L369.52,479.71 L369.71,479.69 L369.91,479.77 L370.10,479.89 L370.30,479.99 L370.49,480.00 L370.69,479.98 L370.88,479.93 L371.07,479.75 L371.27,479.89 L371.46,479.81 L371.66,479.79 L371.85,479.67 L372.05,479.68 L372.24,479.79 L372.44,479.85 L372.63,479.73 L372.83,479.61 L373.02,479.60 L373.22,479.80 L373.41,479.88 L373.60,480.15 L373.80,480.23 L373.99,480.21 L374.19,479.98 L374.38,480.01 L374.58,480.06 L374.77,479.76 L374.97,479.61 L375.16,479.56 L375.36,480.00 L375.55,479.76 L375.74,479.90 L375.94,479.58 L376.13,479.79 L376.33,479.39 L376.52,479.10 L376.72,478.61 L376.91,477.96 L377.11,477.28 L377.30,476.43 L377.50,476.03 L377.69,476.08 L377.89,476.67 L378.08,477.49 L378.27,478.41 L378.47,478.90 L378.66,479.10 L378.86,479.17 L379.05,479.64 L379.25,480.02 L379.44,480.22 L379.64,480.20 L379.83,480.01 L380.03,479.88 L380.22,479.44 L380.42,479.46 L380.61,479.52 L380.80,479.66 L381.00,479.49 L381.19,479.27 L381.39,479.48 L381.58,479.86 L381.78,480.31 L381.97,480.45 L382.17,480.13 L382.36,479.55 L382.56,479.39 L382.75,479.67 L382.95,479.72 L383.14,479.57 L383.33,479.26 L383.53,479.24 L383.72,478.96 L383.92,478.66 L384.11,478.33 L384.31,478.00 L384.50,477.91 L384.70,478.22 L384.89,478.50 L385.09,478.74 L385.28,478.97 L385.47,479.60 L385.67,479.93 L385.86,480.11 L386.06,479.92 L386.25,480.05 L386.45,479.87 L386.64,480.00 L386.84,479.95 L387.03,480.07 L387.23,480.16 L387.42,480.25 L387.62,480.14 L387.81,480.08 L388.00,479.77 L388.20,479.95 L388.39,480.18 L388.59,480.44 L388.78,480.38 L388.98,480.07 L389.17,480.11 L389.37,480.00 L389.56,480.08 L389.76,479.95 L389.95,479.95 L390.15,479.89 L390.34,479.92 L390.53,479.77 L390.73,479.99 L390.92,480.02 L391.12,480.02 L391.31,479.91 L391.51,479.89 L391.70,480.11 L391.90,480.07 L392.09,479.97 L392.29,479.60 L392.48,479.50 L392.68,479.63 L392.87,480.09 L393.06,480.02 L393.26,479.95 L393.45,479.88 L393.65,479.93 L393.84,479.93 L394.04,479.91 L394.23,479.82 L394.43,480.03 L394.62,479.89 L394.82,480.00 L395.01,479.76 L395.20,479.77 L395.40,479.79 L395.59,479.89 L395.79,480.03 L395.98,479.84 L396.18,479.38 L396.37,478.91 L396.57,478.23 L396.76,477.88 L396.96,477.64 L397.15,477.99 L397.35,478.21 L397.54,478.42 L397.73,478.97 L397.93,479.37 L398.12,479.57 L398.32,479.36 L398.51,479.49 L398.71,479.86 L398.90,480.03 L399.10,480.18 L399.29,480.08 L399.49,480.14 L399.68,480.12 L399.88,480.05 L400.07,480.03 L400.26,479.87 L400.46,479.84 L400.65,479.88 L400.85,479.83 L401.04,479.92 L401.24,479.74 L401.43,479.83 L401.63,479.75 L401.82,479.97 L402.02,479.98 L402.21,480.05 L402.41,480.10 L402.60,479.75 L402.79,479.60 L402.99,479.07 L403.18,479.39 L403.38,479.54 L403.57,479.90 L403.77,479.87 L403.96,479.59 L404.16,479.51 L404.35,479.16 L404.55,478.69 L404.74,477.64 L404.93,476.86 L405.13,476.15 L405.32,475.96 L405.52,476.20 L405.71,476.96 L405.91,477.71 L406.10,478.54 L406.30,478.93 L406.49,479.25 L406.69,479.35 L406.88,479.60 L407.08,479.80 L407.27,479.75 L407.46,479.76 L407.66,479.70 L407.85,479.56 L408.05,479.65 L408.24,479.60 L408.44,479.76 L408.63,479.76 L408.83,479.88 L409.02,480.22 L409.22,479.96 L409.41,479.86 L409.61,479.54 L409.80,479.84 L409.99,479.88 L410.19,479.67 L410.38,479.61 L410.58,479.48 L410.77,479.55 L410.97,479.39 L411.16,479.19 L411.36,478.74 L411.55,477.98 L411.75,476.93 L411.94,475.53 L412.14,473.67 L412.33,472.16 L412.52,471.25 L412.72,471.60 L412.91,473.17 L413.11,475.04 L413.30,476.89 L413.50,477.78 L413.69,478.53 L413.89,478.88 L414.08,479.09 L414.28,479.30 L414.47,479.31 L414.66,479.48 L414.86,479.25 L415.05,479.45 L415.25,479.53 L415.44,479.69 L415.64,479.32 L415.83,478.91 L416.03,478.55 L416.22,477.93 L416.42,477.11 L416.61,475.96 L416.81,474.99 L417.00,474.77 L417.19,474.87 L417.39,475.88 L417.58,476.69 L417.78,477.63 L417.97,478.31 L418.17,478.81 L418.36,479.24 L418.56,479.20 L418.75,479.21 L418.95,479.29 L419.14,479.30 L419.34,479.22 L419.53,478.75 L419.72,478.01 L419.92,476.61 L420.11,474.36 L420.31,471.46 L420.50,468.30 L420.70,465.84 L420.89,465.02 L421.09,466.15 L421.28,468.71 L421.48,471.62 L421.67,474.19 L421.87,476.20 L422.06,477.49 L422.25,478.43 L422.45,478.86 L422.64,479.09 L422.84,479.12 L423.03,479.15 L423.23,479.14 L423.42,478.76 L423.62,478.60 L423.81,478.11 L424.01,477.65 L424.20,476.65 L424.39,475.36 L424.59,474.67 L424.78,474.27 L424.98,474.91 L425.17,475.40 L425.37,476.59 L425.56,477.65 L425.76,478.59 L425.95,479.06 L426.15,479.47 L426.34,479.64 L426.54,479.59 L426.73,479.65 L426.92,479.75 L427.12,479.84 L427.31,479.95 L427.51,479.92 L427.70,479.86 L427.90,479.51 L428.09,479.23 L428.29,478.90 L428.48,478.33 L428.68,477.57 L428.87,476.73 L429.07,476.11 L429.26,476.04 L429.45,476.48 L429.65,477.25 L429.84,478.02 L430.04,478.70 L430.23,479.08 L430.43,479.35 L430.62,479.60 L430.82,479.51 L431.01,479.64 L431.21,479.91 L431.40,479.93 L431.60,480.06 L431.79,479.47 L431.98,479.69 L432.18,479.64 L432.37,479.88 L432.57,479.49 L432.76,478.74 L432.96,477.81 L433.15,477.24 L433.35,476.56 L433.54,476.14 L433.74,475.96 L433.93,476.47 L434.12,477.26 L434.32,478.02 L434.51,478.44 L434.71,479.02 L434.90,478.98 L435.10,479.47 L435.29,479.29 L435.49,479.57 L435.68,479.27 L435.88,479.09 L436.07,478.74 L436.27,478.22 L436.46,477.41 L436.65,476.73 L436.85,476.06 L437.04,476.16 L437.24,476.39 L437.43,477.08 L437.63,477.77 L437.82,478.59 L438.02,479.08 L438.21,479.33 L438.41,479.58 L438.60,479.68 L438.80,479.68 L438.99,479.56 L439.18,479.56 L439.38,479.39 L439.57,479.18 L439.77,479.38 L439.96,479.75 L440.16,480.01 L440.35,480.02 L440.55,479.79 L440.74,479.80 L440.94,479.89 L441.13,479.95 L441.33,479.97 L441.52,479.78 L441.71,479.88 L441.91,479.80 L442.10,479.65 L442.30,479.78 L442.49,479.61 L442.69,479.74 L442.88,479.47 L443.08,479.58 L443.27,479.56 L443.47,479.49 L443.66,479.37 L443.85,478.94 L444.05,478.17 L444.24,476.55 L444.44,474.95 L444.63,473.15 L444.83,471.69 L445.02,470.66 L445.22,471.02 L445.41,472.56 L445.61,474.64 L445.80,476.36 L446.00,477.42 L446.19,478.00 L446.38,477.99 L446.58,478.00 L446.77,477.45 L446.97,476.64 L447.16,475.46 L447.36,474.41 L447.55,473.94 L447.75,474.40 L447.94,475.70 L448.14,477.00 L448.33,478.01 L448.53,478.46 L448.72,478.84 L448.91,479.26 L449.11,479.31 L449.30,479.39 L449.50,478.97 L449.69,478.73 L449.89,478.04 L450.08,477.11 L450.28,475.47 L450.47,473.79 L450.67,472.32 L450.86,471.46 L451.06,471.66 L451.25,472.92 L451.44,474.77 L451.64,476.57 L451.83,477.42 L452.03,478.25 L452.22,478.50 L452.42,478.89 L452.61,479.07 L452.81,479.43 L453.00,479.46 L453.20,479.29 L453.39,479.09 L453.58,479.23 L453.78,479.17 L453.97,479.44 L454.17,479.42 L454.36,479.35 L454.56,478.68 L454.75,478.25 L454.95,477.49 L455.14,475.88 L455.34,473.50 L455.53,471.00 L455.73,468.90 L455.92,467.96 L456.11,468.78 L456.31,470.85 L456.50,473.23 L456.70,475.04 L456.89,476.62 L457.09,477.79 L457.28,478.45 L457.48,478.69 L457.67,478.66 L457.87,478.95 L458.06,479.00 L458.26,478.68 L458.45,477.88 L458.64,476.88 L458.84,475.48 L459.03,473.40 L459.23,471.51 L459.42,470.18 L459.62,470.39 L459.81,471.34 L460.01,473.32 L460.20,475.03 L460.40,476.52 L460.59,477.62 L460.79,478.25 L460.98,478.79 L461.17,478.62 L461.37,478.55 L461.56,478.04 L461.76,477.20 L461.95,475.76 L462.15,473.78 L462.34,471.90 L462.54,470.96 L462.73,471.30 L462.93,472.82 L463.12,474.50 L463.31,476.05 L463.51,477.14 L463.70,477.85 L463.90,478.43 L464.09,478.80 L464.29,479.16 L464.48,479.48 L464.68,479.41 L464.87,479.25 L465.07,479.22 L465.26,479.35 L465.46,479.27 L465.65,478.47 L465.84,477.61 L466.04,476.51 L466.23,475.03 L466.43,473.11 L466.62,470.49 L466.82,468.26 L467.01,466.73 L467.21,467.23 L467.40,469.16 L467.60,471.77 L467.79,474.18 L467.99,476.01 L468.18,477.09 L468.37,477.47 L468.57,476.83 L468.76,475.75 L468.96,474.06 L469.15,472.57 L469.35,470.95 L469.54,470.34 L469.74,470.76 L469.93,472.50 L470.13,474.47 L470.32,476.24 L470.52,477.47 L470.71,478.30 L470.90,478.97 L471.10,479.19 L471.29,479.46 L471.49,479.46 L471.68,479.88 L471.88,480.00 L472.07,480.03 L472.27,479.77 L472.46,479.91 L472.66,480.06 L472.85,480.15" fill="none" stroke="#aad6e6" stroke-width="2" stroke-linejoin="round"/>
<g stroke="#000" stroke-width="1.4" fill="none">
<path d="M317.4,502.8 H473.3"/>
<path d="M319.70,503.2 V501.20"/>
<path d="M333.60,503.2 V499.30"/>
<path d="M347.50,503.2 V501.20"/>
<path d="M361.40,503.2 V499.30"/>
<path d="M375.30,503.2 V501.20"/>
<path d="M389.20,503.2 V499.30"/>
<path d="M403.10,503.2 V501.20"/>
<path d="M417.00,503.2 V499.30"/>
<path d="M430.90,503.2 V501.20"/>
<path d="M444.80,503.2 V499.30"/>
<path d="M458.70,503.2 V501.20"/>
<path d="M472.60,503.2 V499.30"/>
</g>
<text x="333.6" y="518.5" font-family="Liberation Sans" font-size="13.5" fill="#000" text-anchor="middle" font-weight="normal" >5</text>
<text x="361.4" y="518.5" font-family="Liberation Sans" font-size="13.5" fill="#000" text-anchor="middle" font-weight="normal" >10</text>
<text x="389.2" y="518.5" font-family="Liberation Sans" font-size="13.5" fill="#000" text-anchor="middle" font-weight="normal" >15</text>
<text x="417.0" y="518.5" font-family="Liberation Sans" font-size="13.5" fill="#000" text-anchor="middle" font-weight="normal" >20</text>
<text x="444.8" y="518.5" font-family="Liberation Sans" font-size="13.5" fill="#000" text-anchor="middle" font-weight="normal" >25</text>
<text x="472.6" y="518.5" font-family="Liberation Sans" font-size="13.5" fill="#000" text-anchor="middle" font-weight="normal" >30</text>
<text x="354" y="535.9" font-family="Liberation Sans" font-size="15.2">2<tspan font-family="Liberation Serif" font-size="16">θ</tspan> (degree)</text>
<text x="339.6" y="337.2" font-family="Liberation Sans" font-size="14" fill="#36557f" text-anchor="start" font-weight="normal" >CSS nanocomposite</text>
<text x="374.8" y="377.1" font-family="Liberation Sans" font-size="14" fill="#000" text-anchor="start" font-weight="normal" >as-synthesized</text>
<text x="387.3" y="424.9" font-family="Liberation Sans" font-size="14">3M HNO<tspan dy="3" font-size="12">3</tspan></text>
<text x="373.8" y="466.0" font-family="Liberation Sans" font-size="14" fill="#000" text-anchor="start" font-weight="normal" >NaOH (PH=14)</text>
<!-- panel d -->
<text x="491.6" y="293.6" font-family="Liberation Sans" font-size="25.5">d</text>
<rect x="512.4" y="300.8" width="12.3" height="185.8" rx="2.5" fill="#f6f8f0" stroke="#c4cac8" stroke-width="0.9"/>
<rect x="537.4" y="300.3" width="11.5" height="186.6" rx="2.5" fill="#eaf1f9" stroke="#b4c0cc" stroke-width="0.9"/>
<path d="M507.79,404.41 L507.99,404.35 L508.19,404.32 L508.39,404.38 L508.58,404.27 L508.78,404.27 L508.98,404.19 L509.18,404.13 L509.37,404.06 L509.57,403.97 L509.77,404.10 L509.97,403.90 L510.16,403.90 L510.36,403.61 L510.56,403.66 L510.76,403.42 L510.96,403.55 L511.15,403.21 L511.35,403.30 L511.55,403.30 L511.75,403.55 L511.94,403.62 L512.14,403.37 L512.34,403.41 L512.54,403.38 L512.73,403.29 L512.93,402.97 L513.13,402.67 L513.33,402.69 L513.52,402.69 L513.72,402.39 L513.92,402.33 L514.12,402.15 L514.31,402.15 L514.51,402.02 L514.71,401.83 L514.91,401.85 L515.10,401.58 L515.30,401.32 L515.50,401.03 L515.70,400.71 L515.89,400.30 L516.09,399.56 L516.29,398.89 L516.49,398.36 L516.68,397.72 L516.88,397.00 L517.08,395.76 L517.28,394.25 L517.48,392.03 L517.67,389.05 L517.87,385.06 L518.07,379.46 L518.27,371.87 L518.46,361.92 L518.66,349.83 L518.86,335.82 L519.06,321.57 L519.25,310.29 L519.45,306.88 L519.65,312.91 L519.85,325.54 L520.04,340.17 L520.24,353.98 L520.44,365.51 L520.64,374.60 L520.83,381.40 L521.03,386.23 L521.23,389.93 L521.43,392.30 L521.62,394.30 L521.82,395.61 L522.02,396.85 L522.22,397.82 L522.41,398.65 L522.61,399.26 L522.81,399.89 L523.01,400.46 L523.20,400.88 L523.40,401.13 L523.60,401.20 L523.80,401.26 L524.00,401.45 L524.19,401.68 L524.39,402.04 L524.59,401.95 L524.79,402.34 L524.98,402.25 L525.18,402.54 L525.38,402.46 L525.58,402.54 L525.77,402.56 L525.97,402.33 L526.17,402.39 L526.37,402.31 L526.56,402.57 L526.76,402.80 L526.96,403.01 L527.16,403.16 L527.35,403.31 L527.55,403.38 L527.75,403.26 L527.95,403.12 L528.14,403.11 L528.34,403.29 L528.54,403.36 L528.74,403.40 L528.93,403.26 L529.13,403.31 L529.33,403.32 L529.53,403.39 L529.72,403.35 L529.92,403.54 L530.12,403.63 L530.32,403.50 L530.52,403.36 L530.71,403.32 L530.91,403.43 L531.11,403.53 L531.31,403.50 L531.50,403.61 L531.70,403.53 L531.90,403.53 L532.10,403.52 L532.29,403.38 L532.49,403.26 L532.69,403.10 L532.89,403.42 L533.08,403.54 L533.28,403.67 L533.48,403.51 L533.68,403.43 L533.87,403.31 L534.07,403.36 L534.27,403.37 L534.47,403.59 L534.66,403.51 L534.86,403.54 L535.06,403.35 L535.26,403.30 L535.45,403.27 L535.65,403.43 L535.85,403.64 L536.05,403.49 L536.24,403.33 L536.44,403.13 L536.64,403.12 L536.84,402.98 L537.04,402.81 L537.23,402.60 L537.43,402.67 L537.63,402.63 L537.83,402.78 L538.02,402.62 L538.22,402.54 L538.42,402.65 L538.62,402.50 L538.81,402.37 L539.01,401.87 L539.21,401.62 L539.41,401.17 L539.60,400.80 L539.80,400.15 L540.00,399.41 L540.20,398.53 L540.39,397.33 L540.59,395.34 L540.79,391.87 L540.99,386.60 L541.18,378.63 L541.38,368.81 L541.58,358.62 L541.78,354.05 L541.97,358.38 L542.17,367.92 L542.37,377.34 L542.57,384.08 L542.76,388.47 L542.96,390.41 L543.16,390.74 L543.36,389.32 L543.56,385.68 L543.75,379.26 L543.95,369.59 L544.15,357.70 L544.35,347.34 L544.54,345.07 L544.74,353.23 L544.94,365.53 L545.14,376.75 L545.33,385.22 L545.53,390.84 L545.73,394.42 L545.93,396.62 L546.12,397.88 L546.32,399.00 L546.52,399.73 L546.72,400.59 L546.91,401.12 L547.11,401.47 L547.31,401.61 L547.51,401.75 L547.70,402.10 L547.90,402.13 L548.10,402.26 L548.30,402.48 L548.49,402.73 L548.69,402.83 L548.89,402.71 L549.09,402.64 L549.28,402.74 L549.48,402.78 L549.68,402.92 L549.88,402.87 L550.08,402.87 L550.27,402.58 L550.47,402.39 L550.67,401.93 L550.87,401.48 L551.06,400.07 L551.26,397.75 L551.46,394.32 L551.66,389.87 L551.85,385.42 L552.05,382.62 L552.25,383.43 L552.45,387.21 L552.64,391.72 L552.84,395.81 L553.04,398.79 L553.24,400.95 L553.43,402.18 L553.63,402.62 L553.83,403.00 L554.03,403.03 L554.22,403.26 L554.42,403.08 L554.62,403.04 L554.82,403.15 L555.01,403.17 L555.21,403.17 L555.41,403.05 L555.61,403.02 L555.80,402.42 L556.00,401.39 L556.20,399.64 L556.40,397.61 L556.60,394.93 L556.79,392.11 L556.99,390.53 L557.19,391.22 L557.39,393.92 L557.58,396.89 L557.78,399.49 L557.98,401.13 L558.18,402.00 L558.37,402.37 L558.57,402.76 L558.77,403.28 L558.97,403.29 L559.16,403.16 L559.36,403.14 L559.56,403.07 L559.76,403.34 L559.95,403.48 L560.15,403.55 L560.35,403.59 L560.55,403.49 L560.74,403.94 L560.94,403.91 L561.14,403.92 L561.34,403.80 L561.53,403.87 L561.73,403.93 L561.93,403.93 L562.13,403.69 L562.32,403.73 L562.52,403.73 L562.72,404.07 L562.92,404.02 L563.12,404.01 L563.31,403.77 L563.51,403.85 L563.71,403.84 L563.91,403.83 L564.10,403.92 L564.30,404.12 L564.50,404.14 L564.70,403.88 L564.89,403.81 L565.09,403.76 L565.29,404.15 L565.49,404.01 L565.68,404.18 L565.88,403.76 L566.08,403.76 L566.28,403.75 L566.47,403.90 L566.67,403.82 L566.87,403.92 L567.07,403.89 L567.26,403.84 L567.46,403.36 L567.66,402.94 L567.86,402.49 L568.05,401.41 L568.25,399.85 L568.45,397.66 L568.65,395.98 L568.84,394.99 L569.04,395.72 L569.24,397.36 L569.44,399.34 L569.63,401.05 L569.83,402.30 L570.03,402.97 L570.23,403.36 L570.43,403.82 L570.62,404.02 L570.82,404.07 L571.02,403.63 L571.22,403.73 L571.41,403.64 L571.61,403.87 L571.81,403.83 L572.01,403.78 L572.20,403.82 L572.40,403.81 L572.60,403.83 L572.80,403.73 L572.99,403.65 L573.19,403.78 L573.39,403.76 L573.59,403.80 L573.78,403.80 L573.98,403.62 L574.18,403.64 L574.38,403.17 L574.57,403.12 L574.77,402.54 L574.97,402.06 L575.17,401.12 L575.36,400.60 L575.56,400.43 L575.76,400.80 L575.96,401.48 L576.15,402.16 L576.35,402.77 L576.55,403.17 L576.75,403.62 L576.95,403.81 L577.14,403.88 L577.34,403.83 L577.54,403.95 L577.74,404.10 L577.93,404.02 L578.13,403.94 L578.33,403.80 L578.53,403.96 L578.72,404.13 L578.92,404.14 L579.12,404.11 L579.32,404.07 L579.51,403.95 L579.71,403.86 L579.91,403.70 L580.11,403.83 L580.30,403.93 L580.50,403.92 L580.70,404.10 L580.90,404.01 L581.09,404.04 L581.29,403.97 L581.49,404.12 L581.69,404.13 L581.88,404.06 L582.08,404.06 L582.28,404.06 L582.48,404.08 L582.67,403.90 L582.87,403.90 L583.07,403.65 L583.27,403.63 L583.47,403.48 L583.66,403.71 L583.86,403.65 L584.06,403.62 L584.26,403.10 L584.45,402.72 L584.65,402.16 L584.85,401.69 L585.05,401.49 L585.24,401.38 L585.44,401.87 L585.64,402.54 L585.84,403.12 L586.03,403.45 L586.23,403.30 L586.43,403.55 L586.63,403.47 L586.82,403.74 L587.02,403.72 L587.22,403.73 L587.42,403.54 L587.61,403.44 L587.81,403.61 L588.01,403.83 L588.21,403.95 L588.40,403.87 L588.60,403.70 L588.80,403.75 L589.00,403.62 L589.19,403.77 L589.39,403.80 L589.59,403.80 L589.79,403.86 L589.99,403.65 L590.18,403.88 L590.38,403.88 L590.58,403.88 L590.78,403.71 L590.97,403.47 L591.17,403.53 L591.37,403.70 L591.57,403.76 L591.76,403.82 L591.96,403.78 L592.16,403.81 L592.36,403.77 L592.55,403.85 L592.75,403.87 L592.95,403.85 L593.15,403.99 L593.34,403.86 L593.54,404.03 L593.74,403.76 L593.94,403.91 L594.13,403.88 L594.33,404.03 L594.53,404.11 L594.73,403.93 L594.92,404.06 L595.12,403.82 L595.32,403.58 L595.52,402.77 L595.71,402.41 L595.91,401.98 L596.11,401.43 L596.31,400.79 L596.51,400.72 L596.70,401.15 L596.90,401.71 L597.10,402.26 L597.30,402.91 L597.49,403.37 L597.69,403.50 L597.89,403.64 L598.09,403.54 L598.28,403.63 L598.48,403.70 L598.68,403.92 L598.88,404.03 L599.07,403.93 L599.27,404.01 L599.47,403.99 L599.67,403.78 L599.86,403.70 L600.06,403.39 L600.26,403.37 L600.46,403.51 L600.65,403.92 L600.85,404.07 L601.05,403.90 L601.25,403.79 L601.44,403.92 L601.64,403.83 L601.84,403.71 L602.04,403.51 L602.23,403.57 L602.43,403.64 L602.63,403.59 L602.83,403.52 L603.03,403.15 L603.22,402.71 L603.42,401.70 L603.62,400.34 L603.82,398.62 L604.01,396.65 L604.21,395.17 L604.41,394.93 L604.61,396.18 L604.80,398.32 L605.00,400.29 L605.20,401.93 L605.40,402.68 L605.59,403.08 L605.79,403.42 L605.99,403.63 L606.19,403.83 L606.38,403.83 L606.58,403.73 L606.78,403.72 L606.98,403.62 L607.17,403.80 L607.37,403.75 L607.57,403.52 L607.77,403.04 L607.96,402.22 L608.16,401.01 L608.36,399.58 L608.56,397.76 L608.75,396.93 L608.95,396.91 L609.15,398.30 L609.35,399.69 L609.55,401.17 L609.74,402.16 L609.94,402.76 L610.14,402.89 L610.34,402.94 L610.53,403.05 L610.73,402.99 L610.93,402.62 L611.13,402.06 L611.32,401.08 L611.52,399.39 L611.72,396.51 L611.92,393.52 L612.11,391.32 L612.31,391.22 L612.51,393.09 L612.71,395.72 L612.90,398.33 L613.10,400.25 L613.30,401.88 L613.50,402.64 L613.69,403.13 L613.89,403.15 L614.09,403.22 L614.29,403.21 L614.48,402.88 L614.68,402.30 L614.88,401.78 L615.08,400.93 L615.27,400.16 L615.47,399.24 L615.67,399.13 L615.87,399.66 L616.07,400.67 L616.26,401.52 L616.46,402.32 L616.66,402.72 L616.86,403.30 L617.05,403.33 L617.25,403.49 L617.45,403.45 L617.65,403.36 L617.84,403.19 L618.04,402.81 L618.24,402.38 L618.44,401.71 L618.63,401.10 L618.83,400.65 L619.03,400.46 L619.23,400.65 L619.42,401.31 L619.62,402.19 L619.82,402.91 L620.02,403.40 L620.21,403.73 L620.41,403.67 L620.61,403.55 L620.81,403.21 L621.00,403.49 L621.20,403.42 L621.40,403.66 L621.60,403.66 L621.79,403.76 L621.99,403.70 L622.19,403.60 L622.39,403.81 L622.59,403.72 L622.78,403.77 L622.98,403.76 L623.18,403.91 L623.38,403.87 L623.57,403.88 L623.77,403.80 L623.97,403.62 L624.17,403.18 L624.36,402.80 L624.56,402.17 L624.76,401.57 L624.96,400.86 L625.15,400.63 L625.35,400.59 L625.55,401.12 L625.75,401.74 L625.94,402.53 L626.14,403.16 L626.34,403.53 L626.54,403.80 L626.73,404.01 L626.93,404.12 L627.13,403.96 L627.33,403.64 L627.52,403.63 L627.72,403.71 L627.92,403.89 L628.12,403.81 L628.31,403.98 L628.51,404.06 L628.71,403.96 L628.91,403.85 L629.11,403.69 L629.30,403.66 L629.50,403.67 L629.70,403.64 L629.90,403.74 L630.09,403.78 L630.29,403.68 L630.49,403.33 L630.69,402.43 L630.88,401.42 L631.08,400.63 L631.28,400.04 L631.48,400.04 L631.67,400.30 L631.87,401.09 L632.07,402.12 L632.27,402.81 L632.46,403.26 L632.66,403.35 L632.86,403.59 L633.06,403.60 L633.25,403.45 L633.45,403.39 L633.65,403.50 L633.85,403.61 L634.04,403.57 L634.24,403.50 L634.44,403.53 L634.64,403.60 L634.83,403.52 L635.03,403.48 L635.23,403.49 L635.43,403.58 L635.63,403.39 L635.82,403.10 L636.02,402.71 L636.22,402.20 L636.42,400.98 L636.61,399.65 L636.81,398.12 L637.01,397.46 L637.21,397.70 L637.40,398.82 L637.60,400.17 L637.80,401.37 L638.00,402.45 L638.19,403.04 L638.39,403.21 L638.59,403.21 L638.79,403.36 L638.98,403.65 L639.18,403.67 L639.38,403.57 L639.58,403.36 L639.77,403.25 L639.97,402.88 L640.17,402.31 L640.37,401.50 L640.56,400.52 L640.76,399.49 L640.96,398.72 L641.16,398.83 L641.35,399.63 L641.55,400.94 L641.75,402.10 L641.95,402.88 L642.15,403.32 L642.34,403.28 L642.54,403.15 L642.74,402.56 L642.94,401.99 L643.13,400.93 L643.33,399.65 L643.53,398.12 L643.73,397.01 L643.92,396.80 L644.12,397.77 L644.32,399.33 L644.52,400.92 L644.71,402.10 L644.91,402.80 L645.11,403.16 L645.31,403.45 L645.50,403.67 L645.70,403.72 L645.90,403.47 L646.10,403.30 L646.29,403.32 L646.49,403.44 L646.69,403.63 L646.89,403.39 L647.08,402.97 L647.28,402.01 L647.48,400.82 L647.68,398.84 L647.87,396.23 L648.07,393.67 L648.27,391.95 L648.47,392.32 L648.66,394.10 L648.86,396.77 L649.06,399.13 L649.26,400.77 L649.46,401.67 L649.65,402.18 L649.85,402.47 L650.05,402.13 L650.25,401.24 L650.44,399.83 L650.64,398.12 L650.84,396.24 L651.04,394.61 L651.23,394.52 L651.43,395.56 L651.63,397.60 L651.83,399.59 L652.02,401.30 L652.22,402.53 L652.42,403.13 L652.62,403.41 L652.81,403.48 L653.01,403.09 L653.21,402.73 L653.41,402.24 L653.60,401.61 L653.80,400.37 L654.00,398.29 L654.20,396.04 L654.39,394.18 L654.59,393.64 L654.79,394.74 L654.99,396.79 L655.18,399.13 L655.38,400.92 L655.58,402.06 L655.78,402.69 L655.98,403.04 L656.17,403.12 L656.37,403.20 L656.57,403.23 L656.77,403.41 L656.96,403.32 L657.16,403.32 L657.36,403.28 L657.56,403.10 L657.75,402.77 L657.95,402.15 L658.15,401.11 L658.35,399.06 L658.54,396.19 L658.74,393.09 L658.94,390.66 L659.14,390.49 L659.33,392.12 L659.53,395.03 L659.73,397.73 L659.93,399.99 L660.12,401.26 L660.32,401.92 L660.52,402.12 L660.72,402.15 L660.91,401.42 L661.11,400.30 L661.31,398.63 L661.51,396.71 L661.70,394.80 L661.90,393.94 L662.10,394.68 L662.30,396.69 L662.50,398.79 L662.69,400.36 L662.89,401.33 L663.09,401.48 L663.29,401.29 L663.48,400.45 L663.68,399.85 L663.88,399.53 L664.08,400.02 L664.27,400.89 L664.47,401.86 L664.67,402.63" fill="none" stroke="#dc93a5" stroke-width="2" stroke-linejoin="round"/>
<path d="M507.79,442.26 L507.99,442.11 L508.19,442.06 L508.39,441.83 L508.58,441.71 L508.78,441.66 L508.98,441.78 L509.18,442.06 L509.37,442.10 L509.57,442.18 L509.77,442.00 L509.97,441.95 L510.16,441.93 L510.36,441.96 L510.56,441.93 L510.76,441.81 L510.96,441.66 L511.15,441.53 L511.35,441.38 L511.55,441.46 L511.75,441.48 L511.94,441.52 L512.14,441.49 L512.34,441.43 L512.54,441.55 L512.73,441.65 L512.93,441.70 L513.13,441.53 L513.33,441.22 L513.52,441.32 L513.72,441.38 L513.92,441.37 L514.12,441.26 L514.31,441.05 L514.51,441.07 L514.71,440.92 L514.91,440.99 L515.10,440.88 L515.30,441.05 L515.50,440.99 L515.70,441.05 L515.89,440.78 L516.09,440.60 L516.29,440.43 L516.49,440.33 L516.68,440.41 L516.88,440.25 L517.08,440.02 L517.28,439.55 L517.48,439.07 L517.67,437.94 L517.87,436.63 L518.07,434.46 L518.27,431.68 L518.46,427.56 L518.66,422.90 L518.86,417.98 L519.06,413.73 L519.25,410.42 L519.45,409.33 L519.65,410.90 L519.85,414.81 L520.04,419.67 L520.24,424.56 L520.44,428.92 L520.64,432.59 L520.83,435.33 L521.03,437.35 L521.23,438.59 L521.43,439.34 L521.62,439.69 L521.82,440.00 L522.02,440.07 L522.22,440.38 L522.41,440.44 L522.61,440.73 L522.81,440.56 L523.01,440.69 L523.20,440.66 L523.40,440.76 L523.60,440.66 L523.80,440.58 L524.00,440.78 L524.19,440.96 L524.39,441.07 L524.59,440.96 L524.79,440.81 L524.98,440.67 L525.18,440.52 L525.38,440.54 L525.58,440.69 L525.77,440.75 L525.97,440.88 L526.17,440.94 L526.37,441.06 L526.56,440.86 L526.76,440.80 L526.96,440.79 L527.16,440.84 L527.35,440.68 L527.55,440.85 L527.75,441.01 L527.95,441.16 L528.14,441.14 L528.34,441.19 L528.54,441.26 L528.74,441.15 L528.93,441.12 L529.13,441.21 L529.33,441.20 L529.53,441.12 L529.72,441.05 L529.92,440.81 L530.12,440.84 L530.32,440.76 L530.52,440.99 L530.71,440.97 L530.91,441.04 L531.11,441.05 L531.31,441.07 L531.50,441.03 L531.70,441.06 L531.90,441.02 L532.10,441.11 L532.29,440.94 L532.49,441.00 L532.69,440.95 L532.89,440.99 L533.08,440.94 L533.28,441.01 L533.48,441.11 L533.68,441.07 L533.87,440.71 L534.07,440.75 L534.27,440.83 L534.47,441.13 L534.66,441.28 L534.86,441.27 L535.06,441.23 L535.26,441.00 L535.45,440.99 L535.65,440.98 L535.85,441.10 L536.05,441.15 L536.24,441.09 L536.44,440.98 L536.64,441.05 L536.84,441.03 L537.04,441.13 L537.23,441.15 L537.43,441.28 L537.63,441.23 L537.83,441.20 L538.02,441.17 L538.22,441.14 L538.42,441.00 L538.62,441.06 L538.81,441.10 L539.01,441.23 L539.21,441.08 L539.41,440.98 L539.60,440.78 L539.80,440.79 L540.00,440.70 L540.20,440.73 L540.39,440.59 L540.59,440.29 L540.79,439.49 L540.99,438.52 L541.18,437.56 L541.38,436.29 L541.58,434.82 L541.78,433.35 L541.97,432.96 L542.17,433.46 L542.37,434.72 L542.57,436.10 L542.76,437.57 L542.96,438.65 L543.16,439.15 L543.36,438.90 L543.56,437.92 L543.75,436.56 L543.95,434.70 L544.15,432.85 L544.35,431.32 L544.54,431.02 L544.74,432.05 L544.94,433.90 L545.14,435.85 L545.33,437.65 L545.53,438.94 L545.73,439.93 L545.93,440.23 L546.12,440.60 L546.32,440.65 L546.52,440.88 L546.72,440.78 L546.91,440.76 L547.11,440.69 L547.31,440.86 L547.51,440.93 L547.70,441.14 L547.90,441.15 L548.10,441.14 L548.30,441.07 L548.49,440.98 L548.69,441.12 L548.89,441.16 L549.09,441.20 L549.28,441.18 L549.48,441.17 L549.68,441.32 L549.88,441.18 L550.08,441.28 L550.27,441.21 L550.47,441.17 L550.67,441.08 L550.87,440.87 L551.06,440.85 L551.26,440.37 L551.46,439.94 L551.66,439.29 L551.85,438.90 L552.05,438.73 L552.25,438.88 L552.45,439.10 L552.64,439.37 L552.84,439.77 L553.04,440.42 L553.24,440.74 L553.43,440.86 L553.63,440.96 L553.83,441.09 L554.03,441.27 L554.22,441.13 L554.42,441.24 L554.62,441.20 L554.82,441.11 L555.01,440.89 L555.21,440.82 L555.41,440.95 L555.61,441.07 L555.80,440.99 L556.00,440.81 L556.20,440.70 L556.40,440.45 L556.60,440.10 L556.79,439.60 L556.99,439.33 L557.19,439.51 L557.39,439.88 L557.58,440.31 L557.78,440.69 L557.98,440.84 L558.18,441.09 L558.37,441.06 L558.57,441.08 L558.77,440.96 L558.97,441.06 L559.16,441.12 L559.36,441.23 L559.56,441.13 L559.76,441.06 L559.95,441.04 L560.15,441.18 L560.35,441.30 L560.55,441.31 L560.74,441.29 L560.94,441.42 L561.14,441.49 L561.34,441.64 L561.53,441.53 L561.73,441.63 L561.93,441.42 L562.13,441.49 L562.32,441.28 L562.52,441.35 L562.72,441.22 L562.92,441.16 L563.12,441.03 L563.31,441.15 L563.51,441.36 L563.71,441.58 L563.91,441.51 L564.10,441.23 L564.30,441.14 L564.50,441.08 L564.70,441.28 L564.89,441.22 L565.09,441.21 L565.29,441.17 L565.49,441.31 L565.68,441.41 L565.88,441.44 L566.08,441.30 L566.28,441.34 L566.47,441.42 L566.67,441.47 L566.87,441.28 L567.07,441.21 L567.26,441.07 L567.46,440.98 L567.66,441.02 L567.86,440.98 L568.05,440.95 L568.25,440.60 L568.45,440.50 L568.65,440.57 L568.84,440.69 L569.04,440.83 L569.24,440.75 L569.44,440.91 L569.63,441.02 L569.83,441.37 L570.03,441.43 L570.23,441.37 L570.43,441.27 L570.62,441.25 L570.82,441.46 L571.02,441.52 L571.22,441.59 L571.41,441.49 L571.61,441.51 L571.81,441.45 L572.01,441.36 L572.20,441.13 L572.40,441.28 L572.60,441.40 L572.80,441.61 L572.99,441.52 L573.19,441.61 L573.39,441.48 L573.59,441.58 L573.78,441.37 L573.98,441.42 L574.18,441.22 L574.38,441.30 L574.57,441.31 L574.77,441.45 L574.97,441.40 L575.17,441.31 L575.36,441.32 L575.56,441.48 L575.76,441.66 L575.96,441.61 L576.15,441.53 L576.35,441.33 L576.55,441.31 L576.75,441.38 L576.95,441.56 L577.14,441.51 L577.34,441.49 L577.54,441.44 L577.74,441.58 L577.93,441.39 L578.13,441.36 L578.33,441.33 L578.53,441.47 L578.72,441.56 L578.92,441.53 L579.12,441.49 L579.32,441.49 L579.51,441.56 L579.71,441.45 L579.91,441.39 L580.11,441.30 L580.30,441.44 L580.50,441.56 L580.70,441.46 L580.90,441.50 L581.09,441.27 L581.29,441.32 L581.49,441.23 L581.69,441.35 L581.88,441.37 L582.08,441.37 L582.28,441.37 L582.48,441.40 L582.67,441.29 L582.87,441.20 L583.07,441.19 L583.27,441.39 L583.47,441.59 L583.66,441.86 L583.86,441.83 L584.06,441.68 L584.26,441.46 L584.45,441.51 L584.65,441.59 L584.85,441.48 L585.05,441.42 L585.24,441.41 L585.44,441.38 L585.64,441.29 L585.84,441.39 L586.03,441.33 L586.23,441.44 L586.43,441.32 L586.63,441.62 L586.82,441.66 L587.02,441.61 L587.22,441.60 L587.42,441.51 L587.61,441.75 L587.81,441.78 L588.01,441.82 L588.21,441.72 L588.40,441.60 L588.60,441.53 L588.80,441.56 L589.00,441.58 L589.19,441.73 L589.39,441.73 L589.59,441.81 L589.79,441.83 L589.99,441.73 L590.18,441.63 L590.38,441.58 L590.58,441.57 L590.78,441.55 L590.97,441.67 L591.17,441.72 L591.37,441.90 L591.57,441.68 L591.76,441.64 L591.96,441.45 L592.16,441.48 L592.36,441.46 L592.55,441.49 L592.75,441.49 L592.95,441.66 L593.15,441.73 L593.34,441.70 L593.54,441.51 L593.74,441.52 L593.94,441.63 L594.13,441.62 L594.33,441.64 L594.53,441.48 L594.73,441.49 L594.92,441.56 L595.12,441.46 L595.32,441.48 L595.52,441.42 L595.71,441.63 L595.91,441.58 L596.11,441.43 L596.31,441.27 L596.51,441.22 L596.70,441.30 L596.90,441.43 L597.10,441.54 L597.30,441.52 L597.49,441.59 L597.69,441.46 L597.89,441.45 L598.09,441.40 L598.28,441.51 L598.48,441.46 L598.68,441.31 L598.88,441.39 L599.07,441.53 L599.27,441.91 L599.47,441.92 L599.67,441.99 L599.86,441.84 L600.06,441.75 L600.26,441.66 L600.46,441.51 L600.65,441.57 L600.85,441.52 L601.05,441.53 L601.25,441.61 L601.44,441.71 L601.64,441.84 L601.84,441.80 L602.04,441.85 L602.23,441.80 L602.43,441.62 L602.63,441.41 L602.83,441.48 L603.03,441.61 L603.22,441.57 L603.42,441.62 L603.62,441.62 L603.82,441.88 L604.01,441.86 L604.21,441.81 L604.41,441.69 L604.61,441.53 L604.80,441.50 L605.00,441.47 L605.20,441.57 L605.40,441.76 L605.59,441.71 L605.79,441.73 L605.99,441.62 L606.19,441.67 L606.38,441.71 L606.58,441.68 L606.78,441.81 L606.98,441.69 L607.17,441.64 L607.37,441.60 L607.57,441.50 L607.77,441.48 L607.96,441.40 L608.16,441.52 L608.36,441.60 L608.56,441.45 L608.75,441.34 L608.95,441.41 L609.15,441.61 L609.35,441.64 L609.55,441.62 L609.74,441.59 L609.94,441.75 L610.14,441.66 L610.34,441.76 L610.53,441.64 L610.73,441.79 L610.93,441.70 L611.13,441.56 L611.32,441.29 L611.52,441.04 L611.72,440.98 L611.92,440.65 L612.11,440.43 L612.31,440.38 L612.51,440.68 L612.71,440.87 L612.90,440.98 L613.10,441.18 L613.30,441.32 L613.50,441.50 L613.69,441.60 L613.89,441.71 L614.09,441.49 L614.29,441.52 L614.48,441.62 L614.68,441.97 L614.88,441.94 L615.08,441.71 L615.27,441.72 L615.47,441.68 L615.67,441.90 L615.87,441.77 L616.07,441.72 L616.26,441.63 L616.46,441.77 L616.66,441.82 L616.86,441.82 L617.05,441.59 L617.25,441.60 L617.45,441.62 L617.65,441.74 L617.84,441.79 L618.04,441.85 L618.24,441.84 L618.44,441.77 L618.63,441.72 L618.83,441.78 L619.03,441.82 L619.23,441.83 L619.42,441.70 L619.62,441.71 L619.82,441.78 L620.02,441.76 L620.21,441.72 L620.41,441.62 L620.61,441.53 L620.81,441.49 L621.00,441.60 L621.20,441.73 L621.40,441.67 L621.60,441.68 L621.79,441.65 L621.99,441.63 L622.19,441.52 L622.39,441.66 L622.59,441.79 L622.78,441.78 L622.98,441.70 L623.18,441.66 L623.38,441.67 L623.57,441.62 L623.77,441.53 L623.97,441.62 L624.17,441.67 L624.36,442.00 L624.56,442.00 L624.76,441.95 L624.96,441.72 L625.15,441.69 L625.35,441.79 L625.55,441.83 L625.75,441.84 L625.94,441.79 L626.14,441.81 L626.34,441.96 L626.54,441.93 L626.73,441.85 L626.93,441.73 L627.13,441.87 L627.33,441.97 L627.52,442.01 L627.72,441.90 L627.92,441.82 L628.12,441.77 L628.31,441.83 L628.51,441.99 L628.71,442.07 L628.91,441.86 L629.11,441.79 L629.30,441.60 L629.50,441.58 L629.70,441.55 L629.90,441.59 L630.09,441.74 L630.29,441.60 L630.49,441.53 L630.69,441.54 L630.88,441.53 L631.08,441.60 L631.28,441.63 L631.48,441.74 L631.67,441.78 L631.87,441.76 L632.07,441.68 L632.27,441.57 L632.46,441.59 L632.66,441.76 L632.86,441.86 L633.06,441.81 L633.25,441.74 L633.45,441.58 L633.65,441.54 L633.85,441.50 L634.04,441.64 L634.24,441.70 L634.44,441.71 L634.64,441.62 L634.83,441.60 L635.03,441.64 L635.23,441.59 L635.43,441.54 L635.63,441.49 L635.82,441.76 L636.02,441.92 L636.22,442.08 L636.42,442.07 L636.61,441.98 L636.81,441.84 L637.01,441.63 L637.21,441.77 L637.40,441.84 L637.60,441.98 L637.80,441.94 L638.00,441.92 L638.19,441.89 L638.39,441.86 L638.59,441.92 L638.79,441.84 L638.98,441.73 L639.18,441.63 L639.38,441.79 L639.58,441.90 L639.77,441.88 L639.97,441.86 L640.17,441.85 L640.37,441.71 L640.56,441.56 L640.76,441.37 L640.96,441.51 L641.16,441.56 L641.35,441.77 L641.55,441.97 L641.75,441.95 L641.95,441.92 L642.15,441.71 L642.34,441.53 L642.54,441.47 L642.74,441.44 L642.94,441.70 L643.13,441.69 L643.33,441.64 L643.53,441.67 L643.73,441.73 L643.92,441.77 L644.12,441.65 L644.32,441.64 L644.52,441.78 L644.71,441.96 L644.91,441.87 L645.11,441.90 L645.31,441.79 L645.50,441.92 L645.70,441.91 L645.90,441.82 L646.10,441.86 L646.29,441.66 L646.49,441.69 L646.69,441.54 L646.89,441.76 L647.08,441.88 L647.28,441.93 L647.48,441.69 L647.68,441.32 L647.87,441.16 L648.07,441.00 L648.27,440.98 L648.47,440.84 L648.66,440.86 L648.86,441.01 L649.06,441.37 L649.26,441.51 L649.46,441.66 L649.65,441.77 L649.85,441.97 L650.05,442.13 L650.25,442.04 L650.44,442.01 L650.64,441.99 L650.84,442.02 L651.04,442.01 L651.23,441.86 L651.43,441.69 L651.63,441.78 L651.83,441.80 L652.02,441.86 L652.22,441.81 L652.42,441.77 L652.62,441.72 L652.81,441.61 L653.01,441.68 L653.21,441.81 L653.41,441.90 L653.60,441.99 L653.80,441.96 L654.00,441.95 L654.20,441.86 L654.39,441.82 L654.59,441.82 L654.79,441.86 L654.99,442.06 L655.18,442.08 L655.38,441.99 L655.58,441.89 L655.78,441.82 L655.98,442.00 L656.17,441.81 L656.37,441.78 L656.57,441.59 L656.77,441.74 L656.96,441.78 L657.16,441.69 L657.36,441.51 L657.56,441.51 L657.75,441.72 L657.95,441.91 L658.15,441.73 L658.35,441.45 L658.54,441.01 L658.74,440.67 L658.94,440.54 L659.14,440.63 L659.33,440.86 L659.53,440.97 L659.73,441.25 L659.93,441.53 L660.12,441.69 L660.32,441.74 L660.52,441.78 L660.72,441.80 L660.91,441.74 L661.11,441.83 L661.31,441.83 L661.51,441.80 L661.70,441.88 L661.90,442.02 L662.10,442.17 L662.30,442.02 L662.50,441.93 L662.69,441.77 L662.89,441.78 L663.09,441.79 L663.29,441.89 L663.48,441.93 L663.68,441.85 L663.88,441.88 L664.08,441.72 L664.27,441.78 L664.47,441.71 L664.67,441.84" fill="none" stroke="#e4aebb" stroke-width="1.8" stroke-linejoin="round"/>
<path d="M507.79,478.05 L507.99,478.13 L508.19,478.22 L508.39,478.34 L508.58,478.39 L508.78,478.51 L508.98,478.58 L509.18,478.65 L509.37,478.74 L509.57,478.74 L509.77,478.84 L509.97,478.86 L510.16,479.00 L510.36,478.99 L510.56,479.02 L510.76,479.03 L510.96,479.14 L511.15,479.24 L511.35,479.33 L511.55,479.38 L511.75,479.41 L511.94,479.43 L512.14,479.48 L512.34,479.57 L512.54,479.71 L512.73,479.76 L512.93,479.83 L513.13,479.81 L513.33,479.90 L513.52,479.88 L513.72,479.99 L513.92,479.98 L514.12,480.03 L514.31,480.06 L514.51,480.18 L514.71,480.24 L514.91,480.32 L515.10,480.33 L515.30,480.41 L515.50,480.44 L515.70,480.50 L515.89,480.49 L516.09,480.53 L516.29,480.56 L516.49,480.62 L516.68,480.68 L516.88,480.67 L517.08,480.75 L517.28,480.76 L517.48,480.82 L517.67,480.86 L517.87,480.96 L518.07,480.99 L518.27,480.98 L518.46,481.01 L518.66,480.97 L518.86,481.07 L519.06,481.12 L519.25,481.21 L519.45,481.24 L519.65,481.24 L519.85,481.33 L520.04,481.24 L520.24,481.25 L520.44,481.26 L520.64,481.35 L520.83,481.39 L521.03,481.41 L521.23,481.36 L521.43,481.40 L521.62,481.41 L521.82,481.53 L522.02,481.55 L522.22,481.60 L522.41,481.64 L522.61,481.74 L522.81,481.74 L523.01,481.82 L523.20,481.78 L523.40,481.80 L523.60,481.72 L523.80,481.78 L524.00,481.79 L524.19,481.89 L524.39,481.90 L524.59,481.95 L524.79,481.92 L524.98,481.95 L525.18,482.00 L525.38,482.06 L525.58,482.07 L525.77,482.07 L525.97,482.08 L526.17,482.07 L526.37,482.13 L526.56,482.14 L526.76,482.16 L526.96,482.12 L527.16,482.13 L527.35,482.12 L527.55,482.22 L527.75,482.28 L527.95,482.32 L528.14,482.29 L528.34,482.33 L528.54,482.40 L528.74,482.39 L528.93,482.28 L529.13,482.23 L529.33,482.32 L529.53,482.42 L529.72,482.44 L529.92,482.44 L530.12,482.44 L530.32,482.47 L530.52,482.45 L530.71,482.46 L530.91,482.55 L531.11,482.55 L531.31,482.57 L531.50,482.57 L531.70,482.67 L531.90,482.66 L532.10,482.70 L532.29,482.70 L532.49,482.70 L532.69,482.70 L532.89,482.63 L533.08,482.72 L533.28,482.63 L533.48,482.63 L533.68,482.65 L533.87,482.72 L534.07,482.78 L534.27,482.78 L534.47,482.77 L534.66,482.78 L534.86,482.74 L535.06,482.78 L535.26,482.80 L535.45,482.84 L535.65,482.81 L535.85,482.81 L536.05,482.78 L536.24,482.80 L536.44,482.78 L536.64,482.89 L536.84,482.88 L537.04,482.90 L537.23,482.87 L537.43,482.94 L537.63,482.98 L537.83,482.99 L538.02,483.04 L538.22,483.03 L538.42,483.05 L538.62,483.08 L538.81,483.06 L539.01,483.09 L539.21,483.02 L539.41,483.02 L539.60,482.97 L539.80,482.99 L540.00,483.00 L540.20,483.02 L540.39,483.03 L540.59,483.08 L540.79,483.10 L540.99,483.06 L541.18,483.05 L541.38,483.03 L541.58,483.05 L541.78,483.09 L541.97,483.12 L542.17,483.21 L542.37,483.21 L542.57,483.22 L542.76,483.24 L542.96,483.22 L543.16,483.20 L543.36,483.13 L543.56,483.11 L543.75,483.16 L543.95,483.20 L544.15,483.26 L544.35,483.24 L544.54,483.20 L544.74,483.20 L544.94,483.25 L545.14,483.25 L545.33,483.23 L545.53,483.23 L545.73,483.26 L545.93,483.29 L546.12,483.27 L546.32,483.24 L546.52,483.23 L546.72,483.26 L546.91,483.28 L547.11,483.28 L547.31,483.26 L547.51,483.29 L547.70,483.38 L547.90,483.35 L548.10,483.35 L548.30,483.33 L548.49,483.37 L548.69,483.38 L548.89,483.27 L549.09,483.30 L549.28,483.32 L549.48,483.40 L549.68,483.37 L549.88,483.36 L550.08,483.33 L550.27,483.37 L550.47,483.36 L550.67,483.39 L550.87,483.32 L551.06,483.32 L551.26,483.20 L551.46,483.24 L551.66,483.28 L551.85,483.37 L552.05,483.46 L552.25,483.40 L552.45,483.40 L552.64,483.30 L552.84,483.32 L553.04,483.32 L553.24,483.30 L553.43,483.29 L553.63,483.37 L553.83,483.42 L554.03,483.48 L554.22,483.38 L554.42,483.38 L554.62,483.37 L554.82,483.41 L555.01,483.40 L555.21,483.38 L555.41,483.39 L555.61,483.44 L555.80,483.49 L556.00,483.44 L556.20,483.35 L556.40,483.31 L556.60,483.35 L556.79,483.45 L556.99,483.49 L557.19,483.47 L557.39,483.52 L557.58,483.49 L557.78,483.46 L557.98,483.43 L558.18,483.43 L558.37,483.50 L558.57,483.42 L558.77,483.40 L558.97,483.40 L559.16,483.45 L559.36,483.48 L559.56,483.52 L559.76,483.58 L559.95,483.60 L560.15,483.55 L560.35,483.56 L560.55,483.53 L560.74,483.57 L560.94,483.50 L561.14,483.45 L561.34,483.35 L561.53,483.36 L561.73,483.39 L561.93,483.47 L562.13,483.49 L562.32,483.46 L562.52,483.41 L562.72,483.39 L562.92,483.45 L563.12,483.50 L563.31,483.48 L563.51,483.42 L563.71,483.42 L563.91,483.42 L564.10,483.49 L564.30,483.52 L564.50,483.53 L564.70,483.53 L564.89,483.51 L565.09,483.55 L565.29,483.59 L565.49,483.60 L565.68,483.61 L565.88,483.58 L566.08,483.55 L566.28,483.53 L566.47,483.51 L566.67,483.57 L566.87,483.61 L567.07,483.68 L567.26,483.60 L567.46,483.56 L567.66,483.43 L567.86,483.45 L568.05,483.39 L568.25,483.49 L568.45,483.53 L568.65,483.55 L568.84,483.53 L569.04,483.53 L569.24,483.62 L569.44,483.64 L569.63,483.62 L569.83,483.56 L570.03,483.56 L570.23,483.56 L570.43,483.55 L570.62,483.49 L570.82,483.52 L571.02,483.51 L571.22,483.54 L571.41,483.53 L571.61,483.56 L571.81,483.60 L572.01,483.54 L572.20,483.57 L572.40,483.49 L572.60,483.48 L572.80,483.42 L572.99,483.47 L573.19,483.49 L573.39,483.48 L573.59,483.52 L573.78,483.51 L573.98,483.55 L574.18,483.52 L574.38,483.54 L574.57,483.56 L574.77,483.57 L574.97,483.58 L575.17,483.61 L575.36,483.57 L575.56,483.53 L575.76,483.51 L575.96,483.50 L576.15,483.54 L576.35,483.53 L576.55,483.55 L576.75,483.56 L576.95,483.58 L577.14,483.50 L577.34,483.47 L577.54,483.46 L577.74,483.57 L577.93,483.56 L578.13,483.52 L578.33,483.51 L578.53,483.55 L578.72,483.52 L578.92,483.47 L579.12,483.43 L579.32,483.41 L579.51,483.44 L579.71,483.49 L579.91,483.54 L580.11,483.56 L580.30,483.51 L580.50,483.56 L580.70,483.57 L580.90,483.65 L581.09,483.64 L581.29,483.65 L581.49,483.62 L581.69,483.60 L581.88,483.62 L582.08,483.58 L582.28,483.61 L582.48,483.64 L582.67,483.69 L582.87,483.66 L583.07,483.58 L583.27,483.54 L583.47,483.56 L583.66,483.50 L583.86,483.53 L584.06,483.48 L584.26,483.54 L584.45,483.55 L584.65,483.63 L584.85,483.69 L585.05,483.62 L585.24,483.56 L585.44,483.45 L585.64,483.49 L585.84,483.56 L586.03,483.58 L586.23,483.58 L586.43,483.51 L586.63,483.50 L586.82,483.51 L587.02,483.54 L587.22,483.51 L587.42,483.53 L587.61,483.55 L587.81,483.61 L588.01,483.57 L588.21,483.58 L588.40,483.59 L588.60,483.65 L588.80,483.58 L589.00,483.50 L589.19,483.49 L589.39,483.50 L589.59,483.51 L589.79,483.53 L589.99,483.60 L590.18,483.67 L590.38,483.68 L590.58,483.68 L590.78,483.62 L590.97,483.61 L591.17,483.59 L591.37,483.64 L591.57,483.66 L591.76,483.67 L591.96,483.70 L592.16,483.65 L592.36,483.63 L592.55,483.55 L592.75,483.55 L592.95,483.50 L593.15,483.52 L593.34,483.52 L593.54,483.56 L593.74,483.49 L593.94,483.42 L594.13,483.47 L594.33,483.51 L594.53,483.63 L594.73,483.58 L594.92,483.62 L595.12,483.53 L595.32,483.53 L595.52,483.51 L595.71,483.58 L595.91,483.66 L596.11,483.70 L596.31,483.63 L596.51,483.57 L596.70,483.54 L596.90,483.56 L597.10,483.58 L597.30,483.64 L597.49,483.65 L597.69,483.67 L597.89,483.66 L598.09,483.64 L598.28,483.66 L598.48,483.67 L598.68,483.72 L598.88,483.71 L599.07,483.67 L599.27,483.70 L599.47,483.66 L599.67,483.62 L599.86,483.59 L600.06,483.57 L600.26,483.58 L600.46,483.53 L600.65,483.51 L600.85,483.49 L601.05,483.56 L601.25,483.52 L601.44,483.57 L601.64,483.51 L601.84,483.53 L602.04,483.56 L602.23,483.55 L602.43,483.63 L602.63,483.60 L602.83,483.64 L603.03,483.59 L603.22,483.62 L603.42,483.64 L603.62,483.63 L603.82,483.61 L604.01,483.64 L604.21,483.63 L604.41,483.69 L604.61,483.62 L604.80,483.62 L605.00,483.51 L605.20,483.49 L605.40,483.45 L605.59,483.49 L605.79,483.54 L605.99,483.60 L606.19,483.60 L606.38,483.54 L606.58,483.52 L606.78,483.49 L606.98,483.48 L607.17,483.57 L607.37,483.63 L607.57,483.64 L607.77,483.60 L607.96,483.64 L608.16,483.65 L608.36,483.62 L608.56,483.53 L608.75,483.50 L608.95,483.55 L609.15,483.70 L609.35,483.73 L609.55,483.63 L609.74,483.56 L609.94,483.62 L610.14,483.69 L610.34,483.70 L610.53,483.65 L610.73,483.64 L610.93,483.62 L611.13,483.62 L611.32,483.63 L611.52,483.59 L611.72,483.62 L611.92,483.61 L612.11,483.55 L612.31,483.54 L612.51,483.49 L612.71,483.52 L612.90,483.47 L613.10,483.54 L613.30,483.56 L613.50,483.60 L613.69,483.61 L613.89,483.65 L614.09,483.65 L614.29,483.54 L614.48,483.54 L614.68,483.54 L614.88,483.60 L615.08,483.60 L615.27,483.59 L615.47,483.60 L615.67,483.60 L615.87,483.64 L616.07,483.63 L616.26,483.64 L616.46,483.66 L616.66,483.75 L616.86,483.70 L617.05,483.67 L617.25,483.64 L617.45,483.65 L617.65,483.65 L617.84,483.61 L618.04,483.59 L618.24,483.56 L618.44,483.54 L618.63,483.57 L618.83,483.58 L619.03,483.55 L619.23,483.54 L619.42,483.61 L619.62,483.70 L619.82,483.63 L620.02,483.55 L620.21,483.53 L620.41,483.60 L620.61,483.63 L620.81,483.60 L621.00,483.60 L621.20,483.56 L621.40,483.61 L621.60,483.57 L621.79,483.60 L621.99,483.61 L622.19,483.68 L622.39,483.69 L622.59,483.63 L622.78,483.58 L622.98,483.56 L623.18,483.55 L623.38,483.62 L623.57,483.62 L623.77,483.65 L623.97,483.62 L624.17,483.65 L624.36,483.62 L624.56,483.63 L624.76,483.62 L624.96,483.63 L625.15,483.59 L625.35,483.52 L625.55,483.54 L625.75,483.58 L625.94,483.63 L626.14,483.60 L626.34,483.59 L626.54,483.57 L626.73,483.60 L626.93,483.62 L627.13,483.68 L627.33,483.68 L627.52,483.60 L627.72,483.59 L627.92,483.54 L628.12,483.64 L628.31,483.66 L628.51,483.70 L628.71,483.66 L628.91,483.72 L629.11,483.69 L629.30,483.66 L629.50,483.60 L629.70,483.55 L629.90,483.65 L630.09,483.65 L630.29,483.74 L630.49,483.71 L630.69,483.69 L630.88,483.61 L631.08,483.55 L631.28,483.56 L631.48,483.60 L631.67,483.63 L631.87,483.59 L632.07,483.57 L632.27,483.56 L632.46,483.61 L632.66,483.64 L632.86,483.60 L633.06,483.52 L633.25,483.58 L633.45,483.58 L633.65,483.60 L633.85,483.51 L634.04,483.58 L634.24,483.58 L634.44,483.63 L634.64,483.61 L634.83,483.59 L635.03,483.58 L635.23,483.53 L635.43,483.56 L635.63,483.58 L635.82,483.61 L636.02,483.59 L636.22,483.55 L636.42,483.55 L636.61,483.59 L636.81,483.53 L637.01,483.48 L637.21,483.48 L637.40,483.55 L637.60,483.61 L637.80,483.60 L638.00,483.60 L638.19,483.59 L638.39,483.58 L638.59,483.61 L638.79,483.64 L638.98,483.63 L639.18,483.58 L639.38,483.57 L639.58,483.53 L639.77,483.55 L639.97,483.54 L640.17,483.59 L640.37,483.64 L640.56,483.67 L640.76,483.68 L640.96,483.63 L641.16,483.60 L641.35,483.58 L641.55,483.65 L641.75,483.66 L641.95,483.65 L642.15,483.57 L642.34,483.59 L642.54,483.58 L642.74,483.62 L642.94,483.59 L643.13,483.65 L643.33,483.61 L643.53,483.62 L643.73,483.59 L643.92,483.65 L644.12,483.68 L644.32,483.67 L644.52,483.64 L644.71,483.62 L644.91,483.57 L645.11,483.59 L645.31,483.53 L645.50,483.53 L645.70,483.48 L645.90,483.45 L646.10,483.52 L646.29,483.60 L646.49,483.66 L646.69,483.67 L646.89,483.64 L647.08,483.62 L647.28,483.55 L647.48,483.57 L647.68,483.62 L647.87,483.69 L648.07,483.64 L648.27,483.61 L648.47,483.52 L648.66,483.58 L648.86,483.62 L649.06,483.68 L649.26,483.64 L649.46,483.61 L649.65,483.58 L649.85,483.62 L650.05,483.60 L650.25,483.65 L650.44,483.62 L650.64,483.61 L650.84,483.53 L651.04,483.50 L651.23,483.53 L651.43,483.53 L651.63,483.58 L651.83,483.62 L652.02,483.68 L652.22,483.60 L652.42,483.49 L652.62,483.50 L652.81,483.60 L653.01,483.67 L653.21,483.65 L653.41,483.60 L653.60,483.59 L653.80,483.60 L654.00,483.60 L654.20,483.64 L654.39,483.67 L654.59,483.68 L654.79,483.72 L654.99,483.62 L655.18,483.65 L655.38,483.59 L655.58,483.72 L655.78,483.69 L655.98,483.66 L656.17,483.63 L656.37,483.58 L656.57,483.62 L656.77,483.54 L656.96,483.64 L657.16,483.62 L657.36,483.67 L657.56,483.63 L657.75,483.59 L657.95,483.49 L658.15,483.55 L658.35,483.60 L658.54,483.63 L658.74,483.56 L658.94,483.59 L659.14,483.57 L659.33,483.66 L659.53,483.62 L659.73,483.66 L659.93,483.62 L660.12,483.64 L660.32,483.62 L660.52,483.61 L660.72,483.61 L660.91,483.68 L661.11,483.62 L661.31,483.57 L661.51,483.55 L661.70,483.57 L661.90,483.54 L662.10,483.50 L662.30,483.53 L662.50,483.58 L662.69,483.64 L662.89,483.60 L663.09,483.62 L663.29,483.53 L663.48,483.52 L663.68,483.51 L663.88,483.59 L664.08,483.62 L664.27,483.66 L664.47,483.57 L664.67,483.56" fill="none" stroke="#ecc8d1" stroke-width="1.8" stroke-linejoin="round"/>
<g stroke="#000" stroke-width="1.4" fill="none">
<path d="M507.6,502.8 H665"/>
<path d="M509.49,503.2 V501.20"/>
<path d="M523.60,503.2 V499.30"/>
<path d="M537.71,503.2 V501.20"/>
<path d="M551.83,503.2 V499.30"/>
<path d="M565.94,503.2 V501.20"/>
<path d="M580.05,503.2 V499.30"/>
<path d="M594.16,503.2 V501.20"/>
<path d="M608.27,503.2 V499.30"/>
<path d="M622.39,503.2 V501.20"/>
<path d="M636.50,503.2 V499.30"/>
<path d="M650.61,503.2 V501.20"/>
<path d="M664.73,503.2 V499.30"/>
</g>
<text x="523.6" y="518.4" font-family="Liberation Sans" font-size="13.5" fill="#000" text-anchor="middle" font-weight="normal" >5</text>
<text x="551.8" y="518.4" font-family="Liberation Sans" font-size="13.5" fill="#000" text-anchor="middle" font-weight="normal" >10</text>
<text x="580.1" y="518.4" font-family="Liberation Sans" font-size="13.5" fill="#000" text-anchor="middle" font-weight="normal" >15</text>
<text x="608.3" y="518.4" font-family="Liberation Sans" font-size="13.5" fill="#000" text-anchor="middle" font-weight="normal" >20</text>
<text x="636.5" y="518.4" font-family="Liberation Sans" font-size="13.5" fill="#000" text-anchor="middle" font-weight="normal" >25</text>
<text x="664.7" y="518.4" font-family="Liberation Sans" font-size="13.5" fill="#000" text-anchor="middle" font-weight="normal" >30</text>
<text x="545.8" y="534.7" font-family="Liberation Sans" font-size="15.2">2<tspan font-family="Liberation Serif" font-size="16">θ</tspan> (degree)</text>
<text x="579.7" y="340.0" font-family="Liberation Sans" font-size="14" fill="#eaa3b6" text-anchor="start" font-weight="normal" >MOF-808</text>
<text x="561.0" y="378.3" font-family="Liberation Sans" font-size="14" fill="#000" text-anchor="start" font-weight="normal" >as-synthesized</text>
<text x="578.1" y="432.0" font-family="Liberation Sans" font-size="14">3M HNO<tspan dy="3" font-size="12">3</tspan></text>
<text x="564.8" y="471.0" font-family="Liberation Sans" font-size="14" fill="#000" text-anchor="start" font-weight="normal" >NaOH (PH=14)</text>
<!-- panel e -->
<text x="7.6" y="582.4" font-family="Liberation Sans" font-size="25.5">e</text>
<g stroke="#8a8a8a" stroke-width="0.9" fill="none">
<path d="M38.2,622.3 L66.6,596.4 H349.8 V785.6 L320.6,812.0"/>
<path d="M66.6,596.4 V785.6 H349.8"/>
<path d="M38.2,812.0 L66.6,785.6"/>
</g>
<g stroke="#000" stroke-width="1.2" fill="none">
<path d="M38.0,622.8 V812.2 H320.8"/>
<path d="M38.2,623.2 H40.3"/>
<path d="M38.2,795.04 H40.60"/>
<path d="M38.2,777.88 H42.80"/>
<path d="M38.2,760.72 H40.60"/>
<path d="M38.2,743.56 H42.80"/>
<path d="M38.2,726.40 H40.60"/>
<path d="M38.2,709.24 H42.80"/>
<path d="M38.2,692.08 H40.60"/>
<path d="M38.2,674.92 H42.80"/>
<path d="M38.2,657.76 H40.60"/>
<path d="M38.2,640.60 H42.80"/>
</g>
<text x="32.4" y="816.0" font-family="Liberation Sans" font-size="10" fill="#000" text-anchor="end" font-weight="normal" >0</text>
<text x="32.4" y="781.7" font-family="Liberation Sans" font-size="10" fill="#000" text-anchor="end" font-weight="normal" >20</text>
<text x="32.4" y="747.4" font-family="Liberation Sans" font-size="10" fill="#000" text-anchor="end" font-weight="normal" >40</text>
<text x="32.4" y="713.0" font-family="Liberation Sans" font-size="10" fill="#000" text-anchor="end" font-weight="normal" >60</text>
<text x="32.4" y="678.7" font-family="Liberation Sans" font-size="10" fill="#000" text-anchor="end" font-weight="normal" >80</text>
<text x="32.4" y="644.4" font-family="Liberation Sans" font-size="10" fill="#000" text-anchor="end" font-weight="normal" >100</text>
<text transform="translate(9.5,779.0) rotate(-90)" font-family="Liberation Sans" font-size="13.2" textLength="123.3" lengthAdjust="spacingAndGlyphs">Residual weight(wt%)</text>
<path d="M54.30,627.60 V798.00 A11.10,3.4 0 0 0 76.50,798.00 V627.60 Z" fill="url(#cg0)" stroke="#3d4a6c" stroke-width="0.5"/>
<ellipse cx="65.40" cy="627.60" rx="11.10" ry="2.9" fill="#45547a" stroke="#3d4a6c" stroke-width="0.5" transform="rotate(-4 65.40 627.60)"/>
<path d="M81.00,627.90 V798.00 A10.95,3.4 0 0 0 102.90,798.00 V627.90 Z" fill="url(#cg1)" stroke="#68809c" stroke-width="0.5"/>
<ellipse cx="91.95" cy="627.90" rx="10.95" ry="2.9" fill="#6a819c" stroke="#68809c" stroke-width="0.5" transform="rotate(-4 91.95 627.90)"/>
<path d="M107.90,627.60 V798.00 A10.85,3.4 0 0 0 129.60,798.00 V627.60 Z" fill="url(#cg2)" stroke="#88a8ae" stroke-width="0.5"/>
<ellipse cx="118.75" cy="627.60" rx="10.85" ry="2.9" fill="#8aa8b0" stroke="#88a8ae" stroke-width="0.5" transform="rotate(-4 118.75 627.60)"/>
<path d="M134.20,628.60 V798.00 A10.90,3.4 0 0 0 156.00,798.00 V628.60 Z" fill="url(#cg3)" stroke="#9cc2cc" stroke-width="0.5"/>
<ellipse cx="145.10" cy="628.60" rx="10.90" ry="2.9" fill="#9fc0ca" stroke="#9cc2cc" stroke-width="0.5" transform="rotate(-4 145.10 628.60)"/>
<path d="M161.00,628.60 V798.00 A10.90,3.4 0 0 0 182.80,798.00 V628.60 Z" fill="url(#cg4)" stroke="#b8d4d8" stroke-width="0.5"/>
<ellipse cx="171.90" cy="628.60" rx="10.90" ry="2.9" fill="#b8d2d6" stroke="#b8d4d8" stroke-width="0.5" transform="rotate(-4 171.90 628.60)"/>
<path d="M199.00,627.80 V798.00 A10.90,3.4 0 0 0 220.80,798.00 V627.80 Z" fill="url(#cg5)" stroke="#cf8e9f" stroke-width="0.5"/>
<ellipse cx="209.90" cy="627.80" rx="10.90" ry="2.9" fill="#db96a9" stroke="#cf8e9f" stroke-width="0.5" transform="rotate(-4 209.90 627.80)"/>
<path d="M225.10,627.30 V798.00 A10.95,3.4 0 0 0 247.00,798.00 V627.30 Z" fill="url(#cg6)" stroke="#c47a8e" stroke-width="0.5"/>
<ellipse cx="236.05" cy="627.30" rx="10.95" ry="2.9" fill="#cd7f95" stroke="#c47a8e" stroke-width="0.5" transform="rotate(-4 236.05 627.30)"/>
<path d="M252.20,627.30 V798.00 A11.00,3.4 0 0 0 274.20,798.00 V627.30 Z" fill="url(#cg7)" stroke="#cf9caa" stroke-width="0.5"/>
<ellipse cx="263.20" cy="627.30" rx="11.00" ry="2.9" fill="#d8a0ae" stroke="#cf9caa" stroke-width="0.5" transform="rotate(-4 263.20 627.30)"/>
<path d="M278.30,649.30 V798.00 A11.30,3.4 0 0 0 300.90,798.00 V649.30 Z" fill="url(#cg8)" stroke="#dcbac2" stroke-width="0.5"/>
<ellipse cx="289.60" cy="649.30" rx="11.30" ry="2.9" fill="#dcb6be" stroke="#dcbac2" stroke-width="0.5" transform="rotate(-4 289.60 649.30)"/>
<path d="M305.00,675.10 V798.00 A11.00,3.4 0 0 0 327.00,798.00 V675.10 Z" fill="url(#cg9)" stroke="#e0ccd0" stroke-width="0.5"/>
<ellipse cx="316.00" cy="675.10" rx="11.00" ry="2.9" fill="#e2cacf" stroke="#e0ccd0" stroke-width="0.5" transform="rotate(-4 316.00 675.10)"/>
<text transform="translate(68.0,742.6) rotate(-90)" font-family="Liberation Sans" font-size="14.3">DMF</text>
<text transform="translate(96.2,745.4) rotate(-90)" font-family="Liberation Sans" font-size="14.3">MeOH</text>
<text transform="translate(123.2,756.3) rotate(-90)" font-family="Liberation Sans" font-size="14.3">Acetonitrile</text>
<text transform="translate(150.0,748.1) rotate(-90)" font-family="Liberation Sans" font-size="14.3">3M HNO<tspan dy="3.4" font-size="9">3</tspan></text>
<text transform="translate(176.9,770.3) rotate(-90)" font-family="Liberation Sans" font-size="14.3">NaOH (PH=14)</text>
<text transform="translate(214.0,754.0) rotate(-90)" font-family="Liberation Sans" font-size="14.3">DMF</text>
<text transform="translate(240.7,758.4) rotate(-90)" font-family="Liberation Sans" font-size="14.3">MeOH</text>
<text transform="translate(267.8,773.3) rotate(-90)" font-family="Liberation Sans" font-size="14.3">Acetonitrile</text>
<text transform="translate(292.7,768.6) rotate(-90)" font-family="Liberation Sans" font-size="14.3">3M HNO<tspan dy="3.4" font-size="9">3</tspan></text>
<text transform="translate(321.9,786.5) rotate(-90)" font-family="Liberation Sans" font-size="14.3">NaOH (PH=14)</text>
<text x="67.5" y="618.6" font-family="Liberation Sans" font-size="13" fill="#5a6f9b" text-anchor="start" font-weight="normal" >CSS nanocomposite</text>
<text x="227.6" y="619.0" font-family="Liberation Sans" font-size="12.8" fill="#e2879f" text-anchor="start" font-weight="normal" >MOF-808</text>
<!-- panel f -->
<text x="368.0" y="582.0" font-family="Liberation Sans" font-size="24">f</text>
<text x="463.0" y="603.9" font-family="Liberation Sans" font-size="14.2" fill="#6b81a9" text-anchor="middle" font-weight="normal" >CSS</text>
<text x="417.2" y="619.6" font-family="Liberation Sans" font-size="14.4" fill="#6b81a9" text-anchor="start" font-weight="normal" >nanocomoposite</text>
<path d="M599.42,717.19 L454.20,654.80 L460.60,650.04 L419.70,643.90 L452.31,669.34 L451.36,661.42 L596.58,723.81 Z" fill="url(#arrg)"/>
<path d="M399.6,606.0 L423.9,631.0 L399.6,656.0 L375.3,631.0 Z" fill="url(#cssg)"/>
<g opacity="0.85"><path d="M400.2,653.5 l0.9,3.6" stroke="#1a2a48" stroke-width="1.29"/><circle cx="395.2" cy="633.5" r="1.41" fill="#1a2a48"/><path d="M391.3,645.4 l0.6,2.0" stroke="#2f5fa8" stroke-width="0.88"/><circle cx="388.0" cy="643.5" r="1.13" fill="#2f5fa8"/><circle cx="401.6" cy="619.8" r="1.64" fill="#1a2a48"/><circle cx="380.9" cy="637.2" r="1.26" fill="#6a86b0"/><circle cx="377.2" cy="632.4" r="0.69" fill="#e8d490"/><circle cx="416.7" cy="635.6" r="1.50" fill="#2f5fa8"/><circle cx="400.1" cy="643.7" r="1.48" fill="#1a2a48"/><circle cx="398.2" cy="619.7" r="1.30" fill="#1a2a48"/><path d="M385.8,638.0 l0.2,3.9" stroke="#6a86b0" stroke-width="1.30"/><circle cx="395.8" cy="635.5" r="1.33" fill="#1a2a48"/><circle cx="407.4" cy="618.3" r="0.85" fill="#6a86b0"/><path d="M383.3,624.8 l0.5,1.5" stroke="#2f5fa8" stroke-width="1.08"/><path d="M388.1,627.1 l-2.1,2.5" stroke="#1a2a48" stroke-width="1.03"/><path d="M396.3,649.4 l-0.3,2.1" stroke="#f4ecc8" stroke-width="1.18"/><path d="M387.8,644.2 l0.8,3.2" stroke="#f4ecc8" stroke-width="0.61"/><path d="M397.5,635.3 l0.4,2.5" stroke="#6a86b0" stroke-width="1.11"/><circle cx="389.1" cy="621.7" r="1.23" fill="#2f5fa8"/><circle cx="412.2" cy="635.8" r="1.34" fill="#222222"/><circle cx="379.0" cy="630.4" r="0.76" fill="#1a2a48"/><path d="M413.5,620.8 l-2.6,0.3" stroke="#6a86b0" stroke-width="0.94"/><path d="M384.4,625.6 l-3.2,0.3" stroke="#2f5fa8" stroke-width="1.20"/><circle cx="409.0" cy="632.1" r="1.04" fill="#2f5fa8"/><path d="M412.2,624.0 l-0.0,1.6" stroke="#f4ecc8" stroke-width="0.82"/><path d="M399.3,654.6 l3.1,2.4" stroke="#2f5fa8" stroke-width="1.12"/><path d="M416.6,636.3 l-1.2,1.1" stroke="#6a86b0" stroke-width="1.03"/><path d="M397.0,624.6 l-0.5,2.5" stroke="#e8d490" stroke-width="0.61"/><circle cx="413.8" cy="636.3" r="1.39" fill="#b03030"/><circle cx="389.3" cy="645.1" r="0.70" fill="#2f5fa8"/><path d="M401.5,644.7 l2.8,1.8" stroke="#e8d490" stroke-width="1.01"/><circle cx="403.0" cy="613.9" r="0.79" fill="#222222"/><circle cx="384.6" cy="632.8" r="1.62" fill="#e8d490"/><path d="M414.0,639.6 l2.3,0.9" stroke="#6a86b0" stroke-width="1.28"/><path d="M379.8,636.0 l3.3,1.1" stroke="#2f5fa8" stroke-width="0.72"/><circle cx="406.9" cy="636.3" r="1.07" fill="#1a2a48"/><path d="M382.9,625.3 l0.7,2.7" stroke="#1a2a48" stroke-width="0.57"/><path d="M394.1,623.0 l-3.1,0.7" stroke="#b03030" stroke-width="0.85"/><path d="M397.9,610.6 l-3.0,2.1" stroke="#f4ecc8" stroke-width="1.01"/><circle cx="402.0" cy="633.9" r="1.07" fill="#e8d490"/><path d="M422.3,628.9 l-0.6,3.1" stroke="#6a86b0" stroke-width="0.55"/><circle cx="387.5" cy="626.0" r="1.30" fill="#222222"/><path d="M388.5,634.8 l-3.0,1.8" stroke="#6a86b0" stroke-width="0.72"/><circle cx="405.8" cy="615.8" r="1.14" fill="#2f5fa8"/><path d="M398.6,633.1 l-2.8,0.8" stroke="#1a2a48" stroke-width="1.15"/><path d="M398.9,624.8 l-1.5,0.8" stroke="#f4ecc8" stroke-width="0.92"/><path d="M383.1,628.1 l-1.1,1.8" stroke="#2f5fa8" stroke-width="1.03"/><circle cx="392.5" cy="633.2" r="0.75" fill="#2f5fa8"/><path d="M384.9,629.9 l2.7,0.9" stroke="#2f5fa8" stroke-width="1.01"/><path d="M406.4,625.2 l-2.3,1.5" stroke="#ffffff" stroke-width="0.84"/><circle cx="388.6" cy="620.3" r="1.63" fill="#222222"/><circle cx="388.8" cy="641.6" r="0.96" fill="#1a2a48"/><circle cx="394.8" cy="623.6" r="0.80" fill="#ffffff"/><circle cx="396.7" cy="626.8" r="0.95" fill="#6a86b0"/><path d="M388.0,625.6 l0.7,2.7" stroke="#e8d490" stroke-width="0.63"/><path d="M414.2,638.1 l2.5,0.8" stroke="#e8d490" stroke-width="1.22"/><circle cx="382.0" cy="633.8" r="0.76" fill="#e8d490"/><path d="M402.3,627.2 l3.4,2.0" stroke="#222222" stroke-width="1.21"/><path d="M390.5,624.1 l3.0,1.7" stroke="#e8d490" stroke-width="1.27"/><circle cx="394.5" cy="620.4" r="0.90" fill="#222222"/><circle cx="409.8" cy="642.2" r="0.91" fill="#6a86b0"/><path d="M397.5,650.6 l2.2,2.8" stroke="#2f5fa8" stroke-width="0.72"/><path d="M390.4,632.6 l-0.7,3.5" stroke="#2f5fa8" stroke-width="1.24"/><circle cx="408.1" cy="627.1" r="0.80" fill="#1a2a48"/><path d="M387.7,643.3 l1.8,2.9" stroke="#2f5fa8" stroke-width="0.57"/><circle cx="390.9" cy="640.7" r="1.55" fill="#e8d490"/><path d="M395.1,630.2 l0.7,2.9" stroke="#e8d490" stroke-width="1.23"/><circle cx="396.5" cy="635.9" r="1.06" fill="#e8d490"/><path d="M391.3,636.3 l-4.0,0.7" stroke="#6a86b0" stroke-width="0.61"/><circle cx="408.1" cy="642.0" r="1.45" fill="#e8d490"/><path d="M389.9,637.8 l1.7,0.4" stroke="#2f5fa8" stroke-width="0.68"/><circle cx="415.8" cy="631.9" r="1.17" fill="#1a2a48"/><path d="M399.4,616.3 l-0.0,4.0" stroke="#2f5fa8" stroke-width="1.23"/><path d="M386.6,642.3 l-0.3,2.5" stroke="#e8d490" stroke-width="1.16"/><circle cx="399.5" cy="615.0" r="0.98" fill="#6a86b0"/><path d="M385.9,623.6 l-3.0,2.7" stroke="#2f5fa8" stroke-width="0.70"/><circle cx="406.9" cy="624.4" r="1.57" fill="#e8d490"/><circle cx="404.0" cy="631.1" r="0.73" fill="#1a2a48"/><circle cx="416.9" cy="627.6" r="0.85" fill="#1a2a48"/><circle cx="389.2" cy="636.5" r="0.85" fill="#6a86b0"/><path d="M401.1,628.2 l0.0,1.8" stroke="#e8d490" stroke-width="1.18"/><path d="M400.2,645.6 l-0.6,2.5" stroke="#ffffff" stroke-width="0.90"/><circle cx="381.0" cy="632.2" r="1.55" fill="#6a86b0"/><circle cx="393.2" cy="618.6" r="1.08" fill="#1a2a48"/><circle cx="406.0" cy="647.0" r="0.79" fill="#222222"/><path d="M392.9,620.4 l1.3,2.7" stroke="#6a86b0" stroke-width="0.61"/><circle cx="404.6" cy="638.0" r="1.55" fill="#2f5fa8"/><path d="M420.7,628.3 l-1.8,3.6" stroke="#6a86b0" stroke-width="0.86"/><circle cx="396.3" cy="619.7" r="1.66" fill="#2f5fa8"/><path d="M390.8,645.7 l1.5,2.1" stroke="#2f5fa8" stroke-width="1.12"/><circle cx="397.7" cy="640.4" r="1.03" fill="#b03030"/><path d="M391.5,623.0 l-0.4,3.2" stroke="#1a2a48" stroke-width="0.87"/><circle cx="405.5" cy="643.6" r="1.24" fill="#1a2a48"/><circle cx="406.5" cy="646.1" r="1.09" fill="#2f5fa8"/><path d="M394.1,648.9 l-3.6,0.5" stroke="#2f5fa8" stroke-width="0.79"/><path d="M397.8,619.2 l0.8,3.3" stroke="#222222" stroke-width="0.83"/><circle cx="403.9" cy="650.4" r="0.71" fill="#e8d490"/><circle cx="421.6" cy="630.3" r="1.50" fill="#1a2a48"/><path d="M396.5,620.2 l1.9,0.2" stroke="#1a2a48" stroke-width="1.11"/><path d="M414.5,636.3 l-1.7,2.8" stroke="#1a2a48" stroke-width="1.08"/><circle cx="375.6" cy="631.6" r="1.42" fill="#6a86b0"/><path d="M420.1,626.7 l1.8,0.2" stroke="#1a2a48" stroke-width="0.65"/><circle cx="400.5" cy="618.6" r="1.40" fill="#2f5fa8"/><path d="M417.2,624.5 l2.6,1.9" stroke="#6a86b0" stroke-width="1.21"/><circle cx="398.2" cy="640.4" r="1.59" fill="#2f5fa8"/><path d="M391.4,635.0 l-1.3,3.1" stroke="#ffffff" stroke-width="0.75"/><path d="M385.6,635.8 l3.8,1.6" stroke="#e8d490" stroke-width="1.05"/><circle cx="394.4" cy="643.7" r="1.21" fill="#f4ecc8"/><path d="M395.1,613.4 l-2.1,0.3" stroke="#1a2a48" stroke-width="1.03"/><path d="M400.6,652.1 l1.3,3.6" stroke="#6a86b0" stroke-width="0.60"/><circle cx="391.5" cy="629.2" r="0.96" fill="#e8d490"/><path d="M415.4,636.8 l0.6,4.1" stroke="#e8d490" stroke-width="0.81"/><circle cx="404.2" cy="634.8" r="1.55" fill="#ffffff"/><path d="M390.1,637.4 l0.4,3.7" stroke="#2f5fa8" stroke-width="1.18"/><circle cx="397.4" cy="636.1" r="0.92" fill="#1a2a48"/><circle cx="407.2" cy="624.2" r="1.43" fill="#e8d490"/><path d="M386.9,637.9 l1.9,3.0" stroke="#e8d490" stroke-width="0.97"/><path d="M392.7,643.9 l0.3,4.0" stroke="#1a2a48" stroke-width="1.29"/><path d="M401.2,609.1 l-3.1,0.7" stroke="#f4ecc8" stroke-width="0.71"/><path d="M396.9,609.1 l1.7,2.7" stroke="#2f5fa8" stroke-width="1.22"/><path d="M387.6,633.8 l-0.6,2.4" stroke="#6a86b0" stroke-width="0.74"/><circle cx="402.8" cy="652.9" r="1.53" fill="#1a2a48"/><circle cx="409.6" cy="633.3" r="1.11" fill="#e8d490"/><circle cx="386.7" cy="641.8" r="1.33" fill="#e8d490"/><circle cx="386.6" cy="626.2" r="0.68" fill="#2f5fa8"/><path d="M404.5,625.8 l-1.4,1.4" stroke="#222222" stroke-width="0.51"/><circle cx="392.9" cy="648.5" r="0.88" fill="#2f5fa8"/><circle cx="390.6" cy="616.4" r="1.13" fill="#e8d490"/><circle cx="411.9" cy="629.0" r="0.96" fill="#e8d490"/><path d="M394.1,650.3 l0.7,2.4" stroke="#f4ecc8" stroke-width="1.26"/><circle cx="415.4" cy="628.6" r="1.39" fill="#6a86b0"/><circle cx="409.5" cy="615.9" r="1.46" fill="#e8d490"/><path d="M404.9,618.9 l2.3,2.0" stroke="#1a2a48" stroke-width="0.53"/><circle cx="395.9" cy="616.2" r="1.11" fill="#2f5fa8"/><circle cx="398.7" cy="615.3" r="1.55" fill="#6a86b0"/><path d="M411.1,640.3 l-2.8,2.9" stroke="#6a86b0" stroke-width="0.73"/><circle cx="386.5" cy="634.4" r="1.01" fill="#e8d490"/><circle cx="381.7" cy="624.6" r="1.62" fill="#2f5fa8"/><circle cx="386.3" cy="636.2" r="0.79" fill="#1a2a48"/><circle cx="415.4" cy="637.8" r="1.45" fill="#e8d490"/><path d="M396.3,644.3 l-2.3,0.1" stroke="#2f5fa8" stroke-width="1.25"/><path d="M388.1,622.8 l-3.7,1.4" stroke="#e8d490" stroke-width="0.67"/><circle cx="382.9" cy="628.1" r="1.49" fill="#2f5fa8"/><circle cx="395.1" cy="645.4" r="0.84" fill="#f4ecc8"/><circle cx="397.9" cy="650.3" r="0.78" fill="#f4ecc8"/><path d="M403.5,633.1 l-0.0,4.0" stroke="#2f5fa8" stroke-width="1.05"/><circle cx="395.3" cy="632.0" r="1.13" fill="#2f5fa8"/><circle cx="393.9" cy="637.0" r="1.61" fill="#1a2a48"/><circle cx="398.9" cy="628.4" r="0.69" fill="#1a2a48"/><circle cx="400.2" cy="634.7" r="1.54" fill="#f4ecc8"/><path d="M384.7,623.4 l-2.0,2.1" stroke="#e8d490" stroke-width="1.04"/><path d="M416.8,636.4 l3.5,0.4" stroke="#ffffff" stroke-width="0.86"/><path d="M402.7,643.0 l-1.5,1.5" stroke="#222222" stroke-width="0.70"/><path d="M406.3,622.1 l1.9,3.5" stroke="#2f5fa8" stroke-width="0.67"/><path d="M402.8,651.0 l-0.8,2.9" stroke="#222222" stroke-width="1.25"/><circle cx="382.6" cy="633.7" r="1.44" fill="#f4ecc8"/><circle cx="406.4" cy="647.4" r="1.32" fill="#f4ecc8"/><path d="M378.9,631.9 l-2.2,1.0" stroke="#1a2a48" stroke-width="0.63"/><path d="M400.6,645.4 l-2.3,3.1" stroke="#f4ecc8" stroke-width="1.27"/><path d="M380.5,629.5 l-2.4,1.3" stroke="#1a2a48" stroke-width="0.96"/><path d="M388.4,625.2 l1.3,2.4" stroke="#1a2a48" stroke-width="0.62"/><circle cx="389.8" cy="622.0" r="0.99" fill="#e8d490"/><circle cx="392.4" cy="623.8" r="1.38" fill="#6a86b0"/><path d="M408.5,635.8 l1.0,1.4" stroke="#ffffff" stroke-width="1.03"/><circle cx="393.6" cy="649.8" r="1.11" fill="#6a86b0"/><path d="M418.7,628.3 l0.9,1.9" stroke="#2f5fa8" stroke-width="0.63"/><path d="M406.7,632.1 l2.4,1.5" stroke="#2f5fa8" stroke-width="0.91"/><path d="M407.4,635.3 l1.8,1.4" stroke="#6a86b0" stroke-width="0.78"/><path d="M402.2,625.5 l3.3,0.0" stroke="#f4ecc8" stroke-width="0.69"/><path d="M405.8,645.3 l-1.1,1.2" stroke="#f4ecc8" stroke-width="0.93"/><circle cx="407.4" cy="614.3" r="1.57" fill="#1a2a48"/><path d="M410.3,617.4 l1.3,1.2" stroke="#e8d490" stroke-width="0.79"/><circle cx="394.1" cy="618.3" r="1.21" fill="#f4ecc8"/><path d="M404.4,634.8 l0.9,2.8" stroke="#6a86b0" stroke-width="0.57"/><path d="M392.4,642.7 l2.5,0.7" stroke="#1a2a48" stroke-width="0.55"/><circle cx="403.4" cy="610.2" r="1.20" fill="#e8d490"/><circle cx="410.4" cy="620.9" r="1.39" fill="#e8d490"/><circle cx="392.8" cy="630.3" r="0.77" fill="#222222"/><path d="M406.8,642.0 l2.0,3.6" stroke="#1a2a48" stroke-width="1.00"/><circle cx="399.6" cy="628.7" r="1.18" fill="#2f5fa8"/><path d="M400.1,637.2 l0.2,2.2" stroke="#1a2a48" stroke-width="1.17"/><path d="M390.6,638.4 l-1.8,0.7" stroke="#2f5fa8" stroke-width="1.00"/><path d="M400.8,635.6 l-2.2,1.4" stroke="#6a86b0" stroke-width="1.30"/><circle cx="393.3" cy="612.6" r="0.98" fill="#b03030"/><circle cx="387.7" cy="633.6" r="0.82" fill="#6a86b0"/><path d="M402.4,611.2 l-3.2,2.6" stroke="#222222" stroke-width="0.84"/><circle cx="411.5" cy="639.9" r="1.30" fill="#e8d490"/><circle cx="416.2" cy="634.4" r="1.58" fill="#222222"/><circle cx="381.1" cy="634.1" r="1.54" fill="#f4ecc8"/><path d="M405.1,641.8 l2.1,0.7" stroke="#1a2a48" stroke-width="0.55"/><path d="M403.1,628.8 l3.6,0.1" stroke="#1a2a48" stroke-width="0.93"/><circle cx="403.6" cy="637.2" r="1.66" fill="#e8d490"/><path d="M389.8,633.0 l1.1,2.5" stroke="#2f5fa8" stroke-width="1.17"/><circle cx="404.3" cy="651.4" r="0.98" fill="#2f5fa8"/><circle cx="385.5" cy="631.5" r="1.27" fill="#2f5fa8"/><circle cx="408.6" cy="627.5" r="0.64" fill="#2f5fa8"/><path d="M393.5,619.7 l-2.1,2.5" stroke="#f4ecc8" stroke-width="0.75"/><circle cx="383.1" cy="635.3" r="1.57" fill="#222222"/><circle cx="385.0" cy="626.1" r="1.21" fill="#1a2a48"/><path d="M413.2,632.2 l-2.8,1.8" stroke="#e8d490" stroke-width="0.62"/><path d="M407.5,640.1 l2.7,1.8" stroke="#2f5fa8" stroke-width="1.32"/><path d="M403.3,612.0 l2.6,0.4" stroke="#1a2a48" stroke-width="1.00"/><path d="M397.1,647.4 l-1.8,0.9" stroke="#1a2a48" stroke-width="1.22"/><path d="M385.8,629.9 l1.6,1.7" stroke="#6a86b0" stroke-width="1.24"/><path d="M383.8,629.4 l0.5,4.0" stroke="#1a2a48" stroke-width="0.66"/><circle cx="390.6" cy="643.4" r="1.26" fill="#6a86b0"/><circle cx="413.1" cy="627.0" r="0.79" fill="#2f5fa8"/><circle cx="401.5" cy="648.2" r="1.04" fill="#e8d490"/><path d="M404.9,616.4 l-1.6,0.4" stroke="#2f5fa8" stroke-width="0.97"/><circle cx="405.2" cy="616.6" r="1.08" fill="#6a86b0"/><path d="M391.0,617.1 l-2.8,2.3" stroke="#222222" stroke-width="0.56"/><circle cx="390.4" cy="624.7" r="1.25" fill="#f4ecc8"/><path d="M382.5,637.6 l-2.6,1.6" stroke="#1a2a48" stroke-width="0.78"/><path d="M391.4,632.8 l1.1,2.5" stroke="#e8d490" stroke-width="0.95"/><path d="M404.2,616.4 l-0.8,1.7" stroke="#6a86b0" stroke-width="0.52"/><circle cx="395.7" cy="620.9" r="0.87" fill="#2f5fa8"/></g>
<path d="M523.9,658.0 V681.0 Q524.4,686.5 544.1,686.5 Q563.8,686.5 564.3,681.0 V658.0 Z" fill="url(#liq)"/>
<ellipse cx="544.1" cy="658.0" rx="20.2" ry="5.6" fill="url(#surf)"/>
<g opacity="0.7"><circle cx="553.5" cy="677.5" r="0.45" fill="#8aa0b0"/><circle cx="535.2" cy="675.3" r="0.45" fill="#8aa0b0"/><circle cx="560.8" cy="680.1" r="0.45" fill="#8aa0b0"/><circle cx="536.6" cy="675.9" r="0.45" fill="#8aa0b0"/><circle cx="553.0" cy="674.1" r="0.45" fill="#8aa0b0"/><circle cx="538.6" cy="679.8" r="0.45" fill="#8aa0b0"/><circle cx="536.2" cy="676.4" r="0.45" fill="#8aa0b0"/><circle cx="538.2" cy="678.5" r="0.45" fill="#8aa0b0"/><circle cx="535.9" cy="675.5" r="0.45" fill="#8aa0b0"/><circle cx="536.7" cy="675.3" r="0.45" fill="#8aa0b0"/><circle cx="555.4" cy="674.6" r="0.45" fill="#8aa0b0"/><circle cx="545.1" cy="681.7" r="0.45" fill="#8aa0b0"/><circle cx="553.0" cy="676.3" r="0.45" fill="#8aa0b0"/><circle cx="544.5" cy="676.7" r="0.45" fill="#8aa0b0"/><circle cx="545.4" cy="678.9" r="0.45" fill="#8aa0b0"/><circle cx="545.9" cy="679.5" r="0.45" fill="#8aa0b0"/><circle cx="537.6" cy="678.2" r="0.45" fill="#8aa0b0"/><circle cx="547.5" cy="679.8" r="0.45" fill="#8aa0b0"/><circle cx="540.0" cy="675.7" r="0.45" fill="#8aa0b0"/><circle cx="531.4" cy="679.2" r="0.45" fill="#8aa0b0"/><circle cx="555.4" cy="677.6" r="0.45" fill="#8aa0b0"/><circle cx="560.4" cy="674.3" r="0.45" fill="#8aa0b0"/><circle cx="537.5" cy="674.7" r="0.45" fill="#8aa0b0"/><circle cx="548.3" cy="679.2" r="0.45" fill="#8aa0b0"/><circle cx="536.0" cy="674.7" r="0.45" fill="#8aa0b0"/><circle cx="528.4" cy="681.7" r="0.45" fill="#8aa0b0"/><circle cx="532.7" cy="678.1" r="0.45" fill="#8aa0b0"/><circle cx="552.7" cy="674.7" r="0.45" fill="#8aa0b0"/><circle cx="551.5" cy="678.5" r="0.45" fill="#8aa0b0"/><circle cx="529.7" cy="682.8" r="0.45" fill="#8aa0b0"/><circle cx="555.6" cy="676.0" r="0.45" fill="#8aa0b0"/><circle cx="555.2" cy="675.4" r="0.45" fill="#8aa0b0"/><circle cx="538.1" cy="678.7" r="0.45" fill="#8aa0b0"/><circle cx="558.7" cy="680.8" r="0.45" fill="#8aa0b0"/><circle cx="559.0" cy="679.2" r="0.45" fill="#8aa0b0"/><circle cx="536.7" cy="678.9" r="0.45" fill="#8aa0b0"/><circle cx="550.3" cy="675.3" r="0.45" fill="#8aa0b0"/><circle cx="545.3" cy="680.7" r="0.45" fill="#8aa0b0"/><circle cx="535.0" cy="680.9" r="0.45" fill="#8aa0b0"/><circle cx="548.1" cy="679.9" r="0.45" fill="#8aa0b0"/><circle cx="556.9" cy="681.6" r="0.45" fill="#8aa0b0"/><circle cx="550.0" cy="674.4" r="0.45" fill="#8aa0b0"/><circle cx="539.0" cy="682.4" r="0.45" fill="#8aa0b0"/><circle cx="543.5" cy="674.3" r="0.45" fill="#8aa0b0"/><circle cx="530.3" cy="682.9" r="0.45" fill="#8aa0b0"/><circle cx="556.1" cy="680.1" r="0.45" fill="#8aa0b0"/><circle cx="551.9" cy="681.2" r="0.45" fill="#8aa0b0"/><circle cx="550.1" cy="678.6" r="0.45" fill="#8aa0b0"/><circle cx="558.4" cy="676.7" r="0.45" fill="#8aa0b0"/><circle cx="546.5" cy="675.2" r="0.45" fill="#8aa0b0"/><circle cx="542.9" cy="680.5" r="0.45" fill="#8aa0b0"/><circle cx="552.4" cy="676.4" r="0.45" fill="#8aa0b0"/><circle cx="532.7" cy="677.8" r="0.45" fill="#8aa0b0"/><circle cx="540.0" cy="676.5" r="0.45" fill="#8aa0b0"/><circle cx="543.1" cy="674.3" r="0.45" fill="#8aa0b0"/><circle cx="550.4" cy="682.8" r="0.45" fill="#8aa0b0"/><circle cx="544.3" cy="678.2" r="0.45" fill="#8aa0b0"/><circle cx="532.7" cy="681.6" r="0.45" fill="#8aa0b0"/><circle cx="548.5" cy="675.2" r="0.45" fill="#8aa0b0"/><circle cx="552.4" cy="682.6" r="0.45" fill="#8aa0b0"/><circle cx="535.4" cy="680.0" r="0.45" fill="#8aa0b0"/><circle cx="556.8" cy="675.8" r="0.45" fill="#8aa0b0"/><circle cx="550.9" cy="682.6" r="0.45" fill="#8aa0b0"/><circle cx="533.5" cy="674.7" r="0.45" fill="#8aa0b0"/><circle cx="549.7" cy="680.4" r="0.45" fill="#8aa0b0"/><circle cx="542.3" cy="677.4" r="0.45" fill="#8aa0b0"/><circle cx="550.7" cy="679.2" r="0.45" fill="#8aa0b0"/><circle cx="548.6" cy="680.8" r="0.45" fill="#8aa0b0"/><circle cx="541.4" cy="677.9" r="0.45" fill="#8aa0b0"/><circle cx="534.6" cy="675.2" r="0.45" fill="#8aa0b0"/></g>
<path d="M543.8,648.0 L550.8,655.6 L543.8,663.2 L536.8,655.6 Z" fill="url(#cssg2)"/>
<g opacity="0.85"><path d="M538.6,655.6 l-0.8,0.2" stroke="#f4ecc8" stroke-width="0.25"/><path d="M545.5,653.6 l1.6,0.7" stroke="#e8d490" stroke-width="0.51"/><circle cx="546.2" cy="655.8" r="0.57" fill="#6a86b0"/><circle cx="539.7" cy="656.4" r="0.48" fill="#e8d490"/><path d="M543.3,652.2 l1.4,0.7" stroke="#1a2a48" stroke-width="0.60"/><circle cx="539.6" cy="653.3" r="0.75" fill="#e8d490"/><circle cx="543.2" cy="658.5" r="0.32" fill="#1a2a48"/><path d="M545.0,652.7 l1.8,0.1" stroke="#2f5fa8" stroke-width="0.28"/><path d="M543.3,650.0 l-0.6,1.8" stroke="#6a86b0" stroke-width="0.32"/><path d="M547.0,655.5 l1.4,1.4" stroke="#6a86b0" stroke-width="0.33"/><path d="M542.9,652.8 l0.3,1.0" stroke="#6a86b0" stroke-width="0.26"/><circle cx="544.4" cy="658.0" r="0.69" fill="#f4ecc8"/><circle cx="538.9" cy="657.5" r="0.52" fill="#1a2a48"/><path d="M549.0,657.7 l-0.4,1.0" stroke="#1a2a48" stroke-width="0.44"/><path d="M544.6,657.7 l1.0,0.5" stroke="#2f5fa8" stroke-width="0.50"/><circle cx="543.3" cy="648.8" r="0.66" fill="#6a86b0"/><path d="M547.4,652.1 l0.5,1.3" stroke="#6a86b0" stroke-width="0.34"/><circle cx="540.8" cy="657.2" r="0.42" fill="#f4ecc8"/><path d="M541.8,659.1 l-0.3,1.6" stroke="#2f5fa8" stroke-width="0.56"/><path d="M544.1,651.9 l-0.1,0.8" stroke="#ffffff" stroke-width="0.28"/><path d="M547.8,657.7 l-0.5,1.1" stroke="#222222" stroke-width="0.54"/><circle cx="547.3" cy="653.9" r="0.74" fill="#1a2a48"/><circle cx="547.2" cy="656.5" r="0.52" fill="#6a86b0"/><circle cx="537.7" cy="656.4" r="0.65" fill="#6a86b0"/><path d="M543.7,661.4 l1.5,0.4" stroke="#1a2a48" stroke-width="0.59"/><circle cx="543.2" cy="654.5" r="0.37" fill="#6a86b0"/><circle cx="542.6" cy="656.0" r="0.37" fill="#e8d490"/><circle cx="544.3" cy="649.9" r="0.40" fill="#2f5fa8"/><circle cx="544.4" cy="652.4" r="0.73" fill="#2f5fa8"/><path d="M542.9,654.2 l1.1,0.6" stroke="#6a86b0" stroke-width="0.63"/><path d="M543.9,649.1 l-1.0,1.1" stroke="#1a2a48" stroke-width="0.33"/><circle cx="543.1" cy="661.3" r="0.48" fill="#222222"/><path d="M547.2,653.6 l-0.9,1.5" stroke="#1a2a48" stroke-width="0.47"/><circle cx="549.6" cy="654.8" r="0.75" fill="#1a2a48"/><circle cx="546.2" cy="653.7" r="0.45" fill="#1a2a48"/><circle cx="541.3" cy="658.5" r="0.52" fill="#e8d490"/><path d="M539.1,655.4 l0.5,0.8" stroke="#1a2a48" stroke-width="0.61"/><path d="M545.1,654.1 l-0.4,1.4" stroke="#1a2a48" stroke-width="0.25"/><path d="M543.5,656.0 l-0.9,0.6" stroke="#2f5fa8" stroke-width="0.40"/><path d="M537.2,655.1 l-0.5,0.8" stroke="#6a86b0" stroke-width="0.41"/><path d="M544.2,661.1 l1.5,0.1" stroke="#2f5fa8" stroke-width="0.55"/><circle cx="538.6" cy="653.7" r="0.58" fill="#2f5fa8"/><path d="M541.9,650.8 l0.7,1.0" stroke="#e8d490" stroke-width="0.24"/><circle cx="537.5" cy="656.4" r="0.67" fill="#f4ecc8"/><circle cx="541.8" cy="658.0" r="0.41" fill="#e8d490"/><circle cx="539.6" cy="654.3" r="0.52" fill="#f4ecc8"/><path d="M540.3,659.0 l-0.9,0.6" stroke="#f4ecc8" stroke-width="0.40"/><path d="M539.8,652.7 l1.2,0.4" stroke="#e8d490" stroke-width="0.36"/><path d="M540.6,658.3 l-1.1,1.4" stroke="#b03030" stroke-width="0.36"/><circle cx="545.4" cy="650.7" r="0.68" fill="#1a2a48"/><circle cx="542.7" cy="650.1" r="0.65" fill="#222222"/><path d="M546.3,653.9 l-1.2,1.5" stroke="#2f5fa8" stroke-width="0.47"/><path d="M548.7,653.9 l-0.7,0.5" stroke="#2f5fa8" stroke-width="0.61"/><path d="M543.1,655.8 l-0.6,1.4" stroke="#6a86b0" stroke-width="0.59"/><circle cx="539.4" cy="656.0" r="0.62" fill="#2f5fa8"/><circle cx="544.0" cy="653.0" r="0.49" fill="#e8d490"/><circle cx="543.3" cy="655.2" r="0.43" fill="#2f5fa8"/><path d="M547.6,656.6 l-0.4,0.9" stroke="#6a86b0" stroke-width="0.53"/></g>
<path d="M536.5,661.8 L545.0,671.0 L536.5,680.2 L528.0,671.0 Z" fill="url(#cssg2)"/>
<g opacity="0.85"><circle cx="533.9" cy="666.1" r="0.36" fill="#f4ecc8"/><path d="M537.2,663.8 l0.2,1.9" stroke="#2f5fa8" stroke-width="0.41"/><circle cx="534.9" cy="665.8" r="0.63" fill="#6a86b0"/><circle cx="538.2" cy="669.5" r="0.39" fill="#2f5fa8"/><circle cx="538.2" cy="674.9" r="0.58" fill="#e8d490"/><path d="M532.8,665.9 l-1.4,1.0" stroke="#222222" stroke-width="0.62"/><circle cx="543.3" cy="671.0" r="0.64" fill="#e8d490"/><path d="M535.4,667.2 l0.5,1.6" stroke="#222222" stroke-width="0.57"/><circle cx="533.3" cy="674.5" r="0.74" fill="#1a2a48"/><circle cx="541.3" cy="673.0" r="0.40" fill="#e8d490"/><circle cx="530.5" cy="671.4" r="0.35" fill="#1a2a48"/><circle cx="543.1" cy="670.3" r="0.73" fill="#6a86b0"/><path d="M541.2,667.2 l1.6,0.4" stroke="#1a2a48" stroke-width="0.32"/><path d="M540.3,676.1 l-0.6,0.9" stroke="#f4ecc8" stroke-width="0.44"/><path d="M539.8,669.3 l-1.2,0.6" stroke="#1a2a48" stroke-width="0.57"/><circle cx="530.6" cy="669.3" r="0.44" fill="#2f5fa8"/><path d="M543.0,669.8 l-1.1,0.4" stroke="#6a86b0" stroke-width="0.41"/><path d="M537.3,672.2 l1.6,0.0" stroke="#1a2a48" stroke-width="0.28"/><path d="M537.8,668.1 l-0.7,0.4" stroke="#2f5fa8" stroke-width="0.26"/><path d="M539.1,674.5 l-0.2,1.2" stroke="#1a2a48" stroke-width="0.36"/><circle cx="538.4" cy="670.6" r="0.59" fill="#e8d490"/><circle cx="531.4" cy="672.9" r="0.72" fill="#2f5fa8"/><path d="M533.6,665.5 l0.4,1.8" stroke="#2f5fa8" stroke-width="0.62"/><circle cx="532.8" cy="667.2" r="0.74" fill="#6a86b0"/><circle cx="538.5" cy="676.0" r="0.47" fill="#1a2a48"/><circle cx="535.7" cy="670.9" r="0.41" fill="#6a86b0"/><path d="M535.2,678.6 l-0.1,0.9" stroke="#2f5fa8" stroke-width="0.25"/><circle cx="530.3" cy="672.1" r="0.34" fill="#f4ecc8"/><circle cx="540.7" cy="674.3" r="0.70" fill="#e8d490"/><path d="M532.9,666.2 l-1.6,0.3" stroke="#ffffff" stroke-width="0.43"/><circle cx="540.3" cy="674.8" r="0.45" fill="#e8d490"/><circle cx="530.8" cy="669.0" r="0.66" fill="#f4ecc8"/><circle cx="543.5" cy="672.7" r="0.32" fill="#2f5fa8"/><path d="M533.5,669.7 l0.1,1.6" stroke="#e8d490" stroke-width="0.40"/><path d="M535.1,672.9 l-1.1,0.4" stroke="#2f5fa8" stroke-width="0.63"/><path d="M537.6,667.4 l-0.1,1.4" stroke="#2f5fa8" stroke-width="0.29"/><circle cx="536.0" cy="677.8" r="0.69" fill="#1a2a48"/><circle cx="536.2" cy="678.8" r="0.66" fill="#2f5fa8"/><path d="M534.6,676.1 l-1.7,0.2" stroke="#1a2a48" stroke-width="0.36"/><path d="M530.3,669.0 l-1.0,0.2" stroke="#222222" stroke-width="0.35"/><circle cx="538.0" cy="666.6" r="0.68" fill="#222222"/><path d="M532.6,672.7 l-0.7,1.6" stroke="#1a2a48" stroke-width="0.29"/><circle cx="543.8" cy="671.4" r="0.46" fill="#f4ecc8"/></g>
<path d="M556.3,661.0 L563.3,668.6 L556.3,676.2 L549.3,668.6 Z" fill="url(#cssg2)"/>
<g opacity="0.85"><circle cx="550.5" cy="667.7" r="0.50" fill="#6a86b0"/><circle cx="556.3" cy="664.8" r="0.79" fill="#6a86b0"/><circle cx="552.4" cy="669.4" r="0.58" fill="#6a86b0"/><circle cx="555.7" cy="672.1" r="0.36" fill="#e8d490"/><circle cx="559.8" cy="672.3" r="0.76" fill="#e8d490"/><circle cx="561.5" cy="666.7" r="0.56" fill="#2f5fa8"/><path d="M551.5,669.5 l0.6,1.9" stroke="#2f5fa8" stroke-width="0.24"/><path d="M562.0,670.1 l0.8,1.3" stroke="#1a2a48" stroke-width="0.56"/><path d="M555.3,668.0 l-1.5,0.9" stroke="#2f5fa8" stroke-width="0.25"/><circle cx="550.4" cy="669.4" r="0.50" fill="#2f5fa8"/><path d="M560.6,668.7 l-1.3,1.1" stroke="#e8d490" stroke-width="0.61"/><path d="M559.6,667.9 l-1.0,0.9" stroke="#f4ecc8" stroke-width="0.57"/><path d="M556.8,668.1 l1.5,0.9" stroke="#2f5fa8" stroke-width="0.54"/><circle cx="554.9" cy="669.8" r="0.62" fill="#ffffff"/><circle cx="553.3" cy="671.8" r="0.65" fill="#222222"/><circle cx="553.8" cy="665.8" r="0.54" fill="#2f5fa8"/><circle cx="555.8" cy="663.7" r="0.43" fill="#e8d490"/><circle cx="555.4" cy="669.9" r="0.51" fill="#e8d490"/><path d="M553.3,668.5 l1.1,0.1" stroke="#1a2a48" stroke-width="0.41"/><circle cx="562.3" cy="669.1" r="0.36" fill="#2f5fa8"/><circle cx="558.2" cy="670.9" r="0.30" fill="#e8d490"/><path d="M555.3,675.1 l0.8,1.3" stroke="#ffffff" stroke-width="0.49"/><circle cx="561.5" cy="667.4" r="0.60" fill="#2f5fa8"/><path d="M552.0,670.0 l-1.7,0.3" stroke="#f4ecc8" stroke-width="0.43"/><circle cx="552.9" cy="667.4" r="0.47" fill="#1a2a48"/><circle cx="560.7" cy="665.9" r="0.67" fill="#e8d490"/><path d="M557.4,673.3 l1.0,0.4" stroke="#222222" stroke-width="0.60"/><circle cx="560.5" cy="665.8" r="0.60" fill="#6a86b0"/><path d="M556.8,664.7 l1.1,0.6" stroke="#2f5fa8" stroke-width="0.39"/><path d="M550.5,668.6 l-0.3,1.4" stroke="#e8d490" stroke-width="0.40"/><path d="M556.3,671.7 l0.8,0.6" stroke="#1a2a48" stroke-width="0.45"/><path d="M552.7,672.2 l-0.1,1.7" stroke="#6a86b0" stroke-width="0.59"/><path d="M557.2,674.1 l-0.1,1.2" stroke="#1a2a48" stroke-width="0.52"/><circle cx="555.6" cy="672.6" r="0.32" fill="#1a2a48"/><circle cx="556.1" cy="667.3" r="0.55" fill="#1a2a48"/><path d="M561.8,666.9 l-1.1,1.4" stroke="#1a2a48" stroke-width="0.54"/><path d="M553.0,666.9 l-0.8,0.4" stroke="#6a86b0" stroke-width="0.41"/><circle cx="556.4" cy="664.2" r="0.55" fill="#2f5fa8"/><circle cx="554.8" cy="663.1" r="0.73" fill="#6a86b0"/><path d="M558.1,665.0 l0.2,1.7" stroke="#e8d490" stroke-width="0.46"/><path d="M558.2,663.0 l-0.8,1.2" stroke="#1a2a48" stroke-width="0.52"/><circle cx="554.7" cy="667.4" r="0.35" fill="#e8d490"/><circle cx="555.2" cy="671.1" r="0.74" fill="#1a2a48"/><path d="M561.6,668.0 l-1.9,0.3" stroke="#2f5fa8" stroke-width="0.57"/><path d="M560.3,671.7 l0.7,0.8" stroke="#2f5fa8" stroke-width="0.53"/><path d="M550.1,668.1 l-1.1,0.9" stroke="#1a2a48" stroke-width="0.63"/><circle cx="551.0" cy="667.9" r="0.45" fill="#1a2a48"/><path d="M555.3,674.6 l0.1,1.2" stroke="#2f5fa8" stroke-width="0.29"/><circle cx="552.7" cy="668.1" r="0.65" fill="#e8d490"/><circle cx="558.4" cy="667.2" r="0.62" fill="#2f5fa8"/><circle cx="556.6" cy="665.8" r="0.79" fill="#f4ecc8"/><path d="M554.7,663.7 l0.1,0.9" stroke="#2f5fa8" stroke-width="0.26"/><path d="M556.8,665.8 l1.6,0.0" stroke="#222222" stroke-width="0.58"/><circle cx="555.8" cy="672.1" r="0.35" fill="#f4ecc8"/><circle cx="556.0" cy="674.8" r="0.75" fill="#2f5fa8"/><circle cx="558.8" cy="669.8" r="0.62" fill="#1a2a48"/><path d="M561.4,667.0 l0.8,1.4" stroke="#1a2a48" stroke-width="0.53"/><path d="M560.5,668.3 l-0.9,0.6" stroke="#2f5fa8" stroke-width="0.31"/></g>
<path d="M523.9,658.0 A20.2,5.6 0 0 0 564.3,658.0" fill="none" stroke="#111" stroke-width="1"/>
<path d="M523.4,628.0 V681.0 Q523.9,687.0 544.1,687.0 Q564.3,687.0 564.8,681.0 V625.0" fill="none" stroke="#111" stroke-width="1.3"/>
<path d="M517.4,628.2 Q518.4,625.5 522.4,624.5 Q525.4,619.2 542.1,619.0 Q566.3,619.0 565.4,624.8 Q563.8,629.5 542.1,630.2 Q525.4,630.2 521.9,628.5 Q519.4,627.5 517.4,628.2 Z" fill="#fff" stroke="#111" stroke-width="1.2"/>
<path d="M523.4,627.3 Q542.1,631.5 564.3,626.0" fill="none" stroke="#111" stroke-width="0.9"/>
<path d="M526.4,632.5 Q542.1,636.5 561.8,632.5" fill="none" stroke="#222" stroke-width="0.9"/>
<path d="M397.9,747.4 V770.4 Q398.4,775.9 418.1,775.9 Q437.8,775.9 438.3,770.4 V747.4 Z" fill="url(#liq)"/>
<ellipse cx="418.1" cy="747.4" rx="20.2" ry="5.6" fill="url(#surf)"/>
<g opacity="0.7"><circle cx="401.6" cy="771.8" r="0.45" fill="#8aa0b0"/><circle cx="419.8" cy="770.6" r="0.45" fill="#8aa0b0"/><circle cx="426.6" cy="768.4" r="0.45" fill="#8aa0b0"/><circle cx="420.9" cy="768.0" r="0.45" fill="#8aa0b0"/><circle cx="417.1" cy="769.0" r="0.45" fill="#8aa0b0"/><circle cx="432.8" cy="771.6" r="0.45" fill="#8aa0b0"/><circle cx="431.9" cy="771.4" r="0.45" fill="#8aa0b0"/><circle cx="408.6" cy="765.9" r="0.45" fill="#8aa0b0"/><circle cx="431.5" cy="765.7" r="0.45" fill="#8aa0b0"/><circle cx="409.0" cy="771.6" r="0.45" fill="#8aa0b0"/><circle cx="408.1" cy="764.9" r="0.45" fill="#8aa0b0"/><circle cx="426.6" cy="769.6" r="0.45" fill="#8aa0b0"/><circle cx="434.3" cy="771.2" r="0.45" fill="#8aa0b0"/><circle cx="401.8" cy="772.3" r="0.45" fill="#8aa0b0"/><circle cx="403.1" cy="767.2" r="0.45" fill="#8aa0b0"/><circle cx="413.3" cy="770.4" r="0.45" fill="#8aa0b0"/><circle cx="408.6" cy="769.2" r="0.45" fill="#8aa0b0"/><circle cx="432.1" cy="763.8" r="0.45" fill="#8aa0b0"/><circle cx="416.0" cy="764.4" r="0.45" fill="#8aa0b0"/><circle cx="418.7" cy="767.0" r="0.45" fill="#8aa0b0"/><circle cx="407.8" cy="772.4" r="0.45" fill="#8aa0b0"/><circle cx="416.6" cy="770.1" r="0.45" fill="#8aa0b0"/><circle cx="423.5" cy="765.7" r="0.45" fill="#8aa0b0"/><circle cx="410.6" cy="772.2" r="0.45" fill="#8aa0b0"/><circle cx="429.9" cy="770.9" r="0.45" fill="#8aa0b0"/><circle cx="402.5" cy="771.4" r="0.45" fill="#8aa0b0"/><circle cx="407.7" cy="771.5" r="0.45" fill="#8aa0b0"/><circle cx="427.8" cy="769.8" r="0.45" fill="#8aa0b0"/><circle cx="414.0" cy="763.6" r="0.45" fill="#8aa0b0"/><circle cx="414.0" cy="763.8" r="0.45" fill="#8aa0b0"/><circle cx="426.6" cy="771.8" r="0.45" fill="#8aa0b0"/><circle cx="404.1" cy="769.2" r="0.45" fill="#8aa0b0"/><circle cx="408.0" cy="767.1" r="0.45" fill="#8aa0b0"/><circle cx="423.0" cy="769.1" r="0.45" fill="#8aa0b0"/><circle cx="434.4" cy="766.1" r="0.45" fill="#8aa0b0"/><circle cx="432.8" cy="769.2" r="0.45" fill="#8aa0b0"/><circle cx="412.3" cy="770.9" r="0.45" fill="#8aa0b0"/><circle cx="434.5" cy="767.9" r="0.45" fill="#8aa0b0"/><circle cx="421.9" cy="769.3" r="0.45" fill="#8aa0b0"/><circle cx="424.7" cy="767.0" r="0.45" fill="#8aa0b0"/><circle cx="414.7" cy="767.8" r="0.45" fill="#8aa0b0"/><circle cx="401.8" cy="765.7" r="0.45" fill="#8aa0b0"/><circle cx="430.0" cy="771.2" r="0.45" fill="#8aa0b0"/><circle cx="426.3" cy="771.3" r="0.45" fill="#8aa0b0"/><circle cx="432.4" cy="764.6" r="0.45" fill="#8aa0b0"/><circle cx="430.8" cy="768.4" r="0.45" fill="#8aa0b0"/><circle cx="432.1" cy="766.0" r="0.45" fill="#8aa0b0"/><circle cx="419.3" cy="769.3" r="0.45" fill="#8aa0b0"/><circle cx="405.7" cy="766.2" r="0.45" fill="#8aa0b0"/><circle cx="411.8" cy="766.9" r="0.45" fill="#8aa0b0"/><circle cx="430.0" cy="767.3" r="0.45" fill="#8aa0b0"/><circle cx="412.3" cy="769.7" r="0.45" fill="#8aa0b0"/><circle cx="421.7" cy="763.6" r="0.45" fill="#8aa0b0"/><circle cx="406.1" cy="771.4" r="0.45" fill="#8aa0b0"/><circle cx="434.1" cy="767.5" r="0.45" fill="#8aa0b0"/><circle cx="434.7" cy="769.4" r="0.45" fill="#8aa0b0"/><circle cx="426.2" cy="771.1" r="0.45" fill="#8aa0b0"/><circle cx="426.4" cy="767.6" r="0.45" fill="#8aa0b0"/><circle cx="418.1" cy="764.0" r="0.45" fill="#8aa0b0"/><circle cx="423.3" cy="770.3" r="0.45" fill="#8aa0b0"/><circle cx="410.6" cy="768.3" r="0.45" fill="#8aa0b0"/><circle cx="434.5" cy="765.6" r="0.45" fill="#8aa0b0"/><circle cx="430.6" cy="767.1" r="0.45" fill="#8aa0b0"/><circle cx="409.1" cy="764.1" r="0.45" fill="#8aa0b0"/><circle cx="430.7" cy="771.0" r="0.45" fill="#8aa0b0"/><circle cx="426.2" cy="768.7" r="0.45" fill="#8aa0b0"/><circle cx="421.2" cy="768.1" r="0.45" fill="#8aa0b0"/><circle cx="405.7" cy="765.1" r="0.45" fill="#8aa0b0"/><circle cx="428.8" cy="765.2" r="0.45" fill="#8aa0b0"/><circle cx="426.1" cy="771.4" r="0.45" fill="#8aa0b0"/></g>
<path d="M417.58,740.10 L410.59,747.80 L420.17,748.38 Z" fill="url(#octA)"/>
<path d="M417.58,740.10 L420.17,748.38 L424.27,746.87 Z" fill="#e7a0c6"/>
<path d="M410.59,747.80 L420.17,748.38 L417.50,754.50 Z" fill="url(#octC)"/>
<path d="M420.17,748.38 L424.27,746.87 L417.50,754.50 Z" fill="#b96a93"/>
<path d="M417.58,740.10 L420.17,748.38 L410.59,747.80" fill="none" stroke="#fff" stroke-opacity="0.8" stroke-width="0.60"/>
<path d="M405.01,752.90 L397.64,761.03 L407.74,761.64 Z" fill="url(#octA)"/>
<path d="M405.01,752.90 L407.74,761.64 L412.08,760.04 Z" fill="#e7a0c6"/>
<path d="M397.64,761.03 L407.74,761.64 L404.93,768.10 Z" fill="url(#octC)"/>
<path d="M407.74,761.64 L412.08,760.04 L404.93,768.10 Z" fill="#b96a93"/>
<path d="M405.01,752.90 L407.74,761.64 L397.64,761.03" fill="none" stroke="#fff" stroke-opacity="0.8" stroke-width="0.60"/>
<path d="M427.64,754.00 L421.05,761.28 L430.09,761.82 Z" fill="url(#octA)"/>
<path d="M427.64,754.00 L430.09,761.82 L433.97,760.39 Z" fill="#e7a0c6"/>
<path d="M421.05,761.28 L430.09,761.82 L427.58,767.60 Z" fill="url(#octC)"/>
<path d="M430.09,761.82 L433.97,760.39 L427.58,767.60 Z" fill="#b96a93"/>
<path d="M427.64,754.00 L430.09,761.82 L421.05,761.28" fill="none" stroke="#fff" stroke-opacity="0.8" stroke-width="0.60"/>
<path d="M397.9,747.4 A20.2,5.6 0 0 0 438.3,747.4" fill="none" stroke="#111" stroke-width="1"/>
<path d="M397.4,717.4 V770.4 Q397.9,776.4 418.1,776.4 Q438.3,776.4 438.8,770.4 V714.4" fill="none" stroke="#111" stroke-width="1.3"/>
<path d="M391.4,717.6 Q392.4,714.9 396.4,713.9 Q399.4,708.6 416.1,708.4 Q440.3,708.4 439.4,714.2 Q437.8,718.9 416.1,719.6 Q399.4,719.6 395.9,717.9 Q393.4,716.9 391.4,717.6 Z" fill="#fff" stroke="#111" stroke-width="1.2"/>
<path d="M397.4,716.7 Q416.1,720.9 438.3,715.4" fill="none" stroke="#111" stroke-width="0.9"/>
<path d="M400.4,721.9 Q416.1,725.9 435.8,721.9" fill="none" stroke="#222" stroke-width="0.9"/>
<path d="M612.63,698.30 L588.29,725.16 L621.67,727.16 Z" fill="url(#octA)"/>
<path d="M612.63,698.30 L621.67,727.16 L635.98,721.89 Z" fill="#e7a0c6"/>
<path d="M588.29,725.16 L621.67,727.16 L612.38,748.50 Z" fill="url(#octC)"/>
<path d="M621.67,727.16 L635.98,721.89 L612.38,748.50 Z" fill="#b96a93"/>
<path d="M612.63,698.30 L621.67,727.16 L588.29,725.16" fill="none" stroke="#fff" stroke-opacity="0.8" stroke-width="1.00"/>
<text x="612.9" y="762.7" font-family="Liberation Sans" font-size="13.3" fill="#d57fcb" text-anchor="start" font-weight="normal" >MOF-808</text>
<text x="576.2" y="658.6" font-family="Liberation Sans" font-size="12.85" fill="#000" text-anchor="start" font-weight="normal" >Stable in acid/base</text>
<text x="576.2" y="674.3" font-family="Liberation Sans" font-size="12.85" fill="#000" text-anchor="start" font-weight="normal" >for one week</text>
<text x="455.8" y="706.9" font-family="Liberation Sans" font-size="14.2" fill="#1a1a1a" text-anchor="start" font-weight="normal" textLength="63.6" lengthAdjust="spacingAndGlyphs">Degrade in</text>
<text x="459.0" y="723.2" font-family="Liberation Sans" font-size="14.2" fill="#1a1a1a" text-anchor="start" font-weight="normal" textLength="57.4" lengthAdjust="spacingAndGlyphs">acid/base</text>
<path d="M451,668.7 C449.83,670.55 445.95,676.02 444.00,679.80 C442.05,683.58 440.37,687.90 439.30,691.40 C438.23,694.90 437.78,697.30 437.60,700.80 C437.42,704.30 437.62,708.92 438.20,712.40 C438.78,715.88 439.75,718.78 441.10,721.70 C442.45,724.62 444.27,727.37 446.30,729.90 C448.33,732.43 450.58,734.77 453.30,736.90 C456.02,739.03 459.10,741.15 462.60,742.70 C466.10,744.25 470.42,745.52 474.30,746.20 C478.18,746.88 482.53,746.87 485.90,746.80 C489.27,746.73 493.07,745.97 494.50,745.80 L501.9,751.3 L500.6,740.6 L489.2,729.9 L491.5,739.0 L481.2,740.9 C479.27,740.82 473.28,741.07 469.60,740.40 C465.92,739.73 462.20,738.47 459.10,736.90 C456.00,735.33 453.13,733.13 451.00,731.00 C448.87,728.87 447.57,726.62 446.30,724.10 C445.03,721.58 443.98,718.82 443.40,715.90 C442.82,712.98 442.70,709.52 442.80,706.60 C442.90,703.68 443.22,701.12 444.00,698.40 C444.78,695.68 445.95,692.92 447.50,690.30 C449.05,687.68 451.02,685.03 453.30,682.70 C455.58,680.37 459.88,677.37 461.20,676.30 Z" fill="url(#bluearr)" stroke="#1f3a72" stroke-width="0.9" stroke-linejoin="miter"/>
<circle cx="513.7" cy="739.0" r="12.8" fill="url(#zr)" stroke="#222" stroke-width="0.9"/>
<text x="505.3" y="744.6" font-family="Liberation Sans" font-size="15.5" fill="#000" text-anchor="start" font-weight="normal" >Zr</text>
<path d="M536.8,753.5 H545.4 M541.1,749.2 V757.8" stroke="#111" stroke-width="1.3"/>
<path d="M561.90,758.40 L574.72,765.80 L574.72,780.60 L561.90,788.00 L549.08,780.60 L549.08,765.80 Z" fill="url(#hexg)" stroke="#1d4c6e" stroke-width="2"/>
<path d="M552.68,767.88 L561.91,762.55" stroke="#1d4c6e" stroke-width="1.1"/>
<path d="M571.12,767.87 L571.12,778.53" stroke="#1d4c6e" stroke-width="1.1"/>
<path d="M561.91,783.85 L552.68,778.52" stroke="#1d4c6e" stroke-width="1.1"/>
<path d="M561.90,758.40 V751.0 M549.08,780.60 L539.6,784.8 M574.72,780.60 L583.8,784.8" stroke="#111" stroke-width="1.1"/>
<text x="558.4" y="747.6" font-family="Liberation Sans" font-size="10" fill="#000" text-anchor="start" font-weight="bold" >COOH</text>
<text x="509.8" y="791.4" font-family="Liberation Sans" font-size="10" fill="#000" text-anchor="start" font-weight="bold" >HOOC</text>
<text x="584.4" y="791.4" font-family="Liberation Sans" font-size="10" fill="#000" text-anchor="start" font-weight="bold" >COOH</text>
</svg>
</body></html>
